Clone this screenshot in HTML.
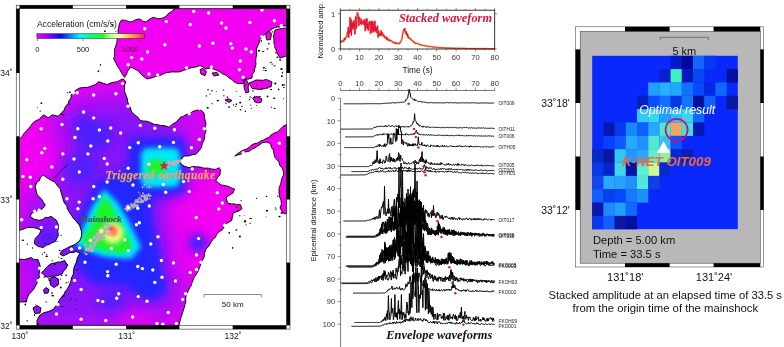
<!DOCTYPE html>
<html lang="en"><head><meta charset="utf-8"><title>Figure</title>
<style>html,body{margin:0;padding:0;background:#fff}body{width:784px;height:347px;overflow:hidden}svg{display:block}text{white-space:pre}</style></head><body>
<svg width="784" height="347" viewBox="0 0 784 347">
<rect width="784" height="347" fill="#fff"/>
<defs>
<filter id="b14" filterUnits="userSpaceOnUse" x="-40" y="-40" width="400" height="440"><feGaussianBlur stdDeviation="14"/></filter>
<filter id="b2" filterUnits="userSpaceOnUse" x="-40" y="-40" width="400" height="440"><feGaussianBlur stdDeviation="2"/></filter>
<filter id="b10" filterUnits="userSpaceOnUse" x="-40" y="-40" width="400" height="440"><feGaussianBlur stdDeviation="10"/></filter>
<filter id="b7" filterUnits="userSpaceOnUse" x="-40" y="-40" width="400" height="440"><feGaussianBlur stdDeviation="7"/></filter>
<filter id="b5" filterUnits="userSpaceOnUse" x="-40" y="-40" width="400" height="440"><feGaussianBlur stdDeviation="5"/></filter>
<filter id="b35" filterUnits="userSpaceOnUse" x="-40" y="-40" width="400" height="440"><feGaussianBlur stdDeviation="3.5"/></filter>
<filter id="b25" filterUnits="userSpaceOnUse" x="-40" y="-40" width="400" height="440"><feGaussianBlur stdDeviation="2.5"/></filter>
<filter id="b15" filterUnits="userSpaceOnUse" x="-40" y="-40" width="400" height="440"><feGaussianBlur stdDeviation="1.5"/></filter>
<filter id="b1" filterUnits="userSpaceOnUse" x="-40" y="-40" width="400" height="440"><feGaussianBlur stdDeviation="0.9"/></filter>
<linearGradient id="cbar" x1="0" x2="1" y1="0" y2="0"><stop offset="0" stop-color="#f000f0"/><stop offset="0.12" stop-color="#8000ff"/><stop offset="0.22" stop-color="#0808ff"/><stop offset="0.32" stop-color="#0090ff"/><stop offset="0.40" stop-color="#00f8f8"/><stop offset="0.50" stop-color="#00ff80"/><stop offset="0.61" stop-color="#20ff20"/><stop offset="0.69" stop-color="#c8ffb0"/><stop offset="0.77" stop-color="#ffffa0"/><stop offset="0.85" stop-color="#ffc850"/><stop offset="0.93" stop-color="#ff7040"/><stop offset="1" stop-color="#f02070"/></linearGradient>
<clipPath id="land"><path d="M174.0 8.6 L177.0 8.6 L180.1 8.6 L183.1 8.6 L186.2 8.6 L189.2 8.6 L192.2 8.6 L195.3 8.6 L198.3 8.6 L201.4 8.6 L204.4 8.6 L207.4 8.6 L210.5 8.6 L213.5 8.6 L216.6 8.6 L219.6 8.6 L222.6 8.6 L225.7 8.6 L228.7 8.6 L231.8 8.6 L234.8 8.6 L237.9 8.6 L240.9 8.6 L243.9 8.6 L247.0 8.6 L250.0 8.6 L253.1 8.6 L256.1 8.6 L259.1 8.6 L262.2 8.6 L265.2 8.6 L268.3 8.6 L271.3 8.6 L274.3 8.6 L277.4 8.6 L280.4 8.6 L283.5 8.6 L286.5 8.6 L286.5 12.1 L286.5 15.6 L286.5 19.0 L286.5 22.5 L286.5 26.0 L282.4 25.9 L279.0 27.0 L275.8 27.2 L272.0 29.0 L269.6 30.9 L266.2 33.3 L263.7 35.3 L262.0 37.5 L259.8 39.6 L258.9 43.8 L257.6 46.0 L256.4 49.4 L256.8 54.5 L256.0 57.6 L255.7 61.2 L256.0 64.4 L254.7 69.0 L254.4 71.6 L252.3 74.3 L252.0 78.0 L248.7 79.1 L246.0 79.0 L243.0 83.6 L237.5 83.6 L234.0 81.8 L232.0 79.5 L228.8 77.8 L226.0 75.2 L222.3 73.7 L220.5 72.3 L217.3 70.6 L214.1 69.3 L211.5 67.7 L205.8 69.0 L202.8 66.9 L200.0 65.5 L196.5 66.9 L192.0 67.5 L187.3 69.1 L183.6 70.4 L179.3 71.9 L175.0 72.0 L171.8 71.9 L167.7 72.5 L165.7 72.8 L162.0 74.5 L159.0 75.9 L155.6 76.4 L153.3 77.4 L149.3 78.5 L147.0 79.0 L143.0 76.0 L140.7 73.4 L137.5 70.6 L133.0 68.0 L130.3 67.3 L127.4 71.6 L126.6 74.2 L124.5 77.4 L121.6 73.0 L119.8 69.6 L117.3 65.9 L115.5 62.2 L113.5 58.6 L114.7 56.3 L114.6 52.6 L114.4 49.5 L115.8 46.0 L116.8 42.6 L117.3 37.5 L118.3 33.7 L118.0 31.1 L118.7 27.4 L119.3 23.6 L121.6 20.0 L125.2 20.3 L130.0 22.0 L132.5 21.5 L136.0 19.5 L140.0 19.0 L142.8 21.2 L146.0 22.0 L148.9 19.6 L153.3 17.3 L157.6 18.7 L161.4 18.5 L165.0 17.0 L169.0 13.0 L172.1 11.5Z"/><path d="M19.5 139.0 L22.2 136.5 L24.0 133.4 L26.5 130.7 L28.2 129.0 L31.2 125.3 L32.3 123.5 L35.3 120.9 L39.5 119.2 L41.2 117.0 L43.8 114.8 L48.1 117.7 L52.5 114.8 L58.2 116.3 L61.3 113.0 L64.0 110.5 L65.3 106.8 L68.3 103.3 L69.0 100.6 L71.0 97.9 L71.2 94.7 L73.4 92.7 L75.5 90.3 L79.4 88.1 L82.7 87.5 L87.8 87.3 L91.4 86.0 L95.7 84.4 L98.6 81.7 L102.6 83.0 L107.0 84.6 L112.0 82.5 L117.3 81.7 L119.4 80.5 L123.0 78.8 L126.0 81.7 L124.5 85.2 L124.5 90.3 L124.9 92.6 L126.1 95.3 L127.4 99.0 L127.5 101.2 L128.6 104.5 L130.3 107.6 L131.6 111.9 L134.6 114.8 L137.7 117.1 L140.3 120.6 L143.2 121.0 L146.8 121.2 L150.4 122.5 L154.4 124.4 L157.1 124.5 L160.5 125.5 L164.1 125.6 L169.2 127.2 L172.5 124.2 L176.4 122.0 L179.1 118.8 L180.7 116.9 L182.7 116.7 L186.5 114.3 L189.3 114.0 L192.7 111.4 L196.0 110.5 L200.0 109.0 L204.0 113.0 L204.6 117.4 L205.0 120.0 L206.0 124.0 L205.2 127.1 L206.0 131.0 L204.7 134.5 L204.7 137.5 L204.0 140.0 L202.4 143.3 L201.4 147.5 L198.0 152.0 L195.6 154.3 L192.0 154.8 L188.4 156.0 L183.6 156.0 L181.9 158.7 L179.0 160.5 L182.0 165.0 L185.0 166.4 L189.0 167.7 L192.4 166.6 L195.5 166.8 L200.0 167.0 L203.4 168.0 L208.5 168.2 L211.5 169.0 L215.7 169.4 L219.1 167.9 L221.6 167.7 L220.3 170.9 L220.0 175.0 L217.5 177.2 L216.0 180.5 L219.0 183.5 L221.6 185.0 L225.8 185.7 L228.8 186.5 L232.0 188.3 L234.6 189.0 L233.0 193.0 L228.8 195.5 L226.0 197.4 L227.5 203.0 L231.5 203.9 L234.4 203.8 L236.6 204.7 L240.4 204.6 L241.9 208.9 L238.7 210.9 L236.9 211.6 L233.2 213.2 L232.3 217.6 L231.8 220.4 L229.8 221.7 L226.3 223.6 L224.6 226.2 L222.4 229.7 L218.8 232.0 L216.2 235.0 L215.8 237.1 L213.0 239.2 L210.6 242.9 L208.7 246.4 L205.9 249.1 L204.4 253.6 L204.3 256.7 L202.5 260.1 L201.5 262.2 L199.9 266.8 L198.6 270.0 L197.4 272.5 L195.0 276.0 L193.6 278.5 L192.5 281.8 L192.0 284.5 L189.7 287.7 L187.7 291.9 L186.5 294.5 L185.7 297.8 L185.7 302.0 L185.0 304.6 L183.9 308.7 L183.0 311.4 L182.0 314.7 L181.0 317.4 L179.9 321.3 L179.0 325.4 L176.0 325.4 L173.0 325.4 L169.9 325.4 L166.9 325.4 L163.9 325.4 L160.9 325.4 L157.9 325.4 L154.8 325.4 L151.8 325.4 L148.8 325.4 L145.8 325.4 L142.7 325.4 L139.7 325.4 L136.7 325.4 L133.7 325.4 L130.7 325.4 L127.6 325.4 L124.6 325.4 L121.6 325.4 L118.6 325.4 L115.6 325.4 L112.5 325.4 L109.5 325.4 L106.5 325.4 L103.5 325.4 L100.4 325.4 L97.4 325.4 L94.4 325.4 L91.4 325.4 L88.4 325.4 L85.3 325.4 L82.3 325.4 L79.3 325.4 L76.3 325.4 L73.3 325.4 L70.2 325.4 L67.2 325.4 L64.2 325.4 L61.2 325.4 L58.1 325.4 L55.1 325.4 L52.1 325.4 L49.1 325.4 L46.1 325.4 L43.0 325.4 L40.0 325.4 L37.0 325.4 L37.0 320.6 L39.6 315.4 L43.5 312.8 L48.7 311.5 L53.9 309.0 L55.0 306.9 L57.8 303.7 L59.2 300.3 L61.7 297.0 L63.8 294.6 L64.9 292.0 L66.9 289.5 L68.9 286.1 L70.8 281.7 L71.4 278.0 L73.4 274.0 L73.5 269.6 L74.6 266.0 L76.4 262.2 L77.2 258.3 L80.0 253.0 L76.0 251.5 L73.1 252.5 L70.0 252.5 L67.2 254.1 L63.0 256.0 L60.0 254.0 L62.0 250.5 L66.2 248.5 L70.0 246.5 L75.0 244.5 L79.6 241.0 L81.6 236.0 L81.6 231.4 L80.6 228.7 L79.6 225.3 L77.5 222.9 L75.5 220.3 L73.5 218.6 L71.5 215.3 L69.8 212.8 L67.4 209.0 L66.7 205.6 L64.4 203.0 L63.5 200.8 L62.4 197.0 L61.0 192.0 L60.1 188.6 L58.0 186.5 L54.8 182.0 L51.2 180.4 L49.0 179.0 L45.3 176.5 L43.2 175.0 L40.4 177.6 L39.6 180.4 L37.0 182.0 L35.2 186.5 L36.2 191.0 L37.1 194.4 L39.2 197.0 L41.5 198.9 L43.2 202.0 L45.3 205.0 L42.2 209.0 L37.2 211.0 L32.1 213.0 L30.1 216.3 L34.2 219.3 L39.2 220.3 L42.9 219.6 L45.3 217.3 L47.8 217.6 L51.3 216.3 L53.7 218.3 L56.4 220.3 L58.3 224.4 L58.4 227.4 L57.8 231.3 L58.4 235.4 L56.9 238.2 L55.3 241.5 L51.8 242.7 L49.3 244.5 L46.6 245.1 L43.2 247.5 L38.2 246.5 L34.2 243.5 L35.2 238.5 L39.2 234.4 L41.2 230.4 L37.2 228.4 L34.2 227.8 L31.1 227.4 L27.2 227.6 L25.1 228.4 L19.5 230.4 L19.5 227.4 L19.5 224.3 L19.5 221.3 L19.5 218.2 L19.5 215.2 L19.5 212.1 L19.5 209.1 L19.5 206.0 L19.5 203.0 L19.5 199.9 L19.5 196.9 L19.5 193.8 L19.5 190.8 L19.5 187.7 L19.5 184.7 L19.5 181.7 L19.5 178.6 L19.5 175.6 L19.5 172.5 L19.5 169.5 L19.5 166.4 L19.5 163.4 L19.5 160.3 L19.5 157.3 L19.5 154.2 L19.5 151.2 L19.5 148.1 L19.5 145.1 L19.5 142.0Z"/><path d="M19.5 302.0 L19.5 298.9 L19.5 295.9 L19.5 292.8 L19.5 289.7 L19.5 286.6 L19.5 283.6 L19.5 280.5 L19.5 277.4 L19.5 274.4 L19.5 271.3 L19.5 268.2 L19.5 265.1 L19.5 262.1 L19.5 259.0 L24.2 259.6 L27.9 258.6 L31.1 257.5 L33.8 259.4 L38.0 259.6 L39.8 264.6 L40.6 268.0 L39.5 270.7 L39.0 274.7 L39.4 277.3 L37.8 279.5 L37.0 283.0 L34.6 287.7 L32.5 290.7 L31.3 291.9 L28.8 294.6 L27.0 298.8 L26.5 301.5 L22.0 302.0Z"/><path d="M41.5 272.7 L44.5 270.0 L47.3 266.5 L50.6 263.9 L55.3 262.8 L58.7 261.9 L60.7 262.1 L64.6 260.5 L67.5 265.0 L66.1 268.4 L63.4 271.3 L62.5 273.5 L57.6 275.6 L54.2 276.3 L51.1 276.1 L48.2 277.2 L45.0 276.5Z"/><path d="M43.5 290.0 L46.0 287.5 L49.0 289.5 L48.0 293.0 L44.5 293.5Z"/><path d="M33.0 308.0 L37.0 305.5 L41.0 308.0 L40.0 313.0 L35.0 313.5Z"/><path d="M286.5 124.5 L283.2 126.2 L280.7 128.8 L277.8 131.7 L274.2 133.0 L271.1 135.0 L269.0 137.5 L265.8 138.5 L263.8 139.9 L260.5 141.0 L257.6 143.0 L254.5 143.6 L251.4 145.1 L249.0 147.5 L246.4 149.1 L242.4 150.5 L240.0 152.0 L238.1 153.3 L234.6 156.0 L238.0 154.8 L240.3 154.5 L243.0 152.9 L246.0 151.8 L249.2 151.2 L251.5 149.5 L255.1 147.7 L257.6 146.0 L260.2 144.4 L262.4 142.7 L266.0 142.0 L270.6 143.5 L271.3 147.4 L273.5 150.4 L273.8 153.4 L275.0 157.6 L279.0 162.0 L279.8 165.5 L282.0 167.7 L283.5 171.7 L283.6 175.0 L282.2 177.4 L281.3 180.7 L280.7 183.6 L279.2 187.7 L279.0 192.0 L279.6 196.8 L281.0 200.0 L281.4 204.1 L280.0 208.0 L283.0 213.0 L286.5 214.0 L286.5 210.9 L286.5 207.8 L286.5 204.7 L286.5 201.7 L286.5 198.6 L286.5 195.5 L286.5 192.4 L286.5 189.3 L286.5 186.2 L286.5 183.1 L286.5 180.1 L286.5 177.0 L286.5 173.9 L286.5 170.8 L286.5 167.7 L286.5 164.6 L286.5 161.5 L286.5 158.4 L286.5 155.4 L286.5 152.3 L286.5 149.2 L286.5 146.1 L286.5 143.0 L286.5 139.9 L286.5 136.8 L286.5 133.8 L286.5 130.7 L286.5 127.6Z"/><path d="M266.0 33.0 L269.0 31.0 L271.5 34.0 L270.5 39.5 L267.0 40.0 L266.0 37.3Z"/><path d="M275.0 30.0 L278.5 29.1 L281.8 28.5 L286.5 28.0 L286.5 31.1 L286.5 34.2 L286.5 37.3 L286.5 40.4 L286.5 43.6 L286.5 46.7 L286.5 49.8 L286.5 52.9 L286.5 56.0 L283.2 57.0 L280.0 58.0 L277.5 54.0 L276.0 50.0 L274.4 46.2 L273.9 43.2 L274.0 40.0 L273.5 35.8 L274.3 32.9Z"/><path d="M249.0 83.0 L252.7 81.6 L256.0 80.0 L259.8 80.1 L263.1 80.3 L266.0 79.5 L268.8 80.4 L272.0 82.0 L271.0 87.0 L268.9 87.0 L265.4 88.6 L262.0 89.0 L257.8 89.4 L256.0 88.9 L252.0 88.5 L250.9 86.3Z"/><path d="M212.0 73.0 L217.0 72.5 L219.0 75.0 L214.0 76.0Z"/><path d="M243.0 80.0 L246.0 79.0 L248.5 84.0 L248.1 88.0 L249.0 92.0 L246.0 93.0 L245.0 90.6 L244.0 87.0 L244.0 84.1Z"/><path d="M252.6 98.0 L257.0 96.5 L262.0 99.0 L261.0 102.3 L258.2 102.9 L255.0 102.0Z"/><path d="M225.0 100.0 L228.5 98.8 L232.0 100.5 L229.0 102.5Z"/><path d="M200.0 69.5 L203.0 68.5 L206.5 71.5 L205.0 75.7 L201.0 74.0Z"/><path d="M50.0 278.0 L54.0 276.8 L58.5 279.0 L58.6 282.3 L58.0 285.0 L54.0 287.5 L50.5 285.0 L49.8 280.7Z"/></clipPath>
<clipPath id="mapclip"><rect x="19.5" y="8.6" width="267" height="316.8"/></clipPath>
</defs>
<g clip-path="url(#mapclip)"><g clip-path="url(#land)">
<rect x="16" y="5" width="275" height="325" fill="#f200f2"/>
<g fill="#8214f8" filter="url(#b14)" opacity="0.95">
<polygon points="55,105 130,92 200,118 204,160 172,200 172,262 188,300 150,330 20,330 20,215 40,190 60,160"/>
</g>
<g fill="#f200f2" filter="url(#b10)">
<ellipse cx="38" cy="160" rx="20" ry="20" opacity="0.9"/>
<ellipse cx="189" cy="214" rx="17" ry="22" opacity="1"/>
<ellipse cx="138" cy="321" rx="20" ry="11" opacity="1"/>
<ellipse cx="188" cy="256" rx="11" ry="10" opacity="0.8"/>
<ellipse cx="214" cy="196" rx="14" ry="16" opacity="0.9"/>
<ellipse cx="190" cy="134" rx="14" ry="14" opacity="0.8"/>
<ellipse cx="26" cy="282" rx="9" ry="16" opacity="0.6"/>
</g>
<g fill="#2428ff" filter="url(#b5)">
<polygon points="129,138 185,137 186,194 153,198 151,215 160,250 163,280 142,296 120,285 92,284 73,262 72,232 85,205 97,181 128,168"/>
<ellipse cx="150" cy="286" rx="17" ry="14" opacity="1"/>
<ellipse cx="198" cy="243" rx="9" ry="9" opacity="0.95"/>
<ellipse cx="94" cy="136" rx="19" ry="16" opacity="0.6"/>
<ellipse cx="80" cy="168" rx="18" ry="16" opacity="0.55"/>
<ellipse cx="48" cy="238" rx="10" ry="9" opacity="0.6"/>
<ellipse cx="81" cy="122" rx="10" ry="9" opacity="0.45"/>
<ellipse cx="112" cy="300" rx="14" ry="10" opacity="0.5"/>
</g>
<g fill="#00e8f8" filter="url(#b25)">
<rect x="141" y="148" width="39" height="39" rx="7"/>
<polygon points="104,189 118,203 130,224 141,247 131,259 105,257 88,251 75,244 83,228 91,209"/>
</g>
<g fill="#1cf42c" filter="url(#b2)">
<ellipse cx="156.5" cy="166.8" rx="10" ry="7.5" opacity="1"/>
<polygon points="105,196 114,210 123,227 133,247 124,254 105,251 91,247 81,241 92,224 98,207"/>
</g>
<g fill="#f4f884" filter="url(#b25)"><ellipse cx="113" cy="233" rx="10.5" ry="10.5" opacity="1"/></g>
<g fill="#ff8c50" filter="url(#b15)"><ellipse cx="113" cy="231" rx="5" ry="5.5" opacity="1"/></g>
<g fill="#f03c80" filter="url(#b1)"><ellipse cx="110.5" cy="228.5" rx="2.4" ry="2.4" opacity="1"/></g>
</g></g>
<g clip-path="url(#mapclip)" fill="none" stroke="#000" stroke-width="0.9" stroke-linejoin="round">
<path d="M174.0 8.6 L177.0 8.6 L180.1 8.6 L183.1 8.6 L186.2 8.6 L189.2 8.6 L192.2 8.6 L195.3 8.6 L198.3 8.6 L201.4 8.6 L204.4 8.6 L207.4 8.6 L210.5 8.6 L213.5 8.6 L216.6 8.6 L219.6 8.6 L222.6 8.6 L225.7 8.6 L228.7 8.6 L231.8 8.6 L234.8 8.6 L237.9 8.6 L240.9 8.6 L243.9 8.6 L247.0 8.6 L250.0 8.6 L253.1 8.6 L256.1 8.6 L259.1 8.6 L262.2 8.6 L265.2 8.6 L268.3 8.6 L271.3 8.6 L274.3 8.6 L277.4 8.6 L280.4 8.6 L283.5 8.6 L286.5 8.6 L286.5 12.1 L286.5 15.6 L286.5 19.0 L286.5 22.5 L286.5 26.0 L282.4 25.9 L279.0 27.0 L275.8 27.2 L272.0 29.0 L269.6 30.9 L266.2 33.3 L263.7 35.3 L262.0 37.5 L259.8 39.6 L258.9 43.8 L257.6 46.0 L256.4 49.4 L256.8 54.5 L256.0 57.6 L255.7 61.2 L256.0 64.4 L254.7 69.0 L254.4 71.6 L252.3 74.3 L252.0 78.0 L248.7 79.1 L246.0 79.0 L243.0 83.6 L237.5 83.6 L234.0 81.8 L232.0 79.5 L228.8 77.8 L226.0 75.2 L222.3 73.7 L220.5 72.3 L217.3 70.6 L214.1 69.3 L211.5 67.7 L205.8 69.0 L202.8 66.9 L200.0 65.5 L196.5 66.9 L192.0 67.5 L187.3 69.1 L183.6 70.4 L179.3 71.9 L175.0 72.0 L171.8 71.9 L167.7 72.5 L165.7 72.8 L162.0 74.5 L159.0 75.9 L155.6 76.4 L153.3 77.4 L149.3 78.5 L147.0 79.0 L143.0 76.0 L140.7 73.4 L137.5 70.6 L133.0 68.0 L130.3 67.3 L127.4 71.6 L126.6 74.2 L124.5 77.4 L121.6 73.0 L119.8 69.6 L117.3 65.9 L115.5 62.2 L113.5 58.6 L114.7 56.3 L114.6 52.6 L114.4 49.5 L115.8 46.0 L116.8 42.6 L117.3 37.5 L118.3 33.7 L118.0 31.1 L118.7 27.4 L119.3 23.6 L121.6 20.0 L125.2 20.3 L130.0 22.0 L132.5 21.5 L136.0 19.5 L140.0 19.0 L142.8 21.2 L146.0 22.0 L148.9 19.6 L153.3 17.3 L157.6 18.7 L161.4 18.5 L165.0 17.0 L169.0 13.0 L172.1 11.5Z"/>
<path d="M19.5 139.0 L22.2 136.5 L24.0 133.4 L26.5 130.7 L28.2 129.0 L31.2 125.3 L32.3 123.5 L35.3 120.9 L39.5 119.2 L41.2 117.0 L43.8 114.8 L48.1 117.7 L52.5 114.8 L58.2 116.3 L61.3 113.0 L64.0 110.5 L65.3 106.8 L68.3 103.3 L69.0 100.6 L71.0 97.9 L71.2 94.7 L73.4 92.7 L75.5 90.3 L79.4 88.1 L82.7 87.5 L87.8 87.3 L91.4 86.0 L95.7 84.4 L98.6 81.7 L102.6 83.0 L107.0 84.6 L112.0 82.5 L117.3 81.7 L119.4 80.5 L123.0 78.8 L126.0 81.7 L124.5 85.2 L124.5 90.3 L124.9 92.6 L126.1 95.3 L127.4 99.0 L127.5 101.2 L128.6 104.5 L130.3 107.6 L131.6 111.9 L134.6 114.8 L137.7 117.1 L140.3 120.6 L143.2 121.0 L146.8 121.2 L150.4 122.5 L154.4 124.4 L157.1 124.5 L160.5 125.5 L164.1 125.6 L169.2 127.2 L172.5 124.2 L176.4 122.0 L179.1 118.8 L180.7 116.9 L182.7 116.7 L186.5 114.3 L189.3 114.0 L192.7 111.4 L196.0 110.5 L200.0 109.0 L204.0 113.0 L204.6 117.4 L205.0 120.0 L206.0 124.0 L205.2 127.1 L206.0 131.0 L204.7 134.5 L204.7 137.5 L204.0 140.0 L202.4 143.3 L201.4 147.5 L198.0 152.0 L195.6 154.3 L192.0 154.8 L188.4 156.0 L183.6 156.0 L181.9 158.7 L179.0 160.5 L182.0 165.0 L185.0 166.4 L189.0 167.7 L192.4 166.6 L195.5 166.8 L200.0 167.0 L203.4 168.0 L208.5 168.2 L211.5 169.0 L215.7 169.4 L219.1 167.9 L221.6 167.7 L220.3 170.9 L220.0 175.0 L217.5 177.2 L216.0 180.5 L219.0 183.5 L221.6 185.0 L225.8 185.7 L228.8 186.5 L232.0 188.3 L234.6 189.0 L233.0 193.0 L228.8 195.5 L226.0 197.4 L227.5 203.0 L231.5 203.9 L234.4 203.8 L236.6 204.7 L240.4 204.6 L241.9 208.9 L238.7 210.9 L236.9 211.6 L233.2 213.2 L232.3 217.6 L231.8 220.4 L229.8 221.7 L226.3 223.6 L224.6 226.2 L222.4 229.7 L218.8 232.0 L216.2 235.0 L215.8 237.1 L213.0 239.2 L210.6 242.9 L208.7 246.4 L205.9 249.1 L204.4 253.6 L204.3 256.7 L202.5 260.1 L201.5 262.2 L199.9 266.8 L198.6 270.0 L197.4 272.5 L195.0 276.0 L193.6 278.5 L192.5 281.8 L192.0 284.5 L189.7 287.7 L187.7 291.9 L186.5 294.5 L185.7 297.8 L185.7 302.0 L185.0 304.6 L183.9 308.7 L183.0 311.4 L182.0 314.7 L181.0 317.4 L179.9 321.3 L179.0 325.4 L176.0 325.4 L173.0 325.4 L169.9 325.4 L166.9 325.4 L163.9 325.4 L160.9 325.4 L157.9 325.4 L154.8 325.4 L151.8 325.4 L148.8 325.4 L145.8 325.4 L142.7 325.4 L139.7 325.4 L136.7 325.4 L133.7 325.4 L130.7 325.4 L127.6 325.4 L124.6 325.4 L121.6 325.4 L118.6 325.4 L115.6 325.4 L112.5 325.4 L109.5 325.4 L106.5 325.4 L103.5 325.4 L100.4 325.4 L97.4 325.4 L94.4 325.4 L91.4 325.4 L88.4 325.4 L85.3 325.4 L82.3 325.4 L79.3 325.4 L76.3 325.4 L73.3 325.4 L70.2 325.4 L67.2 325.4 L64.2 325.4 L61.2 325.4 L58.1 325.4 L55.1 325.4 L52.1 325.4 L49.1 325.4 L46.1 325.4 L43.0 325.4 L40.0 325.4 L37.0 325.4 L37.0 320.6 L39.6 315.4 L43.5 312.8 L48.7 311.5 L53.9 309.0 L55.0 306.9 L57.8 303.7 L59.2 300.3 L61.7 297.0 L63.8 294.6 L64.9 292.0 L66.9 289.5 L68.9 286.1 L70.8 281.7 L71.4 278.0 L73.4 274.0 L73.5 269.6 L74.6 266.0 L76.4 262.2 L77.2 258.3 L80.0 253.0 L76.0 251.5 L73.1 252.5 L70.0 252.5 L67.2 254.1 L63.0 256.0 L60.0 254.0 L62.0 250.5 L66.2 248.5 L70.0 246.5 L75.0 244.5 L79.6 241.0 L81.6 236.0 L81.6 231.4 L80.6 228.7 L79.6 225.3 L77.5 222.9 L75.5 220.3 L73.5 218.6 L71.5 215.3 L69.8 212.8 L67.4 209.0 L66.7 205.6 L64.4 203.0 L63.5 200.8 L62.4 197.0 L61.0 192.0 L60.1 188.6 L58.0 186.5 L54.8 182.0 L51.2 180.4 L49.0 179.0 L45.3 176.5 L43.2 175.0 L40.4 177.6 L39.6 180.4 L37.0 182.0 L35.2 186.5 L36.2 191.0 L37.1 194.4 L39.2 197.0 L41.5 198.9 L43.2 202.0 L45.3 205.0 L42.2 209.0 L37.2 211.0 L32.1 213.0 L30.1 216.3 L34.2 219.3 L39.2 220.3 L42.9 219.6 L45.3 217.3 L47.8 217.6 L51.3 216.3 L53.7 218.3 L56.4 220.3 L58.3 224.4 L58.4 227.4 L57.8 231.3 L58.4 235.4 L56.9 238.2 L55.3 241.5 L51.8 242.7 L49.3 244.5 L46.6 245.1 L43.2 247.5 L38.2 246.5 L34.2 243.5 L35.2 238.5 L39.2 234.4 L41.2 230.4 L37.2 228.4 L34.2 227.8 L31.1 227.4 L27.2 227.6 L25.1 228.4 L19.5 230.4 L19.5 227.4 L19.5 224.3 L19.5 221.3 L19.5 218.2 L19.5 215.2 L19.5 212.1 L19.5 209.1 L19.5 206.0 L19.5 203.0 L19.5 199.9 L19.5 196.9 L19.5 193.8 L19.5 190.8 L19.5 187.7 L19.5 184.7 L19.5 181.7 L19.5 178.6 L19.5 175.6 L19.5 172.5 L19.5 169.5 L19.5 166.4 L19.5 163.4 L19.5 160.3 L19.5 157.3 L19.5 154.2 L19.5 151.2 L19.5 148.1 L19.5 145.1 L19.5 142.0Z"/>
<path d="M19.5 302.0 L19.5 298.9 L19.5 295.9 L19.5 292.8 L19.5 289.7 L19.5 286.6 L19.5 283.6 L19.5 280.5 L19.5 277.4 L19.5 274.4 L19.5 271.3 L19.5 268.2 L19.5 265.1 L19.5 262.1 L19.5 259.0 L24.2 259.6 L27.9 258.6 L31.1 257.5 L33.8 259.4 L38.0 259.6 L39.8 264.6 L40.6 268.0 L39.5 270.7 L39.0 274.7 L39.4 277.3 L37.8 279.5 L37.0 283.0 L34.6 287.7 L32.5 290.7 L31.3 291.9 L28.8 294.6 L27.0 298.8 L26.5 301.5 L22.0 302.0Z"/>
<path d="M41.5 272.7 L44.5 270.0 L47.3 266.5 L50.6 263.9 L55.3 262.8 L58.7 261.9 L60.7 262.1 L64.6 260.5 L67.5 265.0 L66.1 268.4 L63.4 271.3 L62.5 273.5 L57.6 275.6 L54.2 276.3 L51.1 276.1 L48.2 277.2 L45.0 276.5Z"/>
<path d="M43.5 290.0 L46.0 287.5 L49.0 289.5 L48.0 293.0 L44.5 293.5Z"/>
<path d="M33.0 308.0 L37.0 305.5 L41.0 308.0 L40.0 313.0 L35.0 313.5Z"/>
<path d="M286.5 124.5 L283.2 126.2 L280.7 128.8 L277.8 131.7 L274.2 133.0 L271.1 135.0 L269.0 137.5 L265.8 138.5 L263.8 139.9 L260.5 141.0 L257.6 143.0 L254.5 143.6 L251.4 145.1 L249.0 147.5 L246.4 149.1 L242.4 150.5 L240.0 152.0 L238.1 153.3 L234.6 156.0 L238.0 154.8 L240.3 154.5 L243.0 152.9 L246.0 151.8 L249.2 151.2 L251.5 149.5 L255.1 147.7 L257.6 146.0 L260.2 144.4 L262.4 142.7 L266.0 142.0 L270.6 143.5 L271.3 147.4 L273.5 150.4 L273.8 153.4 L275.0 157.6 L279.0 162.0 L279.8 165.5 L282.0 167.7 L283.5 171.7 L283.6 175.0 L282.2 177.4 L281.3 180.7 L280.7 183.6 L279.2 187.7 L279.0 192.0 L279.6 196.8 L281.0 200.0 L281.4 204.1 L280.0 208.0 L283.0 213.0 L286.5 214.0 L286.5 210.9 L286.5 207.8 L286.5 204.7 L286.5 201.7 L286.5 198.6 L286.5 195.5 L286.5 192.4 L286.5 189.3 L286.5 186.2 L286.5 183.1 L286.5 180.1 L286.5 177.0 L286.5 173.9 L286.5 170.8 L286.5 167.7 L286.5 164.6 L286.5 161.5 L286.5 158.4 L286.5 155.4 L286.5 152.3 L286.5 149.2 L286.5 146.1 L286.5 143.0 L286.5 139.9 L286.5 136.8 L286.5 133.8 L286.5 130.7 L286.5 127.6Z"/>
<path d="M266.0 33.0 L269.0 31.0 L271.5 34.0 L270.5 39.5 L267.0 40.0 L266.0 37.3Z"/>
<path d="M275.0 30.0 L278.5 29.1 L281.8 28.5 L286.5 28.0 L286.5 31.1 L286.5 34.2 L286.5 37.3 L286.5 40.4 L286.5 43.6 L286.5 46.7 L286.5 49.8 L286.5 52.9 L286.5 56.0 L283.2 57.0 L280.0 58.0 L277.5 54.0 L276.0 50.0 L274.4 46.2 L273.9 43.2 L274.0 40.0 L273.5 35.8 L274.3 32.9Z"/>
<path d="M249.0 83.0 L252.7 81.6 L256.0 80.0 L259.8 80.1 L263.1 80.3 L266.0 79.5 L268.8 80.4 L272.0 82.0 L271.0 87.0 L268.9 87.0 L265.4 88.6 L262.0 89.0 L257.8 89.4 L256.0 88.9 L252.0 88.5 L250.9 86.3Z"/>
<path d="M212.0 73.0 L217.0 72.5 L219.0 75.0 L214.0 76.0Z"/>
<path d="M243.0 80.0 L246.0 79.0 L248.5 84.0 L248.1 88.0 L249.0 92.0 L246.0 93.0 L245.0 90.6 L244.0 87.0 L244.0 84.1Z"/>
<path d="M252.6 98.0 L257.0 96.5 L262.0 99.0 L261.0 102.3 L258.2 102.9 L255.0 102.0Z"/>
<path d="M225.0 100.0 L228.5 98.8 L232.0 100.5 L229.0 102.5Z"/>
<path d="M200.0 69.5 L203.0 68.5 L206.5 71.5 L205.0 75.7 L201.0 74.0Z"/>
<path d="M50.0 278.0 L54.0 276.8 L58.5 279.0 L58.6 282.3 L58.0 285.0 L54.0 287.5 L50.5 285.0 L49.8 280.7Z"/>
<path d="M67.7 165 L63 169 L59 172.5 L56.5 176 L53.3 178" stroke-width="0.7"/>
</g>
<g clip-path="url(#mapclip)" fill="#b4b4b4" stroke="none">
<circle cx="92.7" cy="238.6" r="0.9"/>
<circle cx="96.7" cy="238.1" r="1.0"/>
<circle cx="100.4" cy="234.8" r="0.8"/>
<circle cx="89.9" cy="246.8" r="0.6"/>
<circle cx="110.2" cy="225.8" r="1.0"/>
<circle cx="92.5" cy="248.1" r="0.6"/>
<circle cx="91.0" cy="247.5" r="0.9"/>
<circle cx="97.4" cy="238.5" r="1.0"/>
<circle cx="96.5" cy="237.1" r="0.8"/>
<circle cx="111.4" cy="226.0" r="1.1"/>
<circle cx="93.8" cy="245.4" r="0.6"/>
<circle cx="100.3" cy="234.3" r="0.9"/>
<circle cx="107.2" cy="227.0" r="0.7"/>
<circle cx="101.2" cy="229.4" r="0.9"/>
<circle cx="86.4" cy="247.6" r="0.8"/>
<circle cx="86.5" cy="254.2" r="1.1"/>
<circle cx="89.5" cy="249.9" r="0.6"/>
<circle cx="104.7" cy="233.6" r="0.9"/>
<circle cx="90.9" cy="246.0" r="1.1"/>
<circle cx="88.4" cy="249.6" r="0.8"/>
<circle cx="107.9" cy="225.1" r="1.2"/>
<circle cx="88.6" cy="248.9" r="1.0"/>
<circle cx="90.4" cy="249.3" r="0.8"/>
<circle cx="102.5" cy="233.4" r="0.7"/>
<circle cx="87.7" cy="248.9" r="1.0"/>
<circle cx="90.4" cy="243.8" r="0.9"/>
<circle cx="99.8" cy="236.1" r="0.7"/>
<circle cx="106.6" cy="227.0" r="0.7"/>
<circle cx="103.6" cy="232.3" r="1.3"/>
<circle cx="104.0" cy="227.8" r="0.7"/>
<circle cx="89.1" cy="250.7" r="1.1"/>
<circle cx="93.5" cy="242.9" r="0.8"/>
<circle cx="90.6" cy="246.7" r="0.8"/>
<circle cx="100.2" cy="235.2" r="0.8"/>
<circle cx="106.4" cy="228.5" r="0.8"/>
<circle cx="97.4" cy="240.9" r="0.9"/>
<circle cx="100.2" cy="238.5" r="1.2"/>
<circle cx="106.1" cy="224.0" r="1.0"/>
<circle cx="90.3" cy="248.4" r="1.2"/>
<circle cx="102.1" cy="233.7" r="1.0"/>
<circle cx="96.9" cy="237.7" r="1.3"/>
<circle cx="85.8" cy="249.1" r="1.2"/>
<circle cx="101.6" cy="229.4" r="1.2"/>
<circle cx="92.9" cy="238.9" r="1.2"/>
<circle cx="96.7" cy="237.3" r="1.0"/>
<circle cx="98.4" cy="237.5" r="1.0"/>
<circle cx="85.0" cy="245.1" r="1.2"/>
<circle cx="100.1" cy="235.2" r="1.0"/>
<circle cx="96.6" cy="239.8" r="1.1"/>
<circle cx="86.0" cy="249.9" r="0.8"/>
<circle cx="99.2" cy="233.9" r="1.2"/>
<circle cx="93.9" cy="245.5" r="1.1"/>
<circle cx="93.1" cy="250.5" r="1.1"/>
<circle cx="97.5" cy="239.4" r="1.1"/>
<circle cx="88.2" cy="248.4" r="1.2"/>
<circle cx="103.7" cy="230.9" r="0.8"/>
<circle cx="86.4" cy="248.5" r="1.2"/>
<circle cx="103.3" cy="233.0" r="0.7"/>
<circle cx="96.3" cy="241.7" r="0.9"/>
<circle cx="98.6" cy="235.8" r="1.2"/>
<circle cx="106.9" cy="226.7" r="0.6"/>
<circle cx="108.1" cy="230.1" r="1.0"/>
<circle cx="93.6" cy="243.6" r="0.7"/>
<circle cx="99.9" cy="240.8" r="0.8"/>
<circle cx="92.4" cy="249.2" r="0.9"/>
<circle cx="98.4" cy="232.6" r="1.3"/>
<circle cx="102.0" cy="236.4" r="0.7"/>
<circle cx="84.4" cy="252.3" r="0.7"/>
<circle cx="91.1" cy="247.5" r="1.0"/>
<circle cx="100.0" cy="234.0" r="1.2"/>
<circle cx="109.6" cy="230.9" r="1.1"/>
<circle cx="87.3" cy="249.4" r="1.2"/>
<circle cx="91.6" cy="240.5" r="1.2"/>
<circle cx="104.3" cy="228.1" r="0.7"/>
<circle cx="103.2" cy="230.6" r="1.1"/>
<circle cx="95.6" cy="243.2" r="1.3"/>
<circle cx="98.7" cy="236.3" r="1.2"/>
<circle cx="104.5" cy="230.4" r="0.9"/>
<circle cx="98.8" cy="235.4" r="0.6"/>
<circle cx="107.0" cy="232.4" r="0.7"/>
<circle cx="94.3" cy="242.2" r="0.7"/>
<circle cx="97.3" cy="234.8" r="1.1"/>
<circle cx="102.5" cy="227.6" r="0.7"/>
<circle cx="90.2" cy="246.0" r="1.1"/>
<circle cx="97.0" cy="234.8" r="1.0"/>
<circle cx="91.0" cy="246.5" r="1.2"/>
<circle cx="94.2" cy="242.3" r="1.0"/>
<circle cx="99.7" cy="239.5" r="1.0"/>
<circle cx="104.4" cy="237.2" r="1.0"/>
<circle cx="96.1" cy="239.1" r="0.9"/>
<circle cx="103.6" cy="235.0" r="0.9"/>
<circle cx="108.4" cy="226.4" r="0.9"/>
<circle cx="86.6" cy="250.2" r="1.2"/>
<circle cx="96.5" cy="240.8" r="1.0"/>
<circle cx="108.6" cy="230.5" r="0.6"/>
<circle cx="91.5" cy="250.0" r="0.8"/>
<circle cx="93.8" cy="242.1" r="1.1"/>
<circle cx="88.2" cy="248.7" r="0.7"/>
<circle cx="96.5" cy="239.0" r="0.9"/>
<circle cx="98.8" cy="239.4" r="1.0"/>
<circle cx="97.0" cy="234.7" r="1.0"/>
<circle cx="105.3" cy="233.0" r="1.2"/>
<circle cx="105.3" cy="230.1" r="1.2"/>
<circle cx="95.3" cy="246.3" r="0.7"/>
<circle cx="91.8" cy="244.2" r="0.7"/>
<circle cx="101.7" cy="232.0" r="0.7"/>
<circle cx="95.3" cy="241.2" r="0.7"/>
<circle cx="105.3" cy="231.5" r="0.7"/>
<circle cx="97.7" cy="236.5" r="1.1"/>
<circle cx="91.7" cy="247.5" r="0.6"/>
<circle cx="96.3" cy="237.4" r="0.7"/>
<circle cx="91.9" cy="250.9" r="1.3"/>
<circle cx="107.0" cy="228.3" r="1.3"/>
<circle cx="96.9" cy="238.2" r="0.9"/>
<circle cx="95.6" cy="239.8" r="0.6"/>
<circle cx="102.4" cy="232.7" r="0.9"/>
<circle cx="101.5" cy="233.5" r="0.7"/>
<circle cx="101.6" cy="239.1" r="1.2"/>
<circle cx="103.4" cy="231.5" r="0.9"/>
<circle cx="94.5" cy="236.3" r="1.2"/>
<circle cx="94.9" cy="243.5" r="1.1"/>
<circle cx="100.9" cy="233.2" r="1.2"/>
<circle cx="101.9" cy="230.6" r="0.9"/>
<circle cx="103.7" cy="234.0" r="0.9"/>
<circle cx="85.6" cy="254.0" r="1.0"/>
<circle cx="94.4" cy="245.0" r="0.8"/>
<circle cx="98.8" cy="233.8" r="0.9"/>
<circle cx="106.2" cy="223.6" r="1.1"/>
<circle cx="110.0" cy="226.9" r="1.1"/>
<circle cx="91.9" cy="245.7" r="0.7"/>
<circle cx="96.0" cy="243.1" r="1.2"/>
<circle cx="93.9" cy="237.4" r="1.0"/>
<circle cx="105.8" cy="223.4" r="0.7"/>
<circle cx="99.6" cy="235.9" r="1.3"/>
<circle cx="89.3" cy="248.1" r="0.9"/>
<circle cx="103.9" cy="237.8" r="0.9"/>
<circle cx="96.7" cy="237.2" r="0.8"/>
<circle cx="99.4" cy="234.4" r="1.1"/>
<circle cx="94.6" cy="244.4" r="0.6"/>
<circle cx="90.3" cy="245.9" r="1.2"/>
<circle cx="107.8" cy="234.4" r="1.3"/>
<circle cx="90.1" cy="248.9" r="0.9"/>
<circle cx="107.5" cy="229.1" r="1.3"/>
<circle cx="97.3" cy="234.3" r="1.2"/>
<circle cx="101.6" cy="238.2" r="0.9"/>
<circle cx="93.4" cy="247.5" r="0.7"/>
<circle cx="95.3" cy="238.6" r="0.8"/>
<circle cx="96.5" cy="238.5" r="1.0"/>
<circle cx="110.8" cy="225.1" r="0.8"/>
<circle cx="91.9" cy="246.9" r="1.0"/>
<circle cx="134.4" cy="206.7" r="1.1"/>
<circle cx="138.7" cy="199.3" r="0.8"/>
<circle cx="134.8" cy="205.3" r="1.3"/>
<circle cx="127.9" cy="209.0" r="0.9"/>
<circle cx="142.3" cy="202.1" r="0.7"/>
<circle cx="127.3" cy="206.1" r="1.1"/>
<circle cx="134.1" cy="204.3" r="0.9"/>
<circle cx="144.1" cy="198.8" r="0.7"/>
<circle cx="143.8" cy="196.6" r="0.8"/>
<circle cx="136.1" cy="206.4" r="0.9"/>
<circle cx="142.8" cy="200.4" r="1.0"/>
<circle cx="145.1" cy="198.5" r="0.9"/>
<circle cx="128.7" cy="207.3" r="0.7"/>
<circle cx="137.6" cy="201.9" r="0.8"/>
<circle cx="145.4" cy="199.4" r="1.1"/>
<circle cx="127.3" cy="210.4" r="1.2"/>
<circle cx="133.6" cy="206.5" r="1.2"/>
<circle cx="136.3" cy="205.9" r="1.1"/>
<circle cx="150.7" cy="195.8" r="1.0"/>
<circle cx="144.9" cy="199.9" r="0.9"/>
<circle cx="149.2" cy="196.1" r="0.9"/>
<circle cx="133.9" cy="205.5" r="0.9"/>
<circle cx="128.5" cy="205.4" r="1.0"/>
<circle cx="145.3" cy="197.7" r="1.2"/>
<circle cx="147.1" cy="197.9" r="1.0"/>
<circle cx="136.0" cy="200.2" r="1.1"/>
<circle cx="146.8" cy="199.3" r="1.2"/>
<circle cx="129.9" cy="209.2" r="1.3"/>
<circle cx="127.6" cy="207.2" r="1.2"/>
<circle cx="141.6" cy="201.7" r="1.2"/>
<circle cx="138.6" cy="200.6" r="0.9"/>
<circle cx="148.5" cy="194.8" r="1.0"/>
<circle cx="142.6" cy="196.2" r="0.9"/>
<circle cx="144.6" cy="195.5" r="1.2"/>
<circle cx="148.5" cy="195.6" r="1.1"/>
<circle cx="138.0" cy="199.4" r="0.9"/>
<circle cx="137.4" cy="205.6" r="1.4"/>
<circle cx="135.4" cy="205.1" r="0.9"/>
<circle cx="133.5" cy="205.1" r="0.8"/>
<circle cx="127.4" cy="205.3" r="0.7"/>
<circle cx="125.8" cy="208.7" r="1.3"/>
<circle cx="127.5" cy="209.2" r="0.8"/>
<circle cx="131.3" cy="203.8" r="0.8"/>
<circle cx="130.3" cy="207.6" r="1.2"/>
<circle cx="131.2" cy="204.1" r="1.0"/>
<circle cx="134.4" cy="203.3" r="0.9"/>
<circle cx="140.6" cy="201.4" r="0.8"/>
<circle cx="129.4" cy="207.4" r="0.9"/>
<circle cx="137.6" cy="202.0" r="1.4"/>
<circle cx="141.8" cy="200.7" r="1.0"/>
<circle cx="135.5" cy="201.7" r="1.1"/>
<circle cx="130.4" cy="208.1" r="0.8"/>
<circle cx="145.0" cy="197.5" r="1.4"/>
<circle cx="131.7" cy="205.3" r="1.2"/>
<circle cx="127.1" cy="206.2" r="1.3"/>
<circle cx="127.7" cy="210.4" r="0.7"/>
<circle cx="134.3" cy="203.5" r="1.1"/>
<circle cx="145.8" cy="200.5" r="0.9"/>
<circle cx="150.0" cy="198.7" r="0.8"/>
<circle cx="138.3" cy="201.8" r="1.3"/>
<circle cx="133.3" cy="205.5" r="0.8"/>
<circle cx="136.9" cy="201.5" r="1.1"/>
<circle cx="127.4" cy="208.7" r="1.4"/>
<circle cx="145.8" cy="198.0" r="0.9"/>
<circle cx="143.2" cy="201.8" r="1.0"/>
<circle cx="128.6" cy="208.7" r="0.8"/>
<circle cx="140.5" cy="202.5" r="1.0"/>
<circle cx="132.5" cy="206.5" r="1.1"/>
<circle cx="132.8" cy="208.1" r="0.9"/>
<circle cx="146.8" cy="195.7" r="0.9"/>
<circle cx="178.0" cy="162.3" r="0.7"/>
<circle cx="175.7" cy="161.9" r="0.9"/>
<circle cx="177.7" cy="161.8" r="0.8"/>
<circle cx="169.5" cy="164.7" r="0.7"/>
<circle cx="178.3" cy="162.3" r="1.1"/>
<circle cx="177.2" cy="161.3" r="0.8"/>
<circle cx="173.0" cy="163.4" r="1.1"/>
<circle cx="180.0" cy="160.1" r="1.0"/>
<circle cx="167.0" cy="165.2" r="1.1"/>
<circle cx="167.9" cy="165.0" r="1.2"/>
<circle cx="177.5" cy="161.6" r="1.1"/>
<circle cx="178.2" cy="161.5" r="1.0"/>
<circle cx="168.4" cy="161.2" r="1.0"/>
<circle cx="176.5" cy="161.8" r="1.3"/>
<circle cx="175.2" cy="163.0" r="0.8"/>
<circle cx="174.3" cy="161.9" r="1.3"/>
<circle cx="171.4" cy="163.5" r="1.3"/>
<circle cx="169.4" cy="163.4" r="1.0"/>
<circle cx="174.2" cy="165.0" r="1.3"/>
<circle cx="177.4" cy="161.7" r="1.2"/>
<circle cx="171.1" cy="163.2" r="1.0"/>
<circle cx="178.1" cy="163.2" r="0.7"/>
<circle cx="168.2" cy="167.1" r="1.3"/>
<circle cx="175.2" cy="163.9" r="1.1"/>
<circle cx="171.1" cy="162.4" r="0.6"/>
<circle cx="169.3" cy="164.0" r="0.9"/>
<circle cx="174.7" cy="163.9" r="0.8"/>
<circle cx="174.0" cy="164.0" r="0.6"/>
<circle cx="176.7" cy="164.5" r="1.0"/>
<circle cx="172.4" cy="163.8" r="1.1"/>
<circle cx="176.9" cy="161.1" r="1.3"/>
<circle cx="178.3" cy="161.2" r="0.9"/>
<circle cx="175.0" cy="162.1" r="1.0"/>
<circle cx="173.1" cy="162.7" r="0.6"/>
<circle cx="149.3" cy="187.6" r="0.8"/>
<circle cx="148.0" cy="187.0" r="0.6"/>
<circle cx="147.9" cy="184.3" r="0.5"/>
<circle cx="146.5" cy="186.0" r="0.6"/>
<circle cx="142.5" cy="186.8" r="0.7"/>
<circle cx="144.4" cy="185.2" r="0.6"/>
<circle cx="144.4" cy="184.3" r="0.9"/>
<circle cx="151.7" cy="186.7" r="0.8"/>
<circle cx="146.2" cy="187.2" r="0.5"/>
<circle cx="149.5" cy="186.3" r="0.9"/>
<circle cx="143.0" cy="187.2" r="0.5"/>
<circle cx="147.4" cy="187.8" r="0.4"/>
<circle cx="144.4" cy="185.2" r="0.6"/>
<circle cx="142.6" cy="187.6" r="0.8"/>
<circle cx="142.4" cy="194.9" r="0.7"/>
<circle cx="138.5" cy="192.2" r="0.8"/>
<circle cx="141.4" cy="196.0" r="0.9"/>
<circle cx="148.8" cy="195.8" r="0.5"/>
<circle cx="141.2" cy="199.4" r="0.8"/>
<circle cx="140.2" cy="198.7" r="0.6"/>
<circle cx="143.2" cy="193.4" r="0.8"/>
<circle cx="148.9" cy="193.6" r="0.7"/>
<circle cx="140.1" cy="199.0" r="0.4"/>
<circle cx="139.2" cy="197.8" r="0.6"/>
<circle cx="147.9" cy="199.0" r="0.8"/>
<circle cx="139.5" cy="197.6" r="0.9"/>
<circle cx="142.9" cy="192.6" r="0.5"/>
<circle cx="141.4" cy="197.7" r="0.5"/>
<circle cx="140.0" cy="193.9" r="0.7"/>
<circle cx="146.7" cy="195.0" r="0.7"/>
<circle cx="147.7" cy="196.7" r="0.5"/>
<circle cx="141.3" cy="199.4" r="0.7"/>
<path d="M167.3 164 L170 162.6 L173 162.8 L176.5 162 L180 161.4" fill="none" stroke="#b4b4b4" stroke-width="2.4" stroke-linecap="round" stroke-linejoin="round"/>
</g>
<g clip-path="url(#mapclip)" fill="#000">
<ellipse cx="227.1" cy="99.4" rx="0.5" ry="1.0"/>
<ellipse cx="240.2" cy="96.7" rx="0.9" ry="0.4"/>
<ellipse cx="253.0" cy="90.8" rx="0.6" ry="0.9"/>
<ellipse cx="212.0" cy="90.8" rx="1.1" ry="0.5"/>
<ellipse cx="227.3" cy="97.2" rx="0.6" ry="0.9"/>
<ellipse cx="284.0" cy="84.8" rx="0.8" ry="0.9"/>
<ellipse cx="235.8" cy="106.3" rx="0.8" ry="0.5"/>
<ellipse cx="249.5" cy="99.5" rx="0.7" ry="0.8"/>
<ellipse cx="267.6" cy="96.4" rx="0.9" ry="0.9"/>
<ellipse cx="259.7" cy="96.5" rx="1.3" ry="0.5"/>
<ellipse cx="267.4" cy="88.0" rx="0.9" ry="0.5"/>
<ellipse cx="240.2" cy="102.6" rx="1.1" ry="0.9"/>
<ellipse cx="223.9" cy="95.7" rx="0.6" ry="0.7"/>
<ellipse cx="244.9" cy="84.8" rx="0.9" ry="0.8"/>
<ellipse cx="250.8" cy="104.9" rx="0.6" ry="0.5"/>
<ellipse cx="206.4" cy="95.9" rx="0.8" ry="0.7"/>
<ellipse cx="226.0" cy="103.2" rx="0.5" ry="0.9"/>
<ellipse cx="250.5" cy="97.0" rx="1.1" ry="0.5"/>
<ellipse cx="216.7" cy="91.5" rx="0.4" ry="0.6"/>
<ellipse cx="254.7" cy="96.6" rx="0.6" ry="0.8"/>
<ellipse cx="212.1" cy="103.7" rx="0.6" ry="0.6"/>
<ellipse cx="217.8" cy="100.6" rx="1.1" ry="0.9"/>
<ellipse cx="209.9" cy="93.9" rx="0.7" ry="0.5"/>
<ellipse cx="282.6" cy="85.0" rx="0.8" ry="0.9"/>
<ellipse cx="283.9" cy="87.5" rx="0.8" ry="0.8"/>
<ellipse cx="208.1" cy="89.8" rx="1.2" ry="0.5"/>
<ellipse cx="236.4" cy="91.2" rx="0.8" ry="0.4"/>
<ellipse cx="207.7" cy="107.9" rx="1.1" ry="0.8"/>
<ellipse cx="223.4" cy="90.1" rx="0.9" ry="0.5"/>
<ellipse cx="241.9" cy="106.4" rx="0.7" ry="0.6"/>
<ellipse cx="283.5" cy="98.7" rx="0.4" ry="0.6"/>
<ellipse cx="257.0" cy="85.4" rx="0.7" ry="0.8"/>
<ellipse cx="274.2" cy="98.2" rx="1.2" ry="0.7"/>
<ellipse cx="236.4" cy="104.2" rx="0.7" ry="0.9"/>
<ellipse cx="239.8" cy="215.8" rx="0.6" ry="0.7"/>
<ellipse cx="237.0" cy="207.2" rx="0.6" ry="0.7"/>
<ellipse cx="245.0" cy="221.8" rx="1.3" ry="0.8"/>
<ellipse cx="275.4" cy="207.3" rx="0.7" ry="0.4"/>
<ellipse cx="266.0" cy="216.8" rx="0.6" ry="0.4"/>
<ellipse cx="238.0" cy="210.7" rx="0.8" ry="1.0"/>
<ellipse cx="267.3" cy="211.1" rx="0.7" ry="0.5"/>
<ellipse cx="279.5" cy="216.6" rx="1.1" ry="0.8"/>
<ellipse cx="277.9" cy="196.2" rx="0.7" ry="0.6"/>
<ellipse cx="232.6" cy="247.9" rx="0.7" ry="0.9"/>
<ellipse cx="256.6" cy="198.3" rx="0.8" ry="0.5"/>
<ellipse cx="230.2" cy="204.1" rx="0.9" ry="0.4"/>
<ellipse cx="245.2" cy="220.4" rx="0.9" ry="0.5"/>
<ellipse cx="266.9" cy="210.6" rx="1.1" ry="0.8"/>
<ellipse cx="236.1" cy="207.3" rx="0.7" ry="0.8"/>
<ellipse cx="250.3" cy="218.2" rx="1.2" ry="0.5"/>
<ellipse cx="244.1" cy="215.7" rx="0.6" ry="0.4"/>
<ellipse cx="229.3" cy="232.8" rx="0.9" ry="0.9"/>
<ellipse cx="281.7" cy="212.9" rx="1.0" ry="1.0"/>
<ellipse cx="239.9" cy="236.4" rx="1.0" ry="1.0"/>
<ellipse cx="275.8" cy="209.1" rx="1.0" ry="0.5"/>
<ellipse cx="251.5" cy="218.5" rx="0.5" ry="0.6"/>
<ellipse cx="246.1" cy="224.8" rx="0.7" ry="0.5"/>
<ellipse cx="250.1" cy="223.5" rx="0.6" ry="0.8"/>
<ellipse cx="241.2" cy="200.6" rx="0.7" ry="0.7"/>
<ellipse cx="236.3" cy="230.0" rx="1.0" ry="0.7"/>
<ellipse cx="266.5" cy="196.4" rx="0.8" ry="0.6"/>
<ellipse cx="231.5" cy="219.3" rx="0.4" ry="0.7"/>
<ellipse cx="45.4" cy="243.3" rx="0.7" ry="0.6"/>
<ellipse cx="22.9" cy="240.3" rx="1.2" ry="0.7"/>
<ellipse cx="32.5" cy="248.0" rx="0.6" ry="0.7"/>
<ellipse cx="46.6" cy="254.9" rx="0.7" ry="0.7"/>
<ellipse cx="59.7" cy="250.5" rx="1.0" ry="0.8"/>
<ellipse cx="38.4" cy="242.0" rx="0.6" ry="0.9"/>
<ellipse cx="57.2" cy="241.2" rx="1.2" ry="0.4"/>
<ellipse cx="27.4" cy="244.2" rx="0.7" ry="0.6"/>
<ellipse cx="61.1" cy="235.6" rx="0.6" ry="0.5"/>
<ellipse cx="49.2" cy="237.6" rx="0.4" ry="0.7"/>
<ellipse cx="55.0" cy="264.4" rx="0.8" ry="0.8"/>
<ellipse cx="60.8" cy="287.5" rx="0.9" ry="0.9"/>
<ellipse cx="76.8" cy="270.0" rx="0.7" ry="0.9"/>
<ellipse cx="51.9" cy="293.0" rx="1.0" ry="0.8"/>
<ellipse cx="76.6" cy="299.5" rx="0.5" ry="0.8"/>
<ellipse cx="58.6" cy="283.8" rx="0.7" ry="0.6"/>
<ellipse cx="68.5" cy="282.0" rx="0.6" ry="0.5"/>
<ellipse cx="52.3" cy="260.7" rx="0.9" ry="0.5"/>
<ellipse cx="42.4" cy="254.1" rx="0.5" ry="0.8"/>
<ellipse cx="44.3" cy="277.1" rx="1.1" ry="0.7"/>
<ellipse cx="46.2" cy="302.0" rx="1.2" ry="0.4"/>
<ellipse cx="49.6" cy="280.4" rx="1.1" ry="0.6"/>
<ellipse cx="67.2" cy="265.1" rx="1.0" ry="0.6"/>
<ellipse cx="52.7" cy="295.6" rx="1.2" ry="0.9"/>
<ellipse cx="61.6" cy="275.2" rx="1.0" ry="0.8"/>
<ellipse cx="71.6" cy="298.1" rx="0.5" ry="0.6"/>
<ellipse cx="65.4" cy="263.9" rx="0.6" ry="0.4"/>
<ellipse cx="62.3" cy="306.5" rx="1.3" ry="0.5"/>
<ellipse cx="66.1" cy="275.2" rx="1.0" ry="0.6"/>
<ellipse cx="75.5" cy="309.3" rx="0.4" ry="0.8"/>
<ellipse cx="44.5" cy="252.5" rx="0.7" ry="0.8"/>
<ellipse cx="77.8" cy="257.2" rx="0.7" ry="0.4"/>
<ellipse cx="60.6" cy="279.0" rx="0.7" ry="0.6"/>
<ellipse cx="70.4" cy="300.3" rx="0.7" ry="0.6"/>
<ellipse cx="63.5" cy="295.9" rx="1.3" ry="0.6"/>
<ellipse cx="66.4" cy="282.8" rx="1.1" ry="0.5"/>
<ellipse cx="46.7" cy="256.4" rx="1.2" ry="0.6"/>
<ellipse cx="58.6" cy="257.2" rx="0.7" ry="0.4"/>
<ellipse cx="61.5" cy="258.6" rx="1.0" ry="0.6"/>
<ellipse cx="48.6" cy="278.9" rx="0.7" ry="0.6"/>
<ellipse cx="24.8" cy="301.5" rx="1.2" ry="0.6"/>
<ellipse cx="25.3" cy="304.4" rx="0.8" ry="1.0"/>
<ellipse cx="27.2" cy="320.8" rx="0.8" ry="0.6"/>
<ellipse cx="36.9" cy="309.5" rx="0.5" ry="0.7"/>
<ellipse cx="34.5" cy="315.0" rx="0.6" ry="1.0"/>
<ellipse cx="37.8" cy="323.9" rx="0.8" ry="0.9"/>
<ellipse cx="35.6" cy="304.2" rx="0.4" ry="0.5"/>
<ellipse cx="25.9" cy="301.8" rx="0.7" ry="0.9"/>
<ellipse cx="37.5" cy="107.4" rx="0.4" ry="0.5"/>
<ellipse cx="70.0" cy="92.3" rx="0.9" ry="0.9"/>
<ellipse cx="61.6" cy="114.1" rx="0.8" ry="0.9"/>
<ellipse cx="63.4" cy="115.0" rx="1.3" ry="0.5"/>
<ellipse cx="69.5" cy="104.1" rx="1.0" ry="0.6"/>
<ellipse cx="67.5" cy="92.7" rx="0.9" ry="0.5"/>
<ellipse cx="41.4" cy="103.1" rx="1.0" ry="0.9"/>
<ellipse cx="40.2" cy="111.1" rx="0.7" ry="0.6"/>
<ellipse cx="115.9" cy="31.3" rx="0.5" ry="0.6"/>
<ellipse cx="112.3" cy="24.7" rx="1.1" ry="0.7"/>
<ellipse cx="111.0" cy="22.6" rx="0.5" ry="0.5"/>
<ellipse cx="103.7" cy="37.8" rx="0.4" ry="0.7"/>
<ellipse cx="104.9" cy="31.3" rx="0.9" ry="1.0"/>
<ellipse cx="100.5" cy="64.8" rx="0.7" ry="0.9"/>
<ellipse cx="98.4" cy="71.3" rx="0.8" ry="1.0"/>
<ellipse cx="100.8" cy="36.5" rx="1.0" ry="0.5"/>
<ellipse cx="265.7" cy="70.6" rx="1.3" ry="0.6"/>
<ellipse cx="263.1" cy="51.4" rx="1.3" ry="0.5"/>
<ellipse cx="275.8" cy="52.7" rx="1.0" ry="0.5"/>
<ellipse cx="275.3" cy="83.3" rx="1.2" ry="0.8"/>
<ellipse cx="272.1" cy="64.1" rx="0.5" ry="0.9"/>
<ellipse cx="277.3" cy="57.2" rx="1.0" ry="0.7"/>
<ellipse cx="268.8" cy="43.8" rx="0.9" ry="0.7"/>
<ellipse cx="272.4" cy="31.9" rx="1.0" ry="0.7"/>
<ellipse cx="274.6" cy="65.7" rx="1.2" ry="0.5"/>
<ellipse cx="271.1" cy="89.6" rx="1.1" ry="0.6"/>
<ellipse cx="278.6" cy="89.4" rx="0.8" ry="0.9"/>
<ellipse cx="261.5" cy="89.4" rx="0.8" ry="0.5"/>
<ellipse cx="281.5" cy="69.0" rx="1.2" ry="0.9"/>
<ellipse cx="280.3" cy="60.7" rx="1.3" ry="0.4"/>
<ellipse cx="282.4" cy="72.7" rx="0.6" ry="0.9"/>
<ellipse cx="270.7" cy="62.2" rx="1.2" ry="0.5"/>
<ellipse cx="265.8" cy="68.6" rx="0.5" ry="0.7"/>
<ellipse cx="280.0" cy="59.4" rx="0.6" ry="0.9"/>
<ellipse cx="281.9" cy="76.2" rx="0.9" ry="0.9"/>
<ellipse cx="280.3" cy="39.1" rx="0.7" ry="0.5"/>
<ellipse cx="259.0" cy="50.7" rx="1.2" ry="0.9"/>
<ellipse cx="261.3" cy="40.9" rx="0.7" ry="0.9"/>
<ellipse cx="275.3" cy="84.1" rx="0.5" ry="1.0"/>
<ellipse cx="263.8" cy="67.8" rx="1.2" ry="0.8"/>
<ellipse cx="263.5" cy="70.1" rx="0.8" ry="0.4"/>
<ellipse cx="267.5" cy="48.9" rx="1.0" ry="0.6"/>
<ellipse cx="251.2" cy="108.3" rx="0.6" ry="0.5"/>
<ellipse cx="256.6" cy="105.6" rx="0.5" ry="0.5"/>
<ellipse cx="271.5" cy="107.3" rx="0.7" ry="0.5"/>
<ellipse cx="274.7" cy="108.3" rx="1.1" ry="0.6"/>
<ellipse cx="233.6" cy="104.9" rx="0.5" ry="0.8"/>
<ellipse cx="240.5" cy="109.8" rx="0.8" ry="0.7"/>
<ellipse cx="245.4" cy="111.3" rx="0.7" ry="0.8"/>
<ellipse cx="229.1" cy="107.0" rx="0.7" ry="0.9"/>
</g>
<g fill="#fff">
<circle cx="73.5" cy="92.8" r="1.7"/>
<circle cx="77.2" cy="92.8" r="1.7"/>
<circle cx="93.7" cy="95.0" r="1.7"/>
<circle cx="193.7" cy="11.5" r="1.7"/>
<circle cx="166.3" cy="21.6" r="1.7"/>
<circle cx="190.2" cy="24.5" r="1.7"/>
<circle cx="144.7" cy="28.8" r="1.7"/>
<circle cx="164.8" cy="44.7" r="1.7"/>
<circle cx="199.4" cy="46.0" r="1.7"/>
<circle cx="147.6" cy="51.9" r="1.7"/>
<circle cx="131.7" cy="57.6" r="1.7"/>
<circle cx="141.8" cy="59.0" r="1.7"/>
<circle cx="128.2" cy="64.8" r="1.7"/>
<circle cx="186.5" cy="67.7" r="1.7"/>
<circle cx="149.0" cy="74.0" r="1.7"/>
<circle cx="157.6" cy="75.0" r="1.7"/>
<circle cx="122.5" cy="83.6" r="1.7"/>
<circle cx="115.9" cy="93.7" r="1.7"/>
<circle cx="208.6" cy="13.0" r="1.7"/>
<circle cx="262.0" cy="10.0" r="1.7"/>
<circle cx="221.6" cy="23.0" r="1.7"/>
<circle cx="226.0" cy="28.0" r="1.7"/>
<circle cx="249.9" cy="22.5" r="1.7"/>
<circle cx="274.4" cy="20.7" r="1.7"/>
<circle cx="281.3" cy="25.4" r="1.7"/>
<circle cx="213.0" cy="43.2" r="1.7"/>
<circle cx="230.8" cy="43.8" r="1.7"/>
<circle cx="232.3" cy="48.1" r="1.7"/>
<circle cx="246.0" cy="49.0" r="1.7"/>
<circle cx="251.3" cy="51.9" r="1.7"/>
<circle cx="262.0" cy="36.6" r="1.7"/>
<circle cx="240.3" cy="61.0" r="1.7"/>
<circle cx="239.5" cy="69.7" r="1.7"/>
<circle cx="243.2" cy="77.2" r="1.7"/>
<circle cx="211.5" cy="66.9" r="1.7"/>
<circle cx="272.6" cy="45.5" r="1.7"/>
<circle cx="83.6" cy="112.0" r="1.7"/>
<circle cx="93.7" cy="117.9" r="1.7"/>
<circle cx="62.0" cy="124.5" r="1.7"/>
<circle cx="41.2" cy="128.8" r="1.7"/>
<circle cx="77.8" cy="128.8" r="1.7"/>
<circle cx="75.0" cy="137.5" r="1.7"/>
<circle cx="99.4" cy="130.0" r="1.7"/>
<circle cx="90.8" cy="146.0" r="1.7"/>
<circle cx="44.7" cy="148.4" r="1.7"/>
<circle cx="41.8" cy="152.7" r="1.7"/>
<circle cx="62.8" cy="153.9" r="1.7"/>
<circle cx="87.9" cy="153.9" r="1.7"/>
<circle cx="26.8" cy="159.7" r="1.7"/>
<circle cx="74.0" cy="159.0" r="1.7"/>
<circle cx="51.9" cy="166.9" r="1.7"/>
<circle cx="79.3" cy="172.0" r="1.7"/>
<circle cx="23.0" cy="176.4" r="1.7"/>
<circle cx="30.3" cy="177.2" r="1.7"/>
<circle cx="62.8" cy="179.3" r="1.7"/>
<circle cx="93.7" cy="186.5" r="1.7"/>
<circle cx="30.8" cy="186.5" r="1.7"/>
<circle cx="99.4" cy="196.5" r="1.7"/>
<circle cx="128.0" cy="106.3" r="1.7"/>
<circle cx="189.3" cy="113.8" r="1.7"/>
<circle cx="199.4" cy="108.6" r="1.7"/>
<circle cx="140.3" cy="125.4" r="1.7"/>
<circle cx="154.8" cy="128.2" r="1.7"/>
<circle cx="174.4" cy="129.7" r="1.7"/>
<circle cx="110.7" cy="128.0" r="1.7"/>
<circle cx="120.7" cy="133.0" r="1.7"/>
<circle cx="107.8" cy="141.0" r="1.7"/>
<circle cx="138.3" cy="142.7" r="1.7"/>
<circle cx="129.7" cy="147.6" r="1.7"/>
<circle cx="159.7" cy="146.7" r="1.7"/>
<circle cx="173.5" cy="142.4" r="1.7"/>
<circle cx="104.3" cy="158.5" r="1.7"/>
<circle cx="107.2" cy="164.0" r="1.7"/>
<circle cx="128.2" cy="168.3" r="1.7"/>
<circle cx="133.0" cy="185.0" r="1.7"/>
<circle cx="107.2" cy="182.0" r="1.7"/>
<circle cx="163.4" cy="184.4" r="1.7"/>
<circle cx="183.6" cy="181.6" r="1.7"/>
<circle cx="192.2" cy="169.0" r="1.7"/>
<circle cx="165.7" cy="192.2" r="1.7"/>
<circle cx="189.3" cy="191.6" r="1.7"/>
<circle cx="199.4" cy="139.5" r="1.7"/>
<circle cx="204.3" cy="128.8" r="1.7"/>
<circle cx="279.3" cy="143.2" r="1.7"/>
<circle cx="243.2" cy="152.7" r="1.7"/>
<circle cx="221.6" cy="167.7" r="1.7"/>
<circle cx="217.3" cy="192.8" r="1.7"/>
<circle cx="283.6" cy="123.0" r="1.7"/>
<circle cx="67.0" cy="198.7" r="1.7"/>
<circle cx="79.2" cy="202.1" r="1.7"/>
<circle cx="77.9" cy="208.8" r="1.7"/>
<circle cx="34.6" cy="211.2" r="1.7"/>
<circle cx="39.2" cy="210.2" r="1.7"/>
<circle cx="21.7" cy="219.7" r="1.7"/>
<circle cx="41.2" cy="227.4" r="1.7"/>
<circle cx="56.4" cy="227.0" r="1.7"/>
<circle cx="39.2" cy="249.6" r="1.7"/>
<circle cx="71.5" cy="249.2" r="1.7"/>
<circle cx="79.6" cy="247.9" r="1.7"/>
<circle cx="90.2" cy="240.2" r="1.7"/>
<circle cx="39.6" cy="268.2" r="1.7"/>
<circle cx="42.2" cy="276.0" r="1.7"/>
<circle cx="38.3" cy="280.4" r="1.7"/>
<circle cx="74.6" cy="280.4" r="1.7"/>
<circle cx="81.1" cy="289.5" r="1.7"/>
<circle cx="85.0" cy="262.2" r="1.7"/>
<circle cx="98.0" cy="300.4" r="1.7"/>
<circle cx="102.7" cy="301.6" r="1.7"/>
<circle cx="29.3" cy="305.0" r="1.7"/>
<circle cx="57.8" cy="304.5" r="1.7"/>
<circle cx="56.5" cy="314.0" r="1.7"/>
<circle cx="81.1" cy="319.3" r="1.7"/>
<circle cx="93.1" cy="198.7" r="1.7"/>
<circle cx="128.3" cy="207.4" r="1.7"/>
<circle cx="137.8" cy="208.2" r="1.7"/>
<circle cx="149.3" cy="206.0" r="1.7"/>
<circle cx="139.3" cy="222.7" r="1.7"/>
<circle cx="136.4" cy="224.7" r="1.7"/>
<circle cx="124.8" cy="239.7" r="1.7"/>
<circle cx="158.0" cy="236.8" r="1.7"/>
<circle cx="150.8" cy="244.0" r="1.7"/>
<circle cx="128.3" cy="250.6" r="1.7"/>
<circle cx="116.2" cy="264.2" r="1.7"/>
<circle cx="137.8" cy="266.5" r="1.7"/>
<circle cx="152.8" cy="270.0" r="1.7"/>
<circle cx="107.6" cy="271.6" r="1.7"/>
<circle cx="111.5" cy="248.4" r="1.7"/>
<circle cx="161.4" cy="260.5" r="1.7"/>
<circle cx="173.5" cy="262.9" r="1.7"/>
<circle cx="196.5" cy="255.0" r="1.7"/>
<circle cx="142.4" cy="268.6" r="1.7"/>
<circle cx="107.8" cy="275.8" r="1.7"/>
<circle cx="162.0" cy="277.3" r="1.7"/>
<circle cx="154.8" cy="282.4" r="1.7"/>
<circle cx="175.5" cy="281.0" r="1.7"/>
<circle cx="190.2" cy="272.4" r="1.7"/>
<circle cx="196.5" cy="269.5" r="1.7"/>
<circle cx="193.7" cy="283.9" r="1.7"/>
<circle cx="118.7" cy="293.7" r="1.7"/>
<circle cx="116.7" cy="298.3" r="1.7"/>
<circle cx="138.3" cy="296.6" r="1.7"/>
<circle cx="147.0" cy="301.2" r="1.7"/>
<circle cx="185.6" cy="293.7" r="1.7"/>
<circle cx="182.7" cy="299.4" r="1.7"/>
<circle cx="168.3" cy="312.4" r="1.7"/>
<circle cx="132.6" cy="317.0" r="1.7"/>
<circle cx="105.8" cy="320.5" r="1.7"/>
<circle cx="157.0" cy="323.4" r="1.7"/>
<circle cx="162.8" cy="324.2" r="1.7"/>
<circle cx="176.4" cy="323.4" r="1.7"/>
<circle cx="222.3" cy="203.0" r="1.7"/>
<circle cx="218.8" cy="208.9" r="1.7"/>
<circle cx="196.3" cy="217.6" r="1.7"/>
<circle cx="224.6" cy="225.3" r="1.7"/>
<circle cx="198.6" cy="238.6" r="1.7"/>
<circle cx="201.0" cy="262.2" r="1.7"/>
<circle cx="191.5" cy="147.8" r="1.7"/>
<circle cx="148.9" cy="164.2" r="1.7"/>
</g>
<polygon points="164.1,161.2 165.2,164.3 168.5,164.4 165.9,166.4 166.8,169.5 164.1,167.7 161.4,169.5 162.3,166.4 159.7,164.4 163.0,164.3" fill="#e0185a" stroke="#c01050" stroke-width="0.3"/>
<polygon points="101.3,226.2 102.5,229.4 105.9,229.5 103.2,231.6 104.1,234.9 101.3,233.0 98.5,234.9 99.4,231.6 96.7,229.5 100.1,229.4" fill="#ffff8c" stroke="#9a9a9a" stroke-width="0.6"/>
<text x="105.5" y="178.9" font-family="'Liberation Serif',serif" font-weight="bold" font-style="italic" font-size="11.5" fill="#f5a25c" stroke="#f5a25c" stroke-width="0.25" textLength="109.5" lengthAdjust="spacing">Triggered earthquake</text>
<text x="80" y="222.3" font-family="'Liberation Serif',serif" font-weight="bold" font-style="italic" font-size="9.1" fill="#3c5a64" stroke="#3c5a64" stroke-width="0.2" textLength="41.5" lengthAdjust="spacing">Mainshock</text>
<rect x="36.9" y="33.7" width="107.8" height="4.8" fill="url(#cbar)" stroke="#222" stroke-width="0.5"/>
<g stroke="#222" stroke-width="0.5"><path d="M37.4 38.5V41M83 38.5V41M129.1 38.5V41"/></g>
<g font-family="'Liberation Sans',sans-serif" fill="#141414">
<text x="36.9" y="26.6" font-size="8.8" textLength="80" lengthAdjust="spacingAndGlyphs">Acceleration (cm/s/s)</text>
<text x="37.4" y="51.5" font-size="7.6" text-anchor="middle">0</text>
<text x="83" y="51.5" font-size="7.6" text-anchor="middle">500</text>
<text x="130.3" y="51.5" font-size="7.6" text-anchor="middle" fill="#5a0a28">1000</text>
</g>
<g>
<rect x="16.2" y="5.2" width="273.8" height="323.9" fill="none" stroke="#000" stroke-width="0.5"/>
<rect x="19.5" y="8.6" width="267" height="316.8" fill="none" stroke="#000" stroke-width="0.5"/>
<rect x="19.5" y="5.2" width="53.3" height="3.4" fill="#000"/>
<rect x="19.5" y="325.4" width="53.3" height="3.7" fill="#000"/>
<rect x="126.1" y="5.2" width="53.3" height="3.4" fill="#000"/>
<rect x="126.1" y="325.4" width="53.3" height="3.7" fill="#000"/>
<rect x="232.7" y="5.2" width="53.8" height="3.4" fill="#000"/>
<rect x="232.7" y="325.4" width="53.8" height="3.7" fill="#000"/>
<rect x="16.2" y="8.6" width="3.3" height="64.4" fill="#000"/>
<rect x="286.5" y="8.6" width="3.5" height="64.4" fill="#000"/>
<rect x="16.2" y="136.3" width="3.3" height="63.2" fill="#000"/>
<rect x="286.5" y="136.3" width="3.5" height="63.2" fill="#000"/>
<rect x="16.2" y="262.6" width="3.3" height="62.8" fill="#000"/>
<rect x="286.5" y="262.6" width="3.5" height="62.8" fill="#000"/>
</g>
<g font-family="'Liberation Sans',sans-serif" fill="#141414" font-size="8.5">
<text x="12.6" y="76.3" text-anchor="end">34˚</text>
<text x="12.6" y="203" text-anchor="end">33˚</text>
<text x="12.6" y="329.4" text-anchor="end">32˚</text>
<text x="19.9" y="339.3" text-anchor="middle">130˚</text>
<text x="126.7" y="339.3" text-anchor="middle">131˚</text>
<text x="233" y="339.3" text-anchor="middle">132˚</text>
</g>
<path d="M204 297.5V294.5H261.4V297.5" fill="none" stroke="#444" stroke-width="0.6"/>
<text x="232.7" y="307.1" font-family="'Liberation Sans',sans-serif" font-size="8" fill="#141414" text-anchor="middle">50 km</text>
<polyline fill="none" stroke="#ffa838" stroke-width="1.7" stroke-linejoin="round" points="340.3,41.7 340.6,41.2 340.8,41.2 341.1,42.4 341.4,40.8 341.7,41.1 341.9,41.4 342.2,41.2 342.5,41.6 342.7,41.4 343.0,40.4 343.3,40.2 343.5,40.2 343.8,41.4 344.1,40.3 344.4,38.3 344.6,39.9 344.9,38.8 345.2,39.5 345.4,37.6 345.7,37.2 346.0,37.7 346.2,37.4 346.5,36.7 346.8,36.9 347.1,34.8 347.3,32.6 347.6,33.3 347.9,31.5 348.1,29.1 348.4,27.1 348.7,37.4 348.9,30.0 349.2,30.7 349.5,33.3 349.8,31.2 350.0,17.4 350.3,26.4 350.6,23.8 350.8,32.3 351.1,19.4 351.4,35.3 351.6,29.4 351.9,21.9 352.2,27.9 352.5,23.9 352.7,26.5 353.0,29.1 353.3,22.1 353.5,28.2 353.8,20.6 354.1,26.1 354.4,23.0 354.6,24.4 354.9,34.1 355.2,30.5 355.4,19.2 355.7,16.7 356.0,18.0 356.2,26.6 356.5,28.4 356.8,22.0 357.1,14.9 357.3,12.6 357.6,13.1 357.9,12.9 358.1,14.9 358.4,16.4 358.7,20.8 358.9,25.7 359.2,17.0 359.5,17.4 359.8,19.8 360.0,20.3 360.3,21.5 360.6,24.0 360.8,22.4 361.1,18.8 361.4,24.4 361.6,24.7 361.9,23.5 362.2,21.5 362.5,22.8 362.7,23.6 363.0,22.8 363.3,20.8 363.5,22.7 363.8,20.5 364.1,24.9 364.3,19.5 364.6,24.9 364.9,21.2 365.2,31.0 365.4,22.5 365.7,24.7 366.0,19.2 366.2,21.1 366.5,27.7 366.8,20.4 367.0,18.6 367.3,29.1 367.6,23.9 367.9,27.0 368.1,25.8 368.4,30.3 368.7,25.1 368.9,22.5 369.2,21.5 369.5,25.3 369.8,25.4 370.0,22.0 370.3,33.6 370.6,32.5 370.8,29.1 371.1,21.1 371.4,28.6 371.6,25.6 371.9,32.5 372.2,25.5 372.5,21.0 372.7,29.3 373.0,30.3 373.3,25.0 373.5,32.1 373.8,22.3 374.1,26.5 374.3,30.6 374.6,28.5 374.9,21.1 375.2,31.6 375.4,26.6 375.7,31.1 376.0,27.7 376.2,28.4 376.5,27.7 376.8,32.8 377.0,28.4 377.3,29.9 377.6,25.8 377.9,33.1 378.1,37.4 378.4,34.1 378.7,32.1 378.9,31.2 379.2,36.0 379.5,34.2 379.7,33.9 380.0,33.1 380.3,34.8 380.6,33.6 380.8,35.8 381.1,30.5 381.4,34.3 381.6,32.9 381.9,34.0 382.2,33.9 382.5,32.5 382.7,35.8 383.0,35.9 383.3,35.0 383.5,34.6 383.8,36.2 384.1,35.3 384.3,37.5 384.6,36.8 384.9,37.4 385.2,37.1 385.4,38.3 385.7,36.8 386.0,37.8 386.2,37.4 386.5,37.0 386.8,39.9 387.0,39.4 387.3,37.8 387.6,39.7 387.9,38.8 388.1,39.3 388.4,40.5 388.7,40.4 388.9,40.1 389.2,41.0 389.5,39.6 389.7,40.9 390.0,40.8 390.3,40.5 390.6,40.7 390.8,40.6 391.1,40.8 391.4,40.5 391.6,41.3 391.9,41.5 392.2,41.4 392.4,42.3 392.7,42.3 393.0,42.6 393.3,42.0 393.5,42.0 393.8,42.8 394.1,42.8 394.3,42.3 394.6,42.2 394.9,42.4 395.2,43.3 395.4,42.5 395.7,43.6 396.0,42.6 396.2,43.5 396.5,43.2 396.8,43.4 397.0,43.5 397.3,44.0 397.6,43.3 397.9,43.7 398.1,43.7 398.4,43.5 398.7,43.5 398.9,43.7 399.2,44.0 399.5,43.1 399.7,43.5 400.0,42.2 400.3,42.4 400.6,42.1 400.8,41.6 401.1,40.8 401.4,40.4 401.6,39.7 401.9,39.1 402.2,37.9 402.4,35.5 402.7,33.5 403.0,33.1 403.3,31.3 403.5,30.6 403.8,29.4 404.1,30.4 404.3,30.1 404.6,30.8 404.9,28.4 405.1,31.4 405.4,32.4 405.7,31.7 406.0,33.9 406.2,31.6 406.5,34.0 406.8,34.9 407.0,33.7 407.3,36.2 407.6,33.8 407.9,35.9 408.1,37.7 408.4,36.4 408.7,37.6 408.9,38.2 409.2,38.4 409.5,38.2 409.7,38.9 410.0,38.0 410.3,38.9 410.6,39.1 410.8,39.6 411.1,39.5 411.4,39.6 411.6,40.4 411.9,40.3 412.2,40.5 412.4,40.6 412.7,40.6 413.0,41.5 413.3,41.9 413.5,42.0 413.8,41.5 414.1,42.4 414.3,42.8 414.6,43.0 414.9,42.6 415.1,43.5 415.4,43.3 415.7,43.3 416.0,43.6 416.2,43.5 416.5,43.3 416.8,43.2 417.0,43.5 417.3,43.2 417.6,43.4 417.8,43.8 418.1,43.8 418.4,44.1 418.7,44.3 418.9,44.2 419.2,44.6 419.5,44.4 419.7,44.7 420.0,44.7 420.3,44.5 420.5,44.9 420.8,45.0 421.1,45.2 421.4,45.0 421.6,45.3 421.9,45.4 422.2,45.3 422.4,45.3 422.7,45.5 423.0,45.4 423.3,45.5 423.5,45.4 423.8,45.4 424.1,45.8 424.3,45.7 424.6,45.6 424.9,45.7 425.1,45.7 425.4,45.9 425.7,46.0 426.0,46.0 426.2,46.1 426.5,46.2 426.8,46.0 427.0,46.1 427.3,46.3 427.6,46.2 427.8,46.3 428.1,46.2 428.4,46.5 428.7,46.4 428.9,46.3 429.2,46.4 429.5,46.6 429.7,46.5 430.0,46.6 430.3,46.7 430.5,46.6 430.8,46.6 431.1,46.5 431.4,46.6 431.6,46.7 431.9,46.7 432.2,46.8 432.4,46.9 432.7,46.9 433.0,47.0 433.2,46.9 433.5,47.1 433.8,47.1 434.1,47.2 434.3,47.1 434.6,47.0 434.9,47.1 435.1,47.2 435.4,47.2 435.7,47.3 436.0,47.3 436.2,47.4 436.5,47.4 436.8,47.3 437.0,47.4 437.3,47.5 437.6,47.4 437.8,47.5 438.1,47.5 438.4,47.5 438.7,47.5 438.9,47.5 439.2,47.6 439.5,47.5 439.7,47.5 440.0,47.6 440.3,47.6 440.5,47.6 440.8,47.6 441.1,47.7 441.4,47.7 441.6,47.7 441.9,47.7 442.2,47.7 442.4,47.7 442.7,47.7 443.0,47.7 443.2,47.7 443.5,47.7 443.8,47.8 444.1,47.8 444.3,47.9 444.6,47.9 444.9,47.8 445.1,47.8 445.4,47.8 445.7,47.9 445.9,47.9 446.2,47.9 446.5,48.0 446.8,48.0 447.0,48.0 447.3,48.0 447.6,48.0 447.8,48.0 448.1,48.0 448.4,48.0 448.7,48.0 448.9,48.1 449.2,48.0 449.5,48.1 449.7,48.1 450.0,48.0 450.3,48.1 450.5,48.1 450.8,48.1 451.1,48.1 451.4,48.1 451.6,48.1 451.9,48.1 452.2,48.2 452.4,48.2 452.7,48.2 453.0,48.2 453.2,48.2 453.5,48.3 453.8,48.2 454.1,48.2 454.3,48.2 454.6,48.3 454.9,48.2 455.1,48.3 455.4,48.3 455.7,48.3 455.9,48.3 456.2,48.3 456.5,48.3 456.8,48.3 457.0,48.3 457.3,48.3 457.6,48.3 457.8,48.3 458.1,48.3 458.4,48.3 458.6,48.3 458.9,48.3 459.2,48.4 459.5,48.4 459.7,48.4 460.0,48.4 460.3,48.4 460.5,48.4 460.8,48.4 461.1,48.4 461.3,48.4 461.6,48.4 461.9,48.4 462.2,48.4 462.4,48.4 462.7,48.4 463.0,48.4 463.2,48.4 463.5,48.4 463.8,48.5 464.1,48.4 464.3,48.4 464.6,48.4 464.9,48.5 465.1,48.5 465.4,48.5 465.7,48.5 465.9,48.5 466.2,48.5 466.5,48.5 466.8,48.5 467.0,48.5 467.3,48.5 467.6,48.5 467.8,48.5 468.1,48.5 468.4,48.5 468.6,48.5 468.9,48.6 469.2,48.6 469.5,48.5 469.7,48.6 470.0,48.6 470.3,48.5 470.5,48.6 470.8,48.6 471.1,48.6 471.3,48.6 471.6,48.6 471.9,48.6 472.2,48.6 472.4,48.6 472.7,48.6 473.0,48.6 473.2,48.6 473.5,48.6 473.8,48.6 474.0,48.6 474.3,48.6 474.6,48.7 474.9,48.6 475.1,48.7 475.4,48.7 475.7,48.6 475.9,48.7 476.2,48.7 476.5,48.7 476.8,48.7 477.0,48.7 477.3,48.7 477.6,48.7 477.8,48.7 478.1,48.7 478.4,48.7 478.6,48.7 478.9,48.7 479.2,48.7 479.5,48.7 479.7,48.7 480.0,48.7 480.3,48.7 480.5,48.7 480.8,48.7 481.1,48.7 481.3,48.7 481.6,48.7 481.9,48.7 482.2,48.7 482.4,48.7 482.7,48.7 483.0,48.7 483.2,48.7 483.5,48.7 483.8,48.7 484.0,48.7 484.3,48.7 484.6,48.7 484.9,48.7 485.1,48.7 485.4,48.7 485.7,48.7 485.9,48.7 486.2,48.7 486.5,48.7 486.7,48.7 487.0,48.7 487.3,48.7 487.6,48.7 487.8,48.7 488.1,48.8 488.4,48.7 488.6,48.7 488.9,48.7 489.2,48.8 489.5,48.8 489.7,48.8 490.0,48.8 490.3,48.8 490.5,48.7 490.8,48.8 491.1,48.8 491.3,48.8 491.6,48.8 491.9,48.8 492.2,48.8 492.4,48.8 492.7,48.8 493.0,48.8 493.2,48.8 493.5,48.8 493.8,48.8 494.0,48.8 494.3,48.8 494.6,48.8"/>
<polyline fill="none" stroke="#e0104a" stroke-width="0.95" stroke-linejoin="round" points="340.3,41.7 340.6,41.2 340.8,41.2 341.1,42.4 341.4,40.8 341.7,41.1 341.9,41.4 342.2,41.2 342.5,41.6 342.7,41.4 343.0,40.4 343.3,40.2 343.5,40.2 343.8,41.4 344.1,40.3 344.4,38.3 344.6,39.9 344.9,38.8 345.2,39.5 345.4,37.6 345.7,37.2 346.0,37.7 346.2,37.4 346.5,36.7 346.8,36.9 347.1,34.8 347.3,32.6 347.6,33.3 347.9,31.5 348.1,29.1 348.4,27.1 348.7,37.4 348.9,30.0 349.2,30.7 349.5,33.3 349.8,31.2 350.0,17.4 350.3,26.4 350.6,23.8 350.8,32.3 351.1,19.4 351.4,35.3 351.6,29.4 351.9,21.9 352.2,27.9 352.5,23.9 352.7,26.5 353.0,29.1 353.3,22.1 353.5,28.2 353.8,20.6 354.1,26.1 354.4,23.0 354.6,24.4 354.9,34.1 355.2,30.5 355.4,19.2 355.7,16.7 356.0,18.0 356.2,26.6 356.5,28.4 356.8,22.0 357.1,14.9 357.3,12.6 357.6,13.1 357.9,12.9 358.1,14.9 358.4,16.4 358.7,20.8 358.9,25.7 359.2,17.0 359.5,17.4 359.8,19.8 360.0,20.3 360.3,21.5 360.6,24.0 360.8,22.4 361.1,18.8 361.4,24.4 361.6,24.7 361.9,23.5 362.2,21.5 362.5,22.8 362.7,23.6 363.0,22.8 363.3,20.8 363.5,22.7 363.8,20.5 364.1,24.9 364.3,19.5 364.6,24.9 364.9,21.2 365.2,31.0 365.4,22.5 365.7,24.7 366.0,19.2 366.2,21.1 366.5,27.7 366.8,20.4 367.0,18.6 367.3,29.1 367.6,23.9 367.9,27.0 368.1,25.8 368.4,30.3 368.7,25.1 368.9,22.5 369.2,21.5 369.5,25.3 369.8,25.4 370.0,22.0 370.3,33.6 370.6,32.5 370.8,29.1 371.1,21.1 371.4,28.6 371.6,25.6 371.9,32.5 372.2,25.5 372.5,21.0 372.7,29.3 373.0,30.3 373.3,25.0 373.5,32.1 373.8,22.3 374.1,26.5 374.3,30.6 374.6,28.5 374.9,21.1 375.2,31.6 375.4,26.6 375.7,31.1 376.0,27.7 376.2,28.4 376.5,27.7 376.8,32.8 377.0,28.4 377.3,29.9 377.6,25.8 377.9,33.1 378.1,37.4 378.4,34.1 378.7,32.1 378.9,31.2 379.2,36.0 379.5,34.2 379.7,33.9 380.0,33.1 380.3,34.8 380.6,33.6 380.8,35.8 381.1,30.5 381.4,34.3 381.6,32.9 381.9,34.0 382.2,33.9 382.5,32.5 382.7,35.8 383.0,35.9 383.3,35.0 383.5,34.6 383.8,36.2 384.1,35.3 384.3,37.5 384.6,36.8 384.9,37.4 385.2,37.1 385.4,38.3 385.7,36.8 386.0,37.8 386.2,37.4 386.5,37.0 386.8,39.9 387.0,39.4 387.3,37.8 387.6,39.7 387.9,38.8 388.1,39.3 388.4,40.5 388.7,40.4 388.9,40.1 389.2,41.0 389.5,39.6 389.7,40.9 390.0,40.8 390.3,40.5 390.6,40.7 390.8,40.6 391.1,40.8 391.4,40.5 391.6,41.3 391.9,41.5 392.2,41.4 392.4,42.3 392.7,42.3 393.0,42.6 393.3,42.0 393.5,42.0 393.8,42.8 394.1,42.8 394.3,42.3 394.6,42.2 394.9,42.4 395.2,43.3 395.4,42.5 395.7,43.6 396.0,42.6 396.2,43.5 396.5,43.2 396.8,43.4 397.0,43.5 397.3,44.0 397.6,43.3 397.9,43.7 398.1,43.7 398.4,43.5 398.7,43.5 398.9,43.7 399.2,44.0 399.5,43.1 399.7,43.5 400.0,42.2 400.3,42.4 400.6,42.1 400.8,41.6 401.1,40.8 401.4,40.4 401.6,39.7 401.9,39.1 402.2,37.9 402.4,35.5 402.7,33.5 403.0,33.1 403.3,31.3 403.5,30.6 403.8,29.4 404.1,30.4 404.3,30.1 404.6,30.8 404.9,28.4 405.1,31.4 405.4,32.4 405.7,31.7 406.0,33.9 406.2,31.6 406.5,34.0 406.8,34.9 407.0,33.7 407.3,36.2 407.6,33.8 407.9,35.9 408.1,37.7 408.4,36.4 408.7,37.6 408.9,38.2 409.2,38.4 409.5,38.2 409.7,38.9 410.0,38.0 410.3,38.9 410.6,39.1 410.8,39.6 411.1,39.5 411.4,39.6 411.6,40.4 411.9,40.3 412.2,40.5 412.4,40.6 412.7,40.6 413.0,41.5 413.3,41.9 413.5,42.0 413.8,41.5 414.1,42.4 414.3,42.8 414.6,43.0 414.9,42.6 415.1,43.5 415.4,43.3 415.7,43.3 416.0,43.6 416.2,43.5 416.5,43.3 416.8,43.2 417.0,43.5 417.3,43.2 417.6,43.4 417.8,43.8 418.1,43.8 418.4,44.1 418.7,44.3 418.9,44.2 419.2,44.6 419.5,44.4 419.7,44.7 420.0,44.7 420.3,44.5 420.5,44.9 420.8,45.0 421.1,45.2 421.4,45.0 421.6,45.3 421.9,45.4 422.2,45.3 422.4,45.3 422.7,45.5 423.0,45.4 423.3,45.5 423.5,45.4 423.8,45.4 424.1,45.8 424.3,45.7 424.6,45.6 424.9,45.7 425.1,45.7 425.4,45.9 425.7,46.0 426.0,46.0 426.2,46.1 426.5,46.2 426.8,46.0 427.0,46.1 427.3,46.3 427.6,46.2 427.8,46.3 428.1,46.2 428.4,46.5 428.7,46.4 428.9,46.3 429.2,46.4 429.5,46.6 429.7,46.5 430.0,46.6 430.3,46.7 430.5,46.6 430.8,46.6 431.1,46.5 431.4,46.6 431.6,46.7 431.9,46.7 432.2,46.8 432.4,46.9 432.7,46.9 433.0,47.0 433.2,46.9 433.5,47.1 433.8,47.1 434.1,47.2 434.3,47.1 434.6,47.0 434.9,47.1 435.1,47.2 435.4,47.2 435.7,47.3 436.0,47.3 436.2,47.4 436.5,47.4 436.8,47.3 437.0,47.4 437.3,47.5 437.6,47.4 437.8,47.5 438.1,47.5 438.4,47.5 438.7,47.5 438.9,47.5 439.2,47.6 439.5,47.5 439.7,47.5 440.0,47.6 440.3,47.6 440.5,47.6 440.8,47.6 441.1,47.7 441.4,47.7 441.6,47.7 441.9,47.7 442.2,47.7 442.4,47.7 442.7,47.7 443.0,47.7 443.2,47.7 443.5,47.7 443.8,47.8 444.1,47.8 444.3,47.9 444.6,47.9 444.9,47.8 445.1,47.8 445.4,47.8 445.7,47.9 445.9,47.9 446.2,47.9 446.5,48.0 446.8,48.0 447.0,48.0 447.3,48.0 447.6,48.0 447.8,48.0 448.1,48.0 448.4,48.0 448.7,48.0 448.9,48.1 449.2,48.0 449.5,48.1 449.7,48.1 450.0,48.0 450.3,48.1 450.5,48.1 450.8,48.1 451.1,48.1 451.4,48.1 451.6,48.1 451.9,48.1 452.2,48.2 452.4,48.2 452.7,48.2 453.0,48.2 453.2,48.2 453.5,48.3 453.8,48.2 454.1,48.2 454.3,48.2 454.6,48.3 454.9,48.2 455.1,48.3 455.4,48.3 455.7,48.3 455.9,48.3 456.2,48.3 456.5,48.3 456.8,48.3 457.0,48.3 457.3,48.3 457.6,48.3 457.8,48.3 458.1,48.3 458.4,48.3 458.6,48.3 458.9,48.3 459.2,48.4 459.5,48.4 459.7,48.4 460.0,48.4 460.3,48.4 460.5,48.4 460.8,48.4 461.1,48.4 461.3,48.4 461.6,48.4 461.9,48.4 462.2,48.4 462.4,48.4 462.7,48.4 463.0,48.4 463.2,48.4 463.5,48.4 463.8,48.5 464.1,48.4 464.3,48.4 464.6,48.4 464.9,48.5 465.1,48.5 465.4,48.5 465.7,48.5 465.9,48.5 466.2,48.5 466.5,48.5 466.8,48.5 467.0,48.5 467.3,48.5 467.6,48.5 467.8,48.5 468.1,48.5 468.4,48.5 468.6,48.5 468.9,48.6 469.2,48.6 469.5,48.5 469.7,48.6 470.0,48.6 470.3,48.5 470.5,48.6 470.8,48.6 471.1,48.6 471.3,48.6 471.6,48.6 471.9,48.6 472.2,48.6 472.4,48.6 472.7,48.6 473.0,48.6 473.2,48.6 473.5,48.6 473.8,48.6 474.0,48.6 474.3,48.6 474.6,48.7 474.9,48.6 475.1,48.7 475.4,48.7 475.7,48.6 475.9,48.7 476.2,48.7 476.5,48.7 476.8,48.7 477.0,48.7 477.3,48.7 477.6,48.7 477.8,48.7 478.1,48.7 478.4,48.7 478.6,48.7 478.9,48.7 479.2,48.7 479.5,48.7 479.7,48.7 480.0,48.7 480.3,48.7 480.5,48.7 480.8,48.7 481.1,48.7 481.3,48.7 481.6,48.7 481.9,48.7 482.2,48.7 482.4,48.7 482.7,48.7 483.0,48.7 483.2,48.7 483.5,48.7 483.8,48.7 484.0,48.7 484.3,48.7 484.6,48.7 484.9,48.7 485.1,48.7 485.4,48.7 485.7,48.7 485.9,48.7 486.2,48.7 486.5,48.7 486.7,48.7 487.0,48.7 487.3,48.7 487.6,48.7 487.8,48.7 488.1,48.8 488.4,48.7 488.6,48.7 488.9,48.7 489.2,48.8 489.5,48.8 489.7,48.8 490.0,48.8 490.3,48.8 490.5,48.7 490.8,48.8 491.1,48.8 491.3,48.8 491.6,48.8 491.9,48.8 492.2,48.8 492.4,48.8 492.7,48.8 493.0,48.8 493.2,48.8 493.5,48.8 493.8,48.8 494.0,48.8 494.3,48.8 494.6,48.8"/>
<rect x="340.3" y="10.2" width="154.4" height="38.8" fill="none" stroke="#111" stroke-width="0.85"/>
<path d="M340.3 49V51.5M340.3 10V7.8M349.9 49V50.4M349.9 10V8.8M359.6 49V51.5M359.6 10V7.8M369.2 49V50.4M369.2 10V8.8M378.9 49V51.5M378.9 10V7.8M388.6 49V50.4M388.6 10V8.8M398.2 49V51.5M398.2 10V7.8M407.9 49V50.4M407.9 10V8.8M417.5 49V51.5M417.5 10V7.8M427.1 49V50.4M427.1 10V8.8M436.8 49V51.5M436.8 10V7.8M446.4 49V50.4M446.4 10V8.8M456.1 49V51.5M456.1 10V7.8M465.8 49V50.4M465.8 10V8.8M475.4 49V51.5M475.4 10V7.8M485.1 49V50.4M485.1 10V8.8M494.7 49V51.5M494.7 10V7.8M340.3 13.8H337.8M340.3 49H337.8M494.7 13.8H497M494.7 49H497" stroke="#222" stroke-width="0.5" fill="none"/>
<g font-family="'Liberation Sans',sans-serif" font-size="7.6" fill="#333" text-anchor="middle">
<text x="340.3" y="59.8">0</text>
<text x="359.6" y="59.8">10</text>
<text x="378.9" y="59.8">20</text>
<text x="398.2" y="59.8">30</text>
<text x="417.5" y="59.8">40</text>
<text x="436.8" y="59.8">50</text>
<text x="456.1" y="59.8">60</text>
<text x="475.4" y="59.8">70</text>
<text x="494.7" y="59.8">80</text>
<text x="340.3" y="85.6">0</text>
<text x="359.6" y="85.6">10</text>
<text x="378.9" y="85.6">20</text>
<text x="398.2" y="85.6">30</text>
<text x="417.5" y="85.6">40</text>
<text x="436.8" y="85.6">50</text>
<text x="456.1" y="85.6">60</text>
<text x="475.4" y="85.6">70</text>
<text x="494.7" y="85.6">80</text>
</g>
<text x="333" y="16.5" font-family="'Liberation Sans',sans-serif" font-size="7.6" fill="#333" text-anchor="middle">1</text>
<text x="333" y="51.7" font-family="'Liberation Sans',sans-serif" font-size="7.6" fill="#333" text-anchor="middle">0</text>
<text x="417.5" y="72.8" font-family="'Liberation Sans',sans-serif" font-size="8.3" fill="#141414" text-anchor="middle">Time (s)</text>
<text transform="translate(323.3,58.5) rotate(-90)" font-family="'Liberation Sans',sans-serif" font-size="7.9" fill="#141414" textLength="56.5" lengthAdjust="spacingAndGlyphs">Normalized amp.</text>
<text x="399" y="21.6" font-family="'Liberation Serif',serif" font-weight="bold" font-style="italic" font-size="12.8" fill="#dc143c" textLength="93" lengthAdjust="spacingAndGlyphs">Stacked waveform</text>
<path d="M340.3 90.5H494.7" stroke="#222" stroke-width="0.6"/>
<path d="M340.3 90.5V87.6M349.9 90.5V89M359.6 90.5V87.6M369.2 90.5V89M378.9 90.5V87.6M388.6 90.5V89M398.2 90.5V87.6M407.9 90.5V89M417.5 90.5V87.6M427.1 90.5V89M436.8 90.5V87.6M446.4 90.5V89M456.1 90.5V87.6M465.8 90.5V89M475.4 90.5V87.6M485.1 90.5V89M494.7 90.5V87.6" stroke="#222" stroke-width="0.5" fill="none"/>
<path d="M340.6 98.2V347" stroke="#222" stroke-width="0.6"/>
<path d="M340.6 98.2H337.4M340.6 109.5H338.8M340.6 120.8H337.4M340.6 132.1H338.8M340.6 143.4H337.4M340.6 154.7H338.8M340.6 166.0H337.4M340.6 177.3H338.8M340.6 188.6H337.4M340.6 199.9H338.8M340.6 211.2H337.4M340.6 222.5H338.8M340.6 233.8H337.4M340.6 245.1H338.8M340.6 256.4H337.4M340.6 267.7H338.8M340.6 279.0H337.4M340.6 290.3H338.8M340.6 301.6H337.4M340.6 312.9H338.8M340.6 324.2H337.4" stroke="#222" stroke-width="0.5" fill="none"/>
<g font-family="'Liberation Sans',sans-serif" font-size="7.4" fill="#333" text-anchor="end">
<text x="335" y="100.9">0</text>
<text x="335" y="123.5">10</text>
<text x="335" y="146.1">20</text>
<text x="335" y="168.7">30</text>
<text x="335" y="191.3">40</text>
<text x="335" y="213.9">50</text>
<text x="335" y="236.5">60</text>
<text x="335" y="259.1">70</text>
<text x="335" y="281.7">80</text>
<text x="335" y="304.3">90</text>
<text x="335" y="326.9">100</text>
</g>
<text transform="translate(316.3,261.5) rotate(-90)" font-family="'Liberation Sans',sans-serif" font-size="8" fill="#141414" textLength="82" lengthAdjust="spacingAndGlyphs">Epicentral distance (km)</text>
<polyline fill="none" stroke="#000" stroke-width="1" stroke-linejoin="round" points="343.7,103.8 344.2,103.8 344.7,103.8 345.2,103.8 345.7,103.8 346.2,103.8 346.7,103.8 347.2,103.8 347.7,103.8 348.2,103.8 348.7,103.8 349.2,103.8 349.7,103.8 350.2,103.8 350.7,103.8 351.2,103.8 351.7,103.8 352.2,103.8 352.7,103.8 353.2,103.8 353.7,103.8 354.2,103.8 354.7,103.8 355.2,103.8 355.7,103.8 356.2,103.8 356.7,103.8 357.2,103.8 357.7,103.8 358.2,103.8 358.7,103.8 359.2,103.8 359.7,103.8 360.2,103.8 360.7,103.8 361.2,103.8 361.7,103.8 362.2,103.8 362.7,103.8 363.2,103.8 363.7,103.7 364.2,103.7 364.7,103.8 365.2,103.8 365.7,103.7 366.2,103.7 366.7,103.7 367.2,103.8 367.7,103.7 368.2,103.7 368.7,103.7 369.2,103.7 369.7,103.7 370.2,103.7 370.7,103.7 371.2,103.7 371.7,103.7 372.2,103.7 372.7,103.7 373.2,103.7 373.7,103.7 374.2,103.7 374.7,103.7 375.2,103.7 375.7,103.7 376.2,103.7 376.7,103.7 377.2,103.7 377.7,103.7 378.2,103.7 378.7,103.7 379.2,103.7 379.7,103.7 380.2,103.7 380.7,103.7 381.2,103.7 381.7,103.6 382.2,103.6 382.7,103.5 383.2,103.4 383.7,103.4 384.2,103.3 384.7,103.4 385.2,103.4 385.7,103.3 386.2,103.1 386.7,103.1 387.2,103.1 387.7,103.2 388.2,103.1 388.7,103.2 389.2,103.1 389.7,103.1 390.2,103.0 390.7,103.0 391.2,103.1 391.7,102.9 392.2,102.6 392.7,102.6 393.2,102.7 393.7,102.9 394.2,103.1 394.7,102.8 395.2,102.7 395.7,102.9 396.2,102.7 396.7,102.8 397.2,102.5 397.7,102.6 398.2,102.7 398.7,102.7 399.2,102.3 399.7,102.6 400.2,102.2 400.7,102.8 401.2,102.3 401.7,102.3 402.2,102.2 402.7,102.0 403.2,102.1 403.7,102.2 404.2,102.0 404.7,101.6 405.2,101.5 405.7,99.7 406.2,100.2 406.7,99.7 407.2,98.5 407.7,98.3 408.2,94.9 408.7,93.1 409.2,89.3 409.7,92.8 410.2,92.8 410.7,97.1 411.2,97.6 411.7,98.1 412.2,98.6 412.7,99.0 413.2,99.2 413.7,99.2 414.2,100.4 414.7,99.1 415.2,100.8 415.7,100.2 416.2,100.3 416.7,100.4 417.2,100.8 417.7,101.3 418.2,101.8 418.7,101.2 419.2,101.2 419.7,101.4 420.2,102.0 420.7,101.5 421.2,101.3 421.7,102.1 422.2,102.5 422.7,101.9 423.2,101.7 423.7,102.2 424.2,102.1 424.7,102.4 425.2,102.6 425.7,102.2 426.2,102.3 426.7,102.4 427.2,102.7 427.7,102.8 428.2,102.5 428.7,102.9 429.2,102.5 429.7,102.9 430.2,102.6 430.7,102.6 431.2,102.5 431.7,102.7 432.2,102.8 432.7,102.8 433.2,103.1 433.7,102.7 434.2,102.8 434.7,103.1 435.2,102.5 435.7,102.8 436.2,102.9 436.7,102.7 437.2,102.7 437.7,102.9 438.2,103.0 438.7,103.0 439.2,102.7 439.7,102.8 440.2,102.7 440.7,103.0 441.2,102.7 441.7,102.8 442.2,102.9 442.7,102.8 443.2,103.1 443.7,103.1 444.2,103.0 444.7,102.8 445.2,102.7 445.7,102.6 446.2,102.8 446.7,102.8 447.2,102.7 447.7,102.4 448.2,102.7 448.7,102.8 449.2,102.7 449.7,102.8 450.2,102.8 450.7,102.6 451.2,102.5 451.7,102.5 452.2,102.9 452.7,103.0 453.2,102.7 453.7,103.1 454.2,102.5 454.7,102.8 455.2,102.7 455.7,102.9 456.2,103.1 456.7,102.8 457.2,103.0 457.7,103.0 458.2,103.0 458.7,102.8 459.2,102.8 459.7,103.1 460.2,102.9 460.7,102.8 461.2,102.7 461.7,102.9 462.2,103.0 462.7,102.9 463.2,102.6 463.7,102.9 464.2,103.1 464.7,102.7 465.2,102.9 465.7,102.8 466.2,102.7 466.7,102.9 467.2,102.8 467.7,102.6 468.2,102.7 468.7,103.1 469.2,103.0 469.7,103.0 470.2,102.8 470.7,103.0 471.2,102.9 471.7,102.8 472.2,102.8 472.7,102.8 473.2,102.9 473.7,102.7 474.2,102.8 474.7,102.8 475.2,102.9 475.7,102.9 476.2,103.1 476.7,102.9 477.2,103.0 477.7,103.0 478.2,103.1 478.7,103.0 479.2,103.2 479.7,103.2 480.2,102.9 480.7,103.0 481.2,103.0 481.7,103.0 482.2,103.0 482.7,102.8 483.2,102.9 483.7,102.9 484.2,102.9 484.7,103.1 485.2,103.0 485.7,103.0 486.2,102.9 486.7,102.8 487.2,103.1 487.7,103.1 488.2,103.1 488.7,103.2 489.2,103.1 489.7,103.2 490.2,103.0 490.7,103.0 491.2,103.2 491.7,103.2 492.2,103.0 492.7,103.0 493.2,103.0 493.7,103.1 494.2,102.9"/>
<polyline fill="none" stroke="#000" stroke-width="1" stroke-linejoin="round" points="340.6,129.1 341.1,129.1 341.6,129.1 342.1,129.1 342.6,129.1 343.1,129.1 343.6,129.1 344.1,129.1 344.6,129.1 345.1,129.1 345.6,129.1 346.1,129.1 346.6,129.1 347.1,129.1 347.6,129.1 348.1,129.1 348.6,129.1 349.1,129.1 349.6,129.1 350.1,129.1 350.6,129.1 351.1,129.1 351.6,129.1 352.1,129.1 352.6,129.1 353.1,129.1 353.6,129.1 354.1,129.1 354.6,129.1 355.1,129.1 355.6,129.1 356.1,129.1 356.6,129.1 357.1,129.0 357.6,129.1 358.1,129.1 358.6,129.0 359.1,129.0 359.6,129.0 360.1,129.0 360.6,129.0 361.1,129.0 361.6,129.1 362.1,129.0 362.6,129.0 363.1,129.1 363.6,129.0 364.1,129.0 364.6,129.0 365.1,129.0 365.6,129.0 366.1,129.0 366.6,129.0 367.1,129.0 367.6,129.0 368.1,129.0 368.6,129.0 369.1,129.0 369.6,129.0 370.1,129.0 370.6,129.0 371.1,129.0 371.6,129.0 372.1,129.0 372.6,128.7 373.1,128.3 373.6,127.9 374.1,127.2 374.6,127.4 375.1,127.1 375.6,127.5 376.1,126.7 376.6,127.1 377.1,126.3 377.6,126.4 378.1,126.6 378.6,126.5 379.1,126.4 379.6,126.6 380.1,125.8 380.6,126.2 381.1,126.2 381.6,126.6 382.1,126.4 382.6,126.2 383.1,126.3 383.6,126.7 384.1,125.9 384.6,126.3 385.1,126.6 385.6,125.5 386.1,126.6 386.6,125.8 387.1,126.6 387.6,126.5 388.1,125.6 388.6,125.3 389.1,125.4 389.6,126.3 390.1,126.0 390.6,126.4 391.1,125.7 391.6,126.1 392.1,126.3 392.6,125.5 393.1,126.1 393.6,126.5 394.1,126.8 394.6,126.8 395.1,126.5 395.6,126.0 396.1,125.4 396.6,126.7 397.1,126.6 397.6,126.1 398.1,126.5 398.6,126.6 399.1,127.2 399.6,127.0 400.1,126.6 400.6,127.2 401.1,127.1 401.6,126.7 402.1,126.8 402.6,126.7 403.1,126.0 403.6,126.9 404.1,127.1 404.6,126.9 405.1,127.3 405.6,126.6 406.1,126.6 406.6,126.9 407.1,126.4 407.6,127.0 408.1,127.3 408.6,126.5 409.1,127.2 409.6,126.6 410.1,126.3 410.6,126.3 411.1,125.3 411.6,125.3 412.1,125.0 412.6,124.3 413.1,121.7 413.6,122.2 414.1,120.7 414.6,113.7 415.1,119.9 415.6,120.5 416.1,121.4 416.6,123.4 417.1,123.0 417.6,124.4 418.1,123.8 418.6,124.1 419.1,126.0 419.6,126.0 420.1,126.1 420.6,125.6 421.1,126.4 421.6,126.4 422.1,126.9 422.6,127.2 423.1,125.9 423.6,126.9 424.1,127.2 424.6,126.6 425.1,127.0 425.6,127.2 426.1,126.4 426.6,127.3 427.1,127.2 427.6,126.9 428.1,127.2 428.6,126.6 429.1,127.5 429.6,127.7 430.1,127.0 430.6,127.5 431.1,127.5 431.6,127.0 432.1,127.3 432.6,127.2 433.1,127.2 433.6,127.1 434.1,127.6 434.6,127.5 435.1,127.1 435.6,127.8 436.1,127.2 436.6,127.3 437.1,127.4 437.6,127.4 438.1,127.1 438.6,127.5 439.1,127.7 439.6,127.4 440.1,127.6 440.6,127.7 441.1,127.8 441.6,127.6 442.1,127.4 442.6,128.1 443.1,127.4 443.6,127.3 444.1,127.5 444.6,127.8 445.1,127.9 445.6,127.5 446.1,127.5 446.6,127.4 447.1,127.2 447.6,127.5 448.1,127.8 448.6,127.7 449.1,127.7 449.6,127.3 450.1,127.6 450.6,127.4 451.1,127.6 451.6,127.6 452.1,127.6 452.6,127.5 453.1,127.3 453.6,127.6 454.1,127.7 454.6,127.6 455.1,127.4 455.6,127.4 456.1,127.9 456.6,127.9 457.1,127.5 457.6,127.6 458.1,127.8 458.6,128.1 459.1,128.0 459.6,127.9 460.1,127.2 460.6,127.7 461.1,127.6 461.6,128.0 462.1,127.8 462.6,127.9 463.1,127.8 463.6,127.5 464.1,127.6 464.6,127.6 465.1,127.5 465.6,127.5 466.1,127.6 466.6,127.4 467.1,127.4 467.6,127.9 468.1,127.9 468.6,128.1 469.1,127.7 469.6,127.7 470.1,127.7 470.6,128.3 471.1,128.1 471.6,127.5 472.1,127.8 472.6,128.1 473.1,127.8 473.6,128.0 474.1,128.2 474.6,128.0 475.1,128.2 475.6,128.1 476.1,128.2 476.6,128.2 477.1,128.1 477.6,127.9 478.1,128.3 478.6,127.9 479.1,128.1 479.6,127.9 480.1,128.0 480.6,128.1 481.1,127.9 481.6,128.1 482.1,128.0 482.6,128.0 483.1,127.9 483.6,127.7 484.1,128.2 484.6,128.4 485.1,128.0 485.6,128.1 486.1,127.9 486.6,128.4 487.1,128.3 487.6,128.3 488.1,128.4 488.6,128.3 489.1,128.0 489.6,128.2 490.1,128.3 490.6,128.4 491.1,128.4 491.6,128.2 492.1,128.1 492.6,128.1 493.1,128.4 493.6,128.5 494.1,128.5 494.6,128.5"/>
<polyline fill="none" stroke="#000" stroke-width="1" stroke-linejoin="round" points="345.2,136.9 345.7,136.9 346.2,136.9 346.7,136.9 347.2,136.9 347.7,136.9 348.2,136.9 348.7,136.9 349.2,136.9 349.7,136.9 350.2,136.9 350.7,136.9 351.2,136.9 351.7,136.9 352.2,136.9 352.7,136.9 353.2,136.9 353.7,136.9 354.2,136.9 354.7,136.9 355.2,136.9 355.7,136.9 356.2,136.9 356.7,136.9 357.2,136.9 357.7,136.9 358.2,136.9 358.7,136.9 359.2,136.9 359.7,136.9 360.2,136.9 360.7,136.8 361.2,136.9 361.7,136.8 362.2,136.9 362.7,136.8 363.2,136.8 363.7,136.9 364.2,136.9 364.7,136.9 365.2,136.8 365.7,136.9 366.2,136.8 366.7,136.9 367.2,136.8 367.7,136.8 368.2,136.8 368.7,136.8 369.2,136.8 369.7,136.8 370.2,136.8 370.7,136.8 371.2,136.8 371.7,136.8 372.2,136.8 372.7,136.8 373.2,136.7 373.7,136.1 374.2,136.0 374.7,135.7 375.2,135.6 375.7,135.2 376.2,134.8 376.7,134.8 377.2,135.4 377.7,134.4 378.2,135.1 378.7,135.0 379.2,134.7 379.7,134.1 380.2,134.1 380.7,134.9 381.2,135.1 381.7,134.6 382.2,135.1 382.7,134.1 383.2,133.4 383.7,134.6 384.2,134.3 384.7,134.2 385.2,133.8 385.7,134.3 386.2,134.1 386.7,134.2 387.2,134.2 387.7,134.7 388.2,134.5 388.7,134.1 389.2,134.5 389.7,134.2 390.2,134.3 390.7,134.3 391.2,134.5 391.7,133.6 392.2,134.3 392.7,134.6 393.2,134.6 393.7,134.3 394.2,134.3 394.7,134.6 395.2,134.1 395.7,134.4 396.2,134.8 396.7,134.3 397.2,134.8 397.7,128.9 398.2,134.2 398.7,134.8 399.2,133.9 399.7,134.7 400.2,134.7 400.7,134.5 401.2,134.1 401.7,134.5 402.2,134.1 402.7,134.9 403.2,134.5 403.7,134.9 404.2,134.7 404.7,134.4 405.2,135.2 405.7,133.6 406.2,133.9 406.7,133.6 407.2,134.7 407.7,134.1 408.2,134.8 408.7,135.0 409.2,134.9 409.7,134.7 410.2,134.7 410.7,134.1 411.2,133.7 411.7,134.7 412.2,134.3 412.7,134.4 413.2,134.3 413.7,133.3 414.2,134.5 414.7,133.2 415.2,132.8 415.7,133.3 416.2,130.1 416.7,131.6 417.2,132.1 417.7,133.9 418.2,133.3 418.7,134.3 419.2,134.0 419.7,134.0 420.2,134.9 420.7,134.9 421.2,134.4 421.7,134.3 422.2,134.7 422.7,134.9 423.2,134.4 423.7,135.1 424.2,135.2 424.7,134.6 425.2,135.2 425.7,135.1 426.2,134.6 426.7,134.8 427.2,134.9 427.7,135.1 428.2,134.9 428.7,134.9 429.2,135.2 429.7,135.2 430.2,135.3 430.7,134.5 431.2,135.0 431.7,135.1 432.2,135.5 432.7,134.8 433.2,134.7 433.7,135.0 434.2,135.5 434.7,135.6 435.2,135.3 435.7,135.8 436.2,135.3 436.7,135.9 437.2,135.3 437.7,134.9 438.2,134.8 438.7,135.1 439.2,135.4 439.7,135.2 440.2,135.4 440.7,135.3 441.2,135.4 441.7,135.3 442.2,135.7 442.7,135.1 443.2,135.6 443.7,135.6 444.2,135.8 444.7,135.1 445.2,135.3 445.7,135.4 446.2,135.1 446.7,135.4 447.2,135.1 447.7,135.9 448.2,135.0 448.7,135.5 449.2,135.5 449.7,135.8 450.2,135.5 450.7,135.5 451.2,135.2 451.7,135.4 452.2,135.2 452.7,135.8 453.2,135.7 453.7,135.8 454.2,135.7 454.7,135.6 455.2,135.1 455.7,135.5 456.2,135.1 456.7,135.5 457.2,135.2 457.7,135.5 458.2,135.2 458.7,135.9 459.2,135.3 459.7,135.0 460.2,135.9 460.7,135.9 461.2,135.3 461.7,135.5 462.2,135.5 462.7,135.6 463.2,136.0 463.7,135.6 464.2,135.7 464.7,135.9 465.2,135.8 465.7,135.9 466.2,135.4 466.7,135.7 467.2,136.0 467.7,135.9 468.2,135.2 468.7,135.6 469.2,135.7 469.7,135.7 470.2,135.6 470.7,135.7 471.2,135.4 471.7,135.7 472.2,135.9 472.7,135.8 473.2,135.7 473.7,135.9 474.2,135.9 474.7,135.5 475.2,135.7 475.7,136.1 476.2,135.7 476.7,135.8 477.2,136.0 477.7,136.2 478.2,135.7 478.7,135.8 479.2,136.1 479.7,135.8 480.2,136.0 480.7,135.9 481.2,136.1 481.7,136.0 482.2,135.9 482.7,136.0 483.2,136.2 483.7,136.0 484.2,136.0 484.7,136.1 485.2,135.8 485.7,135.9 486.2,136.2 486.7,136.1 487.2,136.1 487.7,136.0 488.2,136.0 488.7,135.7 489.2,136.1 489.7,136.0 490.2,135.8 490.7,136.0 491.2,136.1 491.7,136.2 492.2,135.9 492.7,136.1 493.2,136.3 493.7,136.3 494.2,136.1"/>
<polyline fill="none" stroke="#000" stroke-width="1" stroke-linejoin="round" points="344.3,147.6 344.8,147.6 345.3,147.6 345.8,147.6 346.3,147.6 346.8,147.6 347.3,147.6 347.8,147.6 348.3,147.6 348.8,147.6 349.3,147.6 349.8,147.6 350.3,147.6 350.8,147.6 351.3,147.6 351.8,147.6 352.3,147.6 352.8,147.6 353.3,147.6 353.8,147.6 354.3,147.6 354.8,147.6 355.3,147.6 355.8,147.6 356.3,147.6 356.8,147.6 357.3,147.6 357.8,147.6 358.3,147.6 358.8,147.6 359.3,147.6 359.8,147.6 360.3,147.6 360.8,147.6 361.3,147.6 361.8,147.6 362.3,147.5 362.8,147.6 363.3,147.5 363.8,147.5 364.3,147.6 364.8,147.6 365.3,147.6 365.8,147.6 366.3,147.6 366.8,147.6 367.3,147.5 367.8,147.6 368.3,147.6 368.8,147.6 369.3,147.6 369.8,147.6 370.3,147.6 370.8,147.6 371.3,147.5 371.8,147.6 372.3,147.6 372.8,147.6 373.3,147.5 373.8,147.6 374.3,147.4 374.8,147.2 375.3,146.6 375.8,147.1 376.3,145.8 376.8,146.7 377.3,146.6 377.8,146.4 378.3,144.6 378.8,145.1 379.3,146.7 379.8,144.2 380.3,145.8 380.8,145.3 381.3,146.5 381.8,146.2 382.3,145.7 382.8,146.4 383.3,146.6 383.8,144.8 384.3,146.4 384.8,143.6 385.3,146.5 385.8,146.5 386.3,144.1 386.8,145.0 387.3,143.4 387.8,133.6 388.3,138.4 388.8,135.0 389.3,143.7 389.8,144.3 390.3,143.4 390.8,137.8 391.3,144.3 391.8,143.7 392.3,143.3 392.8,144.1 393.3,135.0 393.8,132.9 394.3,133.7 394.8,135.1 395.3,139.9 395.8,141.7 396.3,128.6 396.8,140.4 397.3,131.9 397.8,131.0 398.3,134.6 398.8,125.1 399.3,127.6 399.8,126.7 400.3,126.6 400.8,131.9 401.3,131.4 401.8,143.8 402.3,140.1 402.8,139.7 403.3,145.1 403.8,141.6 404.3,142.6 404.8,142.8 405.3,142.5 405.8,142.9 406.3,144.2 406.8,142.6 407.3,145.1 407.8,146.3 408.3,144.8 408.8,143.4 409.3,146.1 409.8,144.2 410.3,145.9 410.8,144.4 411.3,145.5 411.8,144.6 412.3,146.1 412.8,143.7 413.3,146.1 413.8,143.7 414.3,145.3 414.8,144.4 415.3,143.6 415.8,145.5 416.3,145.1 416.8,145.5 417.3,145.7 417.8,144.0 418.3,136.8 418.8,142.3 419.3,144.7 419.8,144.0 420.3,144.7 420.8,145.2 421.3,145.1 421.8,142.2 422.3,144.5 422.8,145.7 423.3,145.4 423.8,145.8 424.3,144.6 424.8,146.1 425.3,145.0 425.8,145.6 426.3,146.7 426.8,145.2 427.3,144.8 427.8,145.9 428.3,146.1 428.8,146.0 429.3,146.4 429.8,146.6 430.3,147.0 430.8,144.8 431.3,145.3 431.8,145.4 432.3,146.1 432.8,145.8 433.3,145.4 433.8,146.6 434.3,145.8 434.8,145.9 435.3,146.3 435.8,146.4 436.3,145.4 436.8,146.8 437.3,146.5 437.8,145.0 438.3,146.6 438.8,145.9 439.3,146.8 439.8,146.7 440.3,146.0 440.8,146.2 441.3,146.4 441.8,146.4 442.3,145.1 442.8,146.4 443.3,146.9 443.8,146.4 444.3,145.5 444.8,146.9 445.3,146.3 445.8,146.5 446.3,146.1 446.8,145.7 447.3,146.6 447.8,147.1 448.3,146.9 448.8,146.4 449.3,146.4 449.8,146.0 450.3,145.9 450.8,145.6 451.3,146.3 451.8,146.1 452.3,146.7 452.8,145.9 453.3,147.0 453.8,146.0 454.3,146.5 454.8,146.0 455.3,146.7 455.8,146.6 456.3,146.5 456.8,147.0 457.3,145.7 457.8,146.7 458.3,146.4 458.8,146.6 459.3,145.5 459.8,145.5 460.3,146.4 460.8,146.0 461.3,146.8 461.8,146.0 462.3,146.1 462.8,146.8 463.3,146.6 463.8,145.9 464.3,146.5 464.8,146.5 465.3,145.8 465.8,145.7 466.3,146.3 466.8,146.5 467.3,145.9 467.8,146.7 468.3,146.6 468.8,146.7 469.3,147.2 469.8,146.0 470.3,146.7 470.8,145.7 471.3,147.0 471.8,146.1 472.3,146.9 472.8,146.7 473.3,146.9 473.8,146.6 474.3,146.2 474.8,146.9 475.3,146.9 475.8,146.5 476.3,146.2 476.8,146.8 477.3,146.3 477.8,147.0 478.3,146.8 478.8,146.3 479.3,146.5 479.8,146.5 480.3,146.9 480.8,147.0 481.3,147.2 481.8,146.7 482.3,146.9 482.8,146.8 483.3,147.2 483.8,146.8 484.3,146.5 484.8,147.0 485.3,147.0 485.8,146.4 486.3,146.8 486.8,146.8 487.3,147.0 487.8,146.5 488.3,146.9 488.8,147.0 489.3,147.0 489.8,147.2 490.3,147.2 490.8,146.8 491.3,146.9 491.8,146.5 492.3,146.9 492.8,146.4 493.3,146.6 493.8,146.5 494.3,146.7"/>
<polyline fill="none" stroke="#000" stroke-width="1" stroke-linejoin="round" points="340.6,166.6 341.1,166.6 341.6,166.6 342.1,166.6 342.6,166.6 343.1,166.6 343.6,166.6 344.1,166.6 344.6,166.6 345.1,166.6 345.6,166.6 346.1,166.6 346.6,166.6 347.1,166.6 347.6,166.6 348.1,166.6 348.6,166.6 349.1,166.6 349.6,166.6 350.1,166.6 350.6,166.6 351.1,166.6 351.6,166.6 352.1,166.6 352.6,166.6 353.1,166.6 353.6,166.6 354.1,166.6 354.6,166.6 355.1,166.6 355.6,166.5 356.1,166.6 356.6,166.6 357.1,166.5 357.6,166.6 358.1,166.6 358.6,166.6 359.1,166.5 359.6,166.6 360.1,166.5 360.6,166.5 361.1,166.6 361.6,166.6 362.1,166.6 362.6,166.6 363.1,166.6 363.6,166.6 364.1,166.6 364.6,166.6 365.1,166.5 365.6,166.6 366.1,166.6 366.6,166.5 367.1,166.6 367.6,166.6 368.1,166.6 368.6,166.5 369.1,166.5 369.6,165.9 370.1,165.3 370.6,165.5 371.1,165.3 371.6,165.7 372.1,164.8 372.6,164.6 373.1,161.5 373.6,163.9 374.1,162.6 374.6,163.4 375.1,159.7 375.6,162.7 376.1,162.7 376.6,159.2 377.1,150.6 377.6,160.6 378.1,162.4 378.6,163.3 379.1,160.3 379.6,163.6 380.1,158.6 380.6,163.1 381.1,161.9 381.6,162.7 382.1,163.3 382.6,163.5 383.1,159.8 383.6,160.0 384.1,160.7 384.6,163.0 385.1,162.6 385.6,162.3 386.1,156.0 386.6,156.3 387.1,160.8 387.6,161.0 388.1,161.5 388.6,160.9 389.1,155.2 389.6,153.6 390.1,162.2 390.6,157.1 391.1,161.0 391.6,157.5 392.1,158.8 392.6,161.2 393.1,161.8 393.6,158.0 394.1,161.5 394.6,159.1 395.1,162.2 395.6,161.5 396.1,160.1 396.6,158.4 397.1,160.8 397.6,157.0 398.1,160.4 398.6,152.6 399.1,153.7 399.6,159.7 400.1,161.5 400.6,155.1 401.1,158.3 401.6,158.8 402.1,158.6 402.6,160.4 403.1,160.9 403.6,161.4 404.1,164.0 404.6,162.8 405.1,163.5 405.6,162.4 406.1,163.1 406.6,164.2 407.1,163.7 407.6,164.1 408.1,163.2 408.6,162.4 409.1,163.5 409.6,164.1 410.1,163.8 410.6,163.8 411.1,163.9 411.6,162.9 412.1,163.1 412.6,162.5 413.1,161.6 413.6,161.5 414.1,163.9 414.6,162.7 415.1,160.2 415.6,162.8 416.1,161.4 416.6,164.1 417.1,162.9 417.6,162.3 418.1,163.6 418.6,164.1 419.1,160.4 419.6,159.1 420.1,161.7 420.6,157.3 421.1,161.7 421.6,155.4 422.1,151.6 422.6,161.9 423.1,161.2 423.6,158.7 424.1,163.1 424.6,162.6 425.1,160.5 425.6,163.6 426.1,159.6 426.6,162.5 427.1,162.5 427.6,162.4 428.1,162.3 428.6,163.4 429.1,164.1 429.6,163.8 430.1,162.7 430.6,164.7 431.1,163.7 431.6,162.4 432.1,164.5 432.6,164.3 433.1,163.5 433.6,164.0 434.1,164.6 434.6,163.3 435.1,164.5 435.6,164.7 436.1,163.9 436.6,164.6 437.1,163.2 437.6,164.4 438.1,164.5 438.6,164.9 439.1,163.7 439.6,164.6 440.1,163.4 440.6,164.8 441.1,162.4 441.6,164.2 442.1,163.6 442.6,163.7 443.1,164.1 443.6,164.5 444.1,164.9 444.6,164.9 445.1,164.5 445.6,165.1 446.1,165.3 446.6,164.2 447.1,163.6 447.6,164.8 448.1,164.3 448.6,163.3 449.1,165.0 449.6,165.0 450.1,164.3 450.6,164.4 451.1,165.0 451.6,164.9 452.1,164.9 452.6,165.2 453.1,164.4 453.6,164.1 454.1,165.1 454.6,165.5 455.1,164.8 455.6,163.9 456.1,164.9 456.6,165.1 457.1,165.5 457.6,163.6 458.1,165.5 458.6,163.6 459.1,164.5 459.6,164.8 460.1,165.4 460.6,164.9 461.1,165.4 461.6,164.2 462.1,164.4 462.6,164.3 463.1,164.8 463.6,164.7 464.1,165.8 464.6,165.7 465.1,164.4 465.6,165.0 466.1,164.9 466.6,165.0 467.1,165.5 467.6,165.7 468.1,165.4 468.6,164.8 469.1,165.6 469.6,165.7 470.1,165.5 470.6,165.3 471.1,165.1 471.6,164.9 472.1,165.0 472.6,165.5 473.1,165.4 473.6,165.3 474.1,165.9 474.6,165.9 475.1,165.1 475.6,165.6 476.1,165.6 476.6,164.9 477.1,165.8 477.6,164.9 478.1,165.3 478.6,165.0 479.1,165.5 479.6,165.8 480.1,165.1 480.6,165.6 481.1,166.0 481.6,164.9 482.1,165.2 482.6,166.0 483.1,165.9 483.6,165.8 484.1,166.0 484.6,165.5 485.1,165.8 485.6,165.6 486.1,165.9 486.6,165.8 487.1,165.0 487.6,165.4 488.1,165.8 488.6,165.6 489.1,165.7 489.6,165.2 490.1,165.8 490.6,165.5 491.1,166.0 491.6,165.8 492.1,165.5 492.6,166.1 493.1,166.1 493.6,165.8 494.1,166.1 494.6,165.9"/>
<polyline fill="none" stroke="#000" stroke-width="1" stroke-linejoin="round" points="351.5,171.6 352.0,171.6 352.5,171.6 353.0,171.6 353.5,171.6 354.0,171.6 354.5,171.6 355.0,171.6 355.5,171.6 356.0,171.6 356.5,171.6 357.0,171.6 357.5,171.6 358.0,171.6 358.5,171.6 359.0,171.6 359.5,171.6 360.0,171.6 360.5,171.6 361.0,171.6 361.5,171.5 362.0,171.6 362.5,171.5 363.0,171.6 363.5,171.6 364.0,171.5 364.5,171.5 365.0,171.5 365.5,171.6 366.0,171.5 366.5,171.5 367.0,171.5 367.5,171.5 368.0,171.5 368.5,171.3 369.0,171.0 369.5,170.7 370.0,170.5 370.5,169.9 371.0,170.5 371.5,170.1 372.0,170.1 372.5,169.3 373.0,169.9 373.5,170.1 374.0,169.9 374.5,169.5 375.0,169.5 375.5,169.2 376.0,169.2 376.5,169.1 377.0,169.3 377.5,169.0 378.0,169.4 378.5,168.4 379.0,167.7 379.5,167.2 380.0,168.0 380.5,168.5 381.0,167.9 381.5,168.5 382.0,169.0 382.5,168.2 383.0,168.4 383.5,169.3 384.0,168.9 384.5,168.9 385.0,168.3 385.5,168.9 386.0,167.4 386.5,168.8 387.0,168.8 387.5,168.8 388.0,167.8 388.5,167.8 389.0,167.4 389.5,168.4 390.0,168.6 390.5,167.4 391.0,169.1 391.5,168.8 392.0,168.7 392.5,168.7 393.0,168.3 393.5,167.7 394.0,168.5 394.5,168.2 395.0,167.4 395.5,168.4 396.0,168.9 396.5,168.7 397.0,168.3 397.5,168.3 398.0,168.7 398.5,168.1 399.0,167.9 399.5,168.5 400.0,168.7 400.5,166.8 401.0,167.2 401.5,167.7 402.0,168.5 402.5,167.3 403.0,167.7 403.5,168.6 404.0,168.7 404.5,167.3 405.0,167.6 405.5,167.7 406.0,167.3 406.5,167.7 407.0,168.8 407.5,168.3 408.0,169.3 408.5,169.1 409.0,167.1 409.5,167.4 410.0,169.2 410.5,168.5 411.0,168.6 411.5,169.0 412.0,169.1 412.5,169.2 413.0,169.3 413.5,169.1 414.0,169.2 414.5,169.1 415.0,168.0 415.5,169.3 416.0,169.1 416.5,168.2 417.0,169.3 417.5,169.0 418.0,168.6 418.5,168.5 419.0,168.2 419.5,168.1 420.0,168.0 420.5,169.0 421.0,169.2 421.5,168.9 422.0,168.9 422.5,169.1 423.0,169.0 423.5,167.4 424.0,167.0 424.5,164.6 425.0,166.2 425.5,167.9 426.0,168.6 426.5,166.7 427.0,166.9 427.5,167.8 428.0,168.2 428.5,168.8 429.0,167.4 429.5,168.1 430.0,168.6 430.5,167.9 431.0,167.4 431.5,168.3 432.0,169.2 432.5,169.4 433.0,169.1 433.5,169.1 434.0,168.3 434.5,168.9 435.0,169.9 435.5,170.0 436.0,169.0 436.5,169.3 437.0,169.7 437.5,169.2 438.0,169.3 438.5,169.1 439.0,169.4 439.5,169.3 440.0,169.6 440.5,168.6 441.0,168.1 441.5,169.5 442.0,169.1 442.5,168.5 443.0,168.7 443.5,169.0 444.0,168.7 444.5,168.1 445.0,168.7 445.5,169.7 446.0,169.1 446.5,169.8 447.0,169.8 447.5,168.9 448.0,168.8 448.5,169.8 449.0,168.4 449.5,169.1 450.0,169.2 450.5,169.6 451.0,168.4 451.5,169.1 452.0,169.1 452.5,170.1 453.0,169.8 453.5,169.5 454.0,169.9 454.5,169.2 455.0,169.6 455.5,169.7 456.0,170.0 456.5,169.1 457.0,170.1 457.5,169.3 458.0,169.4 458.5,169.9 459.0,169.6 459.5,169.5 460.0,169.0 460.5,169.4 461.0,169.8 461.5,169.7 462.0,170.2 462.5,169.9 463.0,169.9 463.5,169.9 464.0,169.8 464.5,170.0 465.0,170.0 465.5,170.1 466.0,169.8 466.5,170.4 467.0,169.0 467.5,169.8 468.0,170.5 468.5,169.6 469.0,169.2 469.5,170.3 470.0,170.2 470.5,169.8 471.0,169.8 471.5,170.2 472.0,169.8 472.5,170.4 473.0,169.8 473.5,170.4 474.0,170.7 474.5,170.5 475.0,170.7 475.5,169.8 476.0,170.0 476.5,169.9 477.0,170.1 477.5,170.5 478.0,170.1 478.5,170.5 479.0,170.3 479.5,170.4 480.0,170.3 480.5,170.1 481.0,170.3 481.5,169.9 482.0,170.0 482.5,170.6 483.0,170.1 483.5,170.5 484.0,169.9 484.5,170.3 485.0,170.4 485.5,170.4 486.0,170.7 486.5,170.6 487.0,170.6 487.5,170.9 488.0,170.7 488.5,170.5 489.0,170.1 489.5,170.5 490.0,170.4 490.5,170.4 491.0,170.9 491.5,170.4 492.0,170.5 492.5,170.3 493.0,170.5 493.5,170.6 494.0,170.8 494.5,170.9"/>
<polyline fill="none" stroke="#000" stroke-width="1" stroke-linejoin="round" points="340.6,175.0 341.1,175.0 341.6,175.0 342.1,175.0 342.6,175.0 343.1,175.0 343.6,175.0 344.1,175.0 344.6,175.0 345.1,175.0 345.6,175.0 346.1,175.0 346.6,175.0 347.1,175.0 347.6,175.0 348.1,175.0 348.6,175.0 349.1,175.0 349.6,175.0 350.1,175.0 350.6,175.0 351.1,175.0 351.6,175.0 352.1,175.0 352.6,175.0 353.1,175.0 353.6,175.0 354.1,175.0 354.6,175.0 355.1,175.0 355.6,175.0 356.1,175.0 356.6,174.9 357.1,175.0 357.6,175.0 358.1,175.0 358.6,174.9 359.1,174.9 359.6,174.9 360.1,174.9 360.6,174.9 361.1,174.9 361.6,174.9 362.1,174.9 362.6,174.9 363.1,174.9 363.6,174.9 364.1,174.9 364.6,174.9 365.1,174.9 365.6,174.7 366.1,174.5 366.6,174.5 367.1,174.3 367.6,174.0 368.1,173.9 368.6,173.6 369.1,173.5 369.6,172.7 370.1,173.0 370.6,173.0 371.1,172.3 371.6,172.3 372.1,172.4 372.6,172.5 373.1,172.6 373.6,172.0 374.1,172.2 374.6,171.6 375.1,172.0 375.6,171.3 376.1,170.8 376.6,171.9 377.1,171.5 377.6,170.9 378.1,172.1 378.6,171.8 379.1,171.6 379.6,171.9 380.1,171.6 380.6,170.4 381.1,171.4 381.6,171.4 382.1,170.4 382.6,170.4 383.1,171.6 383.6,171.7 384.1,172.0 384.6,171.9 385.1,171.9 385.6,172.0 386.1,171.8 386.6,171.4 387.1,171.3 387.6,171.7 388.1,171.7 388.6,170.1 389.1,171.3 389.6,171.9 390.1,171.6 390.6,170.7 391.1,171.3 391.6,171.4 392.1,171.4 392.6,170.8 393.1,170.2 393.6,171.5 394.1,171.3 394.6,170.8 395.1,171.5 395.6,170.0 396.1,170.0 396.6,170.2 397.1,171.4 397.6,171.6 398.1,171.6 398.6,171.2 399.1,169.9 399.6,169.5 400.1,169.9 400.6,171.5 401.1,171.6 401.6,170.5 402.1,170.2 402.6,170.5 403.1,171.3 403.6,169.9 404.1,170.5 404.6,171.2 405.1,171.1 405.6,170.0 406.1,170.9 406.6,170.9 407.1,171.8 407.6,170.0 408.1,171.3 408.6,169.9 409.1,171.4 409.6,171.9 410.1,170.0 410.6,170.9 411.1,171.1 411.6,170.8 412.1,171.7 412.6,171.5 413.1,171.6 413.6,171.4 414.1,171.5 414.6,170.9 415.1,171.2 415.6,171.3 416.1,171.7 416.6,171.7 417.1,171.6 417.6,171.8 418.1,170.9 418.6,171.6 419.1,171.1 419.6,171.8 420.1,171.9 420.6,170.9 421.1,171.2 421.6,170.7 422.1,171.3 422.6,171.4 423.1,171.6 423.6,171.3 424.1,170.8 424.6,170.0 425.1,170.1 425.6,168.0 426.1,170.6 426.6,171.1 427.1,171.1 427.6,170.2 428.1,171.5 428.6,171.3 429.1,170.2 429.6,171.4 430.1,171.6 430.6,170.1 431.1,171.9 431.6,171.6 432.1,172.0 432.6,171.5 433.1,171.6 433.6,172.1 434.1,171.5 434.6,171.7 435.1,170.9 435.6,172.2 436.1,171.9 436.6,172.3 437.1,171.5 437.6,171.3 438.1,171.7 438.6,171.4 439.1,172.3 439.6,171.4 440.1,171.7 440.6,171.2 441.1,171.7 441.6,171.7 442.1,171.7 442.6,171.2 443.1,172.0 443.6,171.7 444.1,172.1 444.6,172.1 445.1,171.8 445.6,171.1 446.1,171.7 446.6,172.0 447.1,172.2 447.6,171.1 448.1,171.9 448.6,171.0 449.1,171.1 449.6,171.5 450.1,171.9 450.6,171.1 451.1,171.7 451.6,171.4 452.1,172.1 452.6,172.5 453.1,172.1 453.6,172.4 454.1,172.1 454.6,171.3 455.1,172.5 455.6,172.3 456.1,172.4 456.6,172.1 457.1,171.4 457.6,172.1 458.1,172.5 458.6,172.7 459.1,172.4 459.6,172.6 460.1,172.8 460.6,172.8 461.1,173.1 461.6,172.8 462.1,172.4 462.6,172.1 463.1,172.1 463.6,172.8 464.1,172.2 464.6,172.3 465.1,172.7 465.6,172.2 466.1,172.3 466.6,173.0 467.1,172.6 467.6,172.3 468.1,172.6 468.6,172.7 469.1,173.5 469.6,173.3 470.1,173.0 470.6,172.9 471.1,172.9 471.6,173.5 472.1,172.7 472.6,173.1 473.1,173.3 473.6,173.1 474.1,173.5 474.6,173.2 475.1,172.7 475.6,173.3 476.1,173.1 476.6,172.9 477.1,173.5 477.6,173.6 478.1,173.2 478.6,173.6 479.1,173.6 479.6,173.1 480.1,173.4 480.6,173.4 481.1,173.7 481.6,173.3 482.1,172.7 482.6,173.6 483.1,172.9 483.6,173.6 484.1,173.3 484.6,173.5 485.1,173.6 485.6,173.4 486.1,173.3 486.6,173.1 487.1,173.4 487.6,173.9 488.1,173.7 488.6,173.8 489.1,173.8 489.6,173.5 490.1,173.6 490.6,173.7 491.1,173.3 491.6,173.6 492.1,173.9 492.6,173.4 493.1,173.9 493.6,174.1 494.1,173.7 494.6,173.6"/>
<polyline fill="none" stroke="#000" stroke-width="1" stroke-linejoin="round" points="343.5,221.0 344.0,221.0 344.5,221.0 345.0,221.0 345.5,221.0 346.0,221.0 346.5,221.0 347.0,221.0 347.5,221.0 348.0,221.0 348.5,221.0 349.0,221.0 349.5,221.0 350.0,221.0 350.5,221.0 351.0,221.0 351.5,221.0 352.0,221.0 352.5,221.0 353.0,221.0 353.5,221.0 354.0,221.0 354.5,221.0 355.0,220.9 355.5,221.0 356.0,221.0 356.5,221.0 357.0,221.0 357.5,221.0 358.0,221.0 358.5,221.0 359.0,221.0 359.5,220.9 360.0,221.0 360.5,221.0 361.0,221.0 361.5,220.9 362.0,221.0 362.5,221.0 363.0,220.9 363.5,220.9 364.0,220.9 364.5,220.9 365.0,221.0 365.5,221.0 366.0,220.9 366.5,220.8 367.0,220.7 367.5,220.1 368.0,219.9 368.5,220.5 369.0,219.8 369.5,220.0 370.0,219.5 370.5,220.1 371.0,220.3 371.5,219.8 372.0,219.2 372.5,218.0 373.0,219.4 373.5,217.8 374.0,219.3 374.5,219.3 375.0,216.8 375.5,219.1 376.0,218.7 376.5,217.4 377.0,216.2 377.5,219.0 378.0,218.5 378.5,216.5 379.0,215.0 379.5,209.7 380.0,218.4 380.5,215.0 381.0,210.4 381.5,206.6 382.0,207.6 382.5,206.2 383.0,203.1 383.5,201.0 384.0,214.3 384.5,186.0 385.0,206.8 385.5,210.6 386.0,215.9 386.5,212.8 387.0,212.7 387.5,208.9 388.0,213.7 388.5,199.0 389.0,213.4 389.5,208.7 390.0,210.6 390.5,213.6 391.0,216.1 391.5,206.8 392.0,207.6 392.5,214.6 393.0,205.8 393.5,216.4 394.0,200.6 394.5,199.1 395.0,213.4 395.5,206.5 396.0,209.7 396.5,197.4 397.0,202.1 397.5,196.9 398.0,193.7 398.5,206.4 399.0,167.0 399.5,207.7 400.0,188.8 400.5,185.6 401.0,163.0 401.5,206.0 402.0,202.4 402.5,171.0 403.0,213.4 403.5,210.6 404.0,213.6 404.5,211.3 405.0,198.4 405.5,210.8 406.0,208.4 406.5,193.5 407.0,200.1 407.5,198.0 408.0,197.7 408.5,198.6 409.0,208.5 409.5,198.1 410.0,193.9 410.5,213.1 411.0,200.9 411.5,206.0 412.0,193.4 412.5,213.3 413.0,192.8 413.5,208.5 414.0,188.6 414.5,197.3 415.0,164.0 415.5,194.7 416.0,207.4 416.5,207.2 417.0,181.0 417.5,199.3 418.0,213.1 418.5,209.0 419.0,200.5 419.5,213.1 420.0,213.8 420.5,215.5 421.0,208.5 421.5,204.3 422.0,213.4 422.5,208.0 423.0,211.3 423.5,205.1 424.0,217.1 424.5,214.8 425.0,211.0 425.5,209.6 426.0,213.5 426.5,210.2 427.0,211.1 427.5,213.6 428.0,216.2 428.5,213.1 429.0,217.3 429.5,216.5 430.0,213.2 430.5,211.9 431.0,212.4 431.5,217.7 432.0,210.0 432.5,213.7 433.0,215.9 433.5,205.5 434.0,215.6 434.5,213.5 435.0,213.2 435.5,217.6 436.0,217.8 436.5,216.2 437.0,212.1 437.5,212.3 438.0,215.6 438.5,213.2 439.0,213.8 439.5,217.4 440.0,218.6 440.5,218.1 441.0,215.3 441.5,216.8 442.0,218.8 442.5,215.2 443.0,219.6 443.5,218.3 444.0,217.5 444.5,216.8 445.0,216.2 445.5,217.6 446.0,216.2 446.5,216.1 447.0,217.3 447.5,217.3 448.0,217.5 448.5,218.5 449.0,218.3 449.5,218.5 450.0,217.5 450.5,219.2 451.0,219.4 451.5,217.4 452.0,217.9 452.5,217.0 453.0,219.9 453.5,217.8 454.0,218.8 454.5,217.5 455.0,218.2 455.5,219.6 456.0,218.9 456.5,218.6 457.0,219.5 457.5,219.7 458.0,218.4 458.5,217.7 459.0,217.4 459.5,219.9 460.0,217.8 460.5,218.4 461.0,218.4 461.5,219.4 462.0,220.0 462.5,219.9 463.0,218.5 463.5,219.1 464.0,219.6 464.5,218.8 465.0,219.6 465.5,218.7 466.0,218.1 466.5,217.9 467.0,219.0 467.5,219.5 468.0,220.1 468.5,218.9 469.0,218.5 469.5,218.0 470.0,218.9 470.5,219.5 471.0,218.5 471.5,220.1 472.0,219.7 472.5,219.3 473.0,218.9 473.5,219.8 474.0,218.4 474.5,219.8 475.0,218.3 475.5,219.4 476.0,220.1 476.5,218.5 477.0,219.5 477.5,219.4 478.0,218.3 478.5,219.8 479.0,218.4 479.5,219.6 480.0,219.5 480.5,219.6 481.0,218.6 481.5,219.7 482.0,219.6 482.5,219.9 483.0,219.9 483.5,220.1 484.0,218.9 484.5,218.4 485.0,219.7 485.5,218.9 486.0,219.4 486.5,219.3 487.0,219.7 487.5,219.8 488.0,219.4 488.5,219.9 489.0,219.5 489.5,218.8 490.0,219.3 490.5,219.6 491.0,220.4 491.5,219.0 492.0,219.9 492.5,219.4 493.0,219.8 493.5,219.6 494.0,219.6 494.5,219.7"/>
<polyline fill="none" stroke="#000" stroke-width="1" stroke-linejoin="round" points="345.8,236.7 346.3,236.7 346.8,236.7 347.3,236.7 347.8,236.7 348.3,236.7 348.8,236.7 349.3,236.7 349.8,236.7 350.3,236.7 350.8,236.7 351.3,236.7 351.8,236.7 352.3,236.7 352.8,236.7 353.3,236.7 353.8,236.7 354.3,236.7 354.8,236.7 355.3,236.7 355.8,236.7 356.3,236.7 356.8,236.7 357.3,236.7 357.8,236.7 358.3,236.7 358.8,236.7 359.3,236.7 359.8,236.7 360.3,236.7 360.8,236.7 361.3,236.7 361.8,236.7 362.3,236.7 362.8,236.7 363.3,236.6 363.8,236.6 364.3,236.7 364.8,236.7 365.3,236.7 365.8,236.7 366.3,236.7 366.8,236.6 367.3,236.7 367.8,236.7 368.3,236.7 368.8,236.7 369.3,236.6 369.8,236.7 370.3,236.7 370.8,236.7 371.3,236.7 371.8,236.7 372.3,236.7 372.8,236.7 373.3,236.6 373.8,236.7 374.3,236.5 374.8,236.4 375.3,236.2 375.8,235.6 376.3,235.6 376.8,236.1 377.3,234.1 377.8,235.5 378.3,232.8 378.8,233.5 379.3,233.7 379.8,231.7 380.3,234.4 380.8,227.6 381.3,231.0 381.8,223.7 382.3,233.3 382.8,230.5 383.3,231.6 383.8,230.5 384.3,226.2 384.8,223.6 385.3,222.9 385.8,227.3 386.3,230.5 386.8,228.4 387.3,219.0 387.8,228.5 388.3,228.6 388.8,230.9 389.3,230.4 389.8,217.7 390.3,217.5 390.8,224.6 391.3,232.1 391.8,227.1 392.3,214.7 392.8,230.3 393.3,230.4 393.8,221.8 394.3,230.5 394.8,216.9 395.3,223.9 395.8,227.8 396.3,211.4 396.8,219.3 397.3,228.7 397.8,226.0 398.3,227.4 398.8,224.9 399.3,225.5 399.8,213.9 400.3,225.3 400.8,197.9 401.3,198.0 401.8,194.6 402.3,213.0 402.8,212.7 403.3,226.7 403.8,212.4 404.3,204.5 404.8,225.6 405.3,215.0 405.8,208.0 406.3,208.9 406.8,196.5 407.3,198.5 407.8,207.0 408.3,226.5 408.8,207.3 409.3,215.9 409.8,222.7 410.3,223.3 410.8,217.4 411.3,210.8 411.8,200.1 412.3,200.1 412.8,191.5 413.3,190.3 413.8,198.1 414.3,218.2 414.8,200.7 415.3,222.6 415.8,224.7 416.3,192.2 416.8,203.8 417.3,213.3 417.8,209.7 418.3,222.8 418.8,224.7 419.3,199.6 419.8,227.0 420.3,228.5 420.8,206.6 421.3,226.5 421.8,225.7 422.3,212.3 422.8,214.1 423.3,211.6 423.8,213.4 424.3,231.1 424.8,229.3 425.3,226.1 425.8,220.6 426.3,231.3 426.8,228.4 427.3,227.8 427.8,232.6 428.3,231.8 428.8,229.9 429.3,228.2 429.8,233.5 430.3,232.5 430.8,230.4 431.3,228.4 431.8,233.9 432.3,233.7 432.8,232.1 433.3,230.2 433.8,230.5 434.3,234.6 434.8,234.0 435.3,235.3 435.8,231.1 436.3,234.8 436.8,234.2 437.3,226.3 437.8,231.1 438.3,221.7 438.8,227.9 439.3,232.4 439.8,231.7 440.3,229.3 440.8,230.5 441.3,229.7 441.8,231.2 442.3,229.7 442.8,229.9 443.3,234.1 443.8,230.7 444.3,232.9 444.8,233.0 445.3,231.4 445.8,234.9 446.3,229.9 446.8,234.7 447.3,234.0 447.8,229.7 448.3,234.1 448.8,232.9 449.3,229.0 449.8,231.5 450.3,234.7 450.8,233.5 451.3,231.9 451.8,232.4 452.3,230.5 452.8,233.6 453.3,231.3 453.8,234.6 454.3,230.7 454.8,232.0 455.3,235.0 455.8,231.4 456.3,234.4 456.8,234.7 457.3,234.7 457.8,233.8 458.3,233.5 458.8,235.5 459.3,234.9 459.8,234.7 460.3,233.6 460.8,231.9 461.3,232.0 461.8,234.0 462.3,234.4 462.8,234.2 463.3,232.2 463.8,234.9 464.3,234.0 464.8,233.2 465.3,234.9 465.8,235.4 466.3,234.1 466.8,232.8 467.3,235.5 467.8,235.4 468.3,235.3 468.8,233.4 469.3,234.6 469.8,234.5 470.3,234.4 470.8,233.6 471.3,235.9 471.8,233.0 472.3,234.8 472.8,234.0 473.3,233.6 473.8,233.2 474.3,234.3 474.8,233.5 475.3,233.8 475.8,235.0 476.3,233.6 476.8,233.2 477.3,234.9 477.8,233.7 478.3,234.2 478.8,233.2 479.3,234.3 479.8,235.3 480.3,235.3 480.8,234.6 481.3,235.4 481.8,233.8 482.3,235.3 482.8,235.0 483.3,233.2 483.8,233.1 484.3,235.9 484.8,235.7 485.3,235.6 485.8,235.4 486.3,235.3 486.8,233.8 487.3,233.9 487.8,234.8 488.3,234.0 488.8,235.6 489.3,234.6 489.8,234.3 490.3,235.3 490.8,234.4 491.3,234.7 491.8,235.4 492.3,235.0 492.8,234.9 493.3,235.1 493.8,235.3 494.3,234.6"/>
<polyline fill="none" stroke="#000" stroke-width="1" stroke-linejoin="round" points="345.8,237.3 346.3,237.3 346.8,237.3 347.3,237.3 347.8,237.3 348.3,237.3 348.8,237.3 349.3,237.3 349.8,237.3 350.3,237.3 350.8,237.3 351.3,237.3 351.8,237.3 352.3,237.3 352.8,237.3 353.3,237.3 353.8,237.3 354.3,237.3 354.8,237.3 355.3,237.3 355.8,237.3 356.3,237.3 356.8,237.3 357.3,237.3 357.8,237.3 358.3,237.3 358.8,237.3 359.3,237.3 359.8,237.3 360.3,237.3 360.8,237.3 361.3,237.3 361.8,237.3 362.3,237.2 362.8,237.3 363.3,237.3 363.8,237.3 364.3,237.3 364.8,237.3 365.3,237.2 365.8,237.3 366.3,237.3 366.8,237.3 367.3,237.3 367.8,237.3 368.3,237.2 368.8,237.2 369.3,237.3 369.8,237.2 370.3,237.3 370.8,237.3 371.3,237.3 371.8,237.2 372.3,237.3 372.8,237.2 373.3,237.3 373.8,237.3 374.3,237.2 374.8,237.2 375.3,237.1 375.8,237.0 376.3,236.6 376.8,236.7 377.3,236.4 377.8,235.0 378.3,235.8 378.8,236.0 379.3,234.3 379.8,235.2 380.3,233.6 380.8,233.1 381.3,230.5 381.8,230.6 382.3,230.3 382.8,234.1 383.3,230.5 383.8,230.5 384.3,228.8 384.8,232.8 385.3,221.4 385.8,233.8 386.3,227.9 386.8,233.1 387.3,228.0 387.8,227.7 388.3,228.2 388.8,227.7 389.3,219.2 389.8,227.8 390.3,218.6 390.8,230.3 391.3,222.2 391.8,223.8 392.3,225.5 392.8,214.3 393.3,215.9 393.8,214.7 394.3,212.6 394.8,210.1 395.3,226.9 395.8,229.3 396.3,209.2 396.8,224.8 397.3,227.8 397.8,228.7 398.3,206.8 398.8,211.3 399.3,218.3 399.8,213.4 400.3,225.0 400.8,214.1 401.3,225.9 401.8,204.4 402.3,212.8 402.8,220.1 403.3,228.8 403.8,218.1 404.3,212.4 404.8,209.5 405.3,216.2 405.8,218.2 406.3,207.6 406.8,217.7 407.3,216.3 407.8,207.1 408.3,218.5 408.8,196.0 409.3,206.9 409.8,200.8 410.3,228.3 410.8,220.6 411.3,210.5 411.8,224.8 412.3,226.5 412.8,196.7 413.3,204.8 413.8,224.7 414.3,216.9 414.8,201.0 415.3,224.5 415.8,213.0 416.3,203.8 416.8,198.2 417.3,228.2 417.8,228.3 418.3,203.7 418.8,214.5 419.3,227.3 419.8,206.9 420.3,229.8 420.8,220.5 421.3,223.9 421.8,226.0 422.3,213.6 422.8,221.3 423.3,213.8 423.8,218.6 424.3,228.9 424.8,228.1 425.3,229.3 425.8,222.7 426.3,227.7 426.8,223.3 427.3,231.8 427.8,234.6 428.3,232.4 428.8,234.9 429.3,230.7 429.8,234.0 430.3,235.0 430.8,233.1 431.3,234.8 431.8,233.2 432.3,232.9 432.8,230.4 433.3,230.3 433.8,233.6 434.3,230.7 434.8,235.0 435.3,235.6 435.8,232.4 436.3,234.6 436.8,231.5 437.3,230.5 437.8,231.8 438.3,235.2 438.8,229.1 439.3,223.8 439.8,231.1 440.3,232.1 440.8,232.1 441.3,233.5 441.8,231.3 442.3,228.6 442.8,228.3 443.3,227.3 443.8,232.8 444.3,227.4 444.8,234.3 445.3,229.5 445.8,233.9 446.3,231.9 446.8,232.6 447.3,235.7 447.8,235.1 448.3,230.0 448.8,234.2 449.3,233.6 449.8,232.3 450.3,233.4 450.8,234.2 451.3,234.7 451.8,232.8 452.3,232.5 452.8,235.7 453.3,235.2 453.8,235.6 454.3,233.9 454.8,235.8 455.3,232.6 455.8,232.3 456.3,233.2 456.8,234.4 457.3,233.0 457.8,233.6 458.3,234.3 458.8,235.0 459.3,234.5 459.8,234.8 460.3,235.9 460.8,233.2 461.3,234.3 461.8,234.1 462.3,232.6 462.8,233.6 463.3,234.2 463.8,234.8 464.3,235.0 464.8,235.6 465.3,234.1 465.8,232.9 466.3,235.8 466.8,235.1 467.3,236.0 467.8,233.9 468.3,234.9 468.8,233.7 469.3,233.3 469.8,235.7 470.3,233.5 470.8,234.3 471.3,233.5 471.8,236.4 472.3,235.5 472.8,235.5 473.3,234.4 473.8,234.8 474.3,234.0 474.8,236.2 475.3,234.1 475.8,234.6 476.3,235.3 476.8,233.8 477.3,234.4 477.8,235.4 478.3,235.0 478.8,234.6 479.3,236.6 479.8,236.2 480.3,236.2 480.8,235.5 481.3,235.6 481.8,236.3 482.3,235.3 482.8,234.8 483.3,235.0 483.8,234.8 484.3,234.7 484.8,236.4 485.3,234.9 485.8,236.2 486.3,236.2 486.8,235.5 487.3,235.0 487.8,234.4 488.3,234.6 488.8,236.2 489.3,234.4 489.8,235.1 490.3,236.0 490.8,236.0 491.3,235.8 491.8,236.0 492.3,234.8 492.8,236.5 493.3,235.3 493.8,236.4 494.3,236.3"/>
<polyline fill="none" stroke="#000" stroke-width="1" stroke-linejoin="round" points="345.7,266.4 346.2,266.4 346.7,266.4 347.2,266.4 347.7,266.4 348.2,266.4 348.7,266.4 349.2,266.4 349.7,266.4 350.2,266.4 350.7,266.4 351.2,266.4 351.7,266.4 352.2,266.4 352.7,266.4 353.2,266.4 353.7,266.4 354.2,266.4 354.7,266.4 355.2,266.4 355.7,266.4 356.2,266.4 356.7,266.4 357.2,266.4 357.7,266.4 358.2,266.4 358.7,266.4 359.2,266.4 359.7,266.4 360.2,266.4 360.7,266.4 361.2,266.4 361.7,266.4 362.2,266.4 362.7,266.4 363.2,266.4 363.7,266.3 364.2,266.3 364.7,266.3 365.2,266.3 365.7,266.4 366.2,266.4 366.7,266.4 367.2,266.4 367.7,266.3 368.2,266.4 368.7,266.3 369.2,266.4 369.7,266.3 370.2,266.3 370.7,266.4 371.2,266.4 371.7,266.3 372.2,266.4 372.7,266.3 373.2,266.3 373.7,266.1 374.2,265.6 374.7,265.9 375.2,264.4 375.7,265.8 376.2,265.8 376.7,263.4 377.2,263.4 377.7,264.2 378.2,264.2 378.7,264.1 379.2,263.3 379.7,255.1 380.2,261.2 380.7,261.9 381.2,252.7 381.7,261.7 382.2,260.7 382.7,251.2 383.2,259.0 383.7,261.0 384.2,258.7 384.7,241.9 385.2,243.9 385.7,252.9 386.2,260.3 386.7,247.3 387.2,259.8 387.7,250.7 388.2,259.7 388.7,247.3 389.2,256.6 389.7,261.1 390.2,258.8 390.7,258.3 391.2,252.2 391.7,259.3 392.2,260.8 392.7,251.1 393.2,249.2 393.7,239.7 394.2,260.0 394.7,251.3 395.2,256.8 395.7,246.1 396.2,250.8 396.7,227.0 397.2,236.9 397.7,254.8 398.2,256.0 398.7,230.7 399.2,255.3 399.7,239.5 400.2,245.8 400.7,253.8 401.2,225.7 401.7,225.3 402.2,221.6 402.7,243.4 403.2,214.2 403.7,239.9 404.2,215.5 404.7,228.9 405.2,230.8 405.7,252.3 406.2,205.5 406.7,222.1 407.2,221.4 407.7,237.2 408.2,251.8 408.7,253.1 409.2,235.2 409.7,222.6 410.2,227.1 410.7,245.7 411.2,243.2 411.7,247.6 412.2,208.5 412.7,236.2 413.2,242.1 413.7,247.9 414.2,215.9 414.7,211.8 415.2,229.9 415.7,250.4 416.2,215.1 416.7,222.8 417.2,245.6 417.7,237.7 418.2,248.4 418.7,230.3 419.2,245.5 419.7,213.9 420.2,254.9 420.7,223.8 421.2,232.8 421.7,249.4 422.2,257.6 422.7,247.9 423.2,237.3 423.7,258.3 424.2,248.6 424.7,250.7 425.2,248.5 425.7,252.4 426.2,256.7 426.7,262.4 427.2,254.1 427.7,260.7 428.2,255.7 428.7,257.4 429.2,260.4 429.7,255.8 430.2,255.8 430.7,263.4 431.2,259.3 431.7,261.8 432.2,257.2 432.7,257.0 433.2,260.2 433.7,259.3 434.2,260.2 434.7,263.2 435.2,257.5 435.7,261.4 436.2,262.8 436.7,259.5 437.2,264.3 437.7,261.6 438.2,262.6 438.7,260.3 439.2,260.2 439.7,262.9 440.2,264.3 440.7,261.8 441.2,259.4 441.7,258.7 442.2,258.9 442.7,263.6 443.2,263.1 443.7,261.0 444.2,259.3 444.7,263.2 445.2,259.0 445.7,263.4 446.2,257.8 446.7,260.7 447.2,260.2 447.7,259.2 448.2,253.4 448.7,259.7 449.2,252.9 449.7,256.8 450.2,258.9 450.7,253.8 451.2,262.1 451.7,263.2 452.2,256.9 452.7,261.0 453.2,263.1 453.7,257.6 454.2,259.5 454.7,263.8 455.2,260.7 455.7,262.8 456.2,264.0 456.7,264.1 457.2,263.8 457.7,262.0 458.2,263.0 458.7,262.3 459.2,263.8 459.7,261.4 460.2,260.0 460.7,260.3 461.2,260.8 461.7,260.1 462.2,263.3 462.7,263.7 463.2,260.5 463.7,263.9 464.2,264.2 464.7,260.9 465.2,261.5 465.7,263.3 466.2,265.0 466.7,261.7 467.2,260.5 467.7,262.8 468.2,262.9 468.7,264.7 469.2,265.0 469.7,262.8 470.2,263.0 470.7,264.7 471.2,261.0 471.7,261.2 472.2,264.5 472.7,263.2 473.2,264.0 473.7,263.2 474.2,263.1 474.7,262.1 475.2,264.6 475.7,262.3 476.2,264.8 476.7,263.7 477.2,261.3 477.7,262.3 478.2,263.0 478.7,263.1 479.2,261.0 479.7,264.2 480.2,262.3 480.7,262.2 481.2,261.5 481.7,262.6 482.2,262.5 482.7,263.0 483.2,264.3 483.7,265.2 484.2,263.0 484.7,264.3 485.2,263.1 485.7,263.0 486.2,263.7 486.7,261.5 487.2,262.8 487.7,262.1 488.2,263.2 488.7,264.7 489.2,265.3 489.7,264.6 490.2,264.4 490.7,263.7 491.2,261.9 491.7,261.8 492.2,263.0 492.7,263.4 493.2,264.9 493.7,265.0 494.2,264.9"/>
<polyline fill="none" stroke="#000" stroke-width="1" stroke-linejoin="round" points="348.0,267.2 348.5,267.2 349.0,267.2 349.5,267.2 350.0,267.2 350.5,267.2 351.0,267.2 351.5,267.2 352.0,267.2 352.5,267.2 353.0,267.2 353.5,267.2 354.0,267.2 354.5,267.2 355.0,267.2 355.5,267.2 356.0,267.2 356.5,267.2 357.0,267.2 357.5,267.2 358.0,267.2 358.5,267.2 359.0,267.2 359.5,267.2 360.0,267.2 360.5,267.2 361.0,267.2 361.5,267.2 362.0,267.1 362.5,267.1 363.0,267.2 363.5,267.2 364.0,267.2 364.5,267.2 365.0,267.2 365.5,267.2 366.0,267.1 366.5,267.2 367.0,267.2 367.5,267.1 368.0,267.2 368.5,267.2 369.0,267.1 369.5,267.2 370.0,267.2 370.5,267.2 371.0,267.1 371.5,267.1 372.0,267.1 372.5,266.9 373.0,266.7 373.5,266.4 374.0,266.5 374.5,265.8 375.0,266.2 375.5,264.6 376.0,265.1 376.5,264.8 377.0,262.9 377.5,263.5 378.0,262.2 378.5,264.2 379.0,261.4 379.5,262.2 380.0,263.0 380.5,255.0 381.0,254.2 381.5,253.5 382.0,262.2 382.5,251.9 383.0,260.6 383.5,260.0 384.0,263.5 384.5,255.0 385.0,248.1 385.5,263.1 386.0,251.7 386.5,254.7 387.0,256.3 387.5,254.6 388.0,247.7 388.5,261.4 389.0,248.4 389.5,246.0 390.0,250.9 390.5,259.9 391.0,258.8 391.5,249.9 392.0,244.3 392.5,258.5 393.0,240.3 393.5,249.2 394.0,239.3 394.5,253.7 395.0,239.8 395.5,248.5 396.0,253.1 396.5,247.4 397.0,240.9 397.5,236.6 398.0,231.0 398.5,234.8 399.0,256.9 399.5,250.3 400.0,235.4 400.5,238.3 401.0,241.3 401.5,246.8 402.0,246.1 402.5,234.4 403.0,255.8 403.5,233.0 404.0,234.3 404.5,247.1 405.0,241.7 405.5,252.7 406.0,247.4 406.5,247.2 407.0,256.6 407.5,249.2 408.0,243.0 408.5,218.6 409.0,230.2 409.5,240.8 410.0,221.9 410.5,240.8 411.0,223.0 411.5,237.6 412.0,244.0 412.5,231.7 413.0,237.3 413.5,246.1 414.0,247.4 414.5,246.2 415.0,254.0 415.5,238.7 416.0,255.8 416.5,248.9 417.0,236.6 417.5,223.1 418.0,248.5 418.5,235.9 419.0,238.6 419.5,247.3 420.0,253.0 420.5,250.3 421.0,250.2 421.5,257.2 422.0,255.4 422.5,250.1 423.0,241.8 423.5,244.0 424.0,247.8 424.5,260.3 425.0,248.2 425.5,248.8 426.0,260.2 426.5,262.3 427.0,255.9 427.5,263.1 428.0,262.2 428.5,260.0 429.0,259.0 429.5,261.5 430.0,259.5 430.5,261.1 431.0,261.6 431.5,262.5 432.0,261.3 432.5,263.1 433.0,261.7 433.5,260.0 434.0,260.6 434.5,262.8 435.0,260.1 435.5,265.0 436.0,265.1 436.5,265.4 437.0,264.5 437.5,261.3 438.0,258.9 438.5,260.8 439.0,265.5 439.5,259.9 440.0,264.5 440.5,263.4 441.0,264.2 441.5,265.0 442.0,259.2 442.5,260.7 443.0,263.8 443.5,259.5 444.0,261.9 444.5,264.4 445.0,260.8 445.5,260.9 446.0,263.2 446.5,258.8 447.0,264.4 447.5,261.9 448.0,263.7 448.5,260.0 449.0,259.5 449.5,254.7 450.0,261.4 450.5,257.8 451.0,263.6 451.5,260.0 452.0,262.5 452.5,262.3 453.0,262.9 453.5,262.2 454.0,262.8 454.5,263.3 455.0,262.8 455.5,263.7 456.0,261.1 456.5,262.1 457.0,264.8 457.5,265.1 458.0,260.1 458.5,261.8 459.0,263.5 459.5,260.9 460.0,264.7 460.5,262.4 461.0,263.2 461.5,263.5 462.0,264.2 462.5,264.2 463.0,262.5 463.5,263.4 464.0,263.6 464.5,263.0 465.0,264.6 465.5,265.4 466.0,262.4 466.5,261.0 467.0,265.1 467.5,264.4 468.0,265.0 468.5,266.0 469.0,265.6 469.5,265.6 470.0,262.4 470.5,264.0 471.0,262.1 471.5,264.9 472.0,261.7 472.5,264.1 473.0,265.1 473.5,262.9 474.0,263.0 474.5,263.8 475.0,265.6 475.5,265.2 476.0,262.6 476.5,264.9 477.0,264.5 477.5,265.1 478.0,262.5 478.5,263.9 479.0,262.6 479.5,264.1 480.0,264.7 480.5,265.7 481.0,264.3 481.5,262.6 482.0,264.7 482.5,263.5 483.0,263.3 483.5,263.0 484.0,265.2 484.5,266.1 485.0,265.6 485.5,265.7 486.0,265.4 486.5,264.8 487.0,263.2 487.5,263.0 488.0,264.9 488.5,265.4 489.0,263.8 489.5,263.4 490.0,265.3 490.5,265.3 491.0,266.0 491.5,265.6 492.0,264.9 492.5,265.4 493.0,264.7 493.5,262.8 494.0,265.2 494.5,265.2"/>
<polyline fill="none" stroke="#000" stroke-width="1" stroke-linejoin="round" points="340.6,283.0 341.1,283.0 341.6,283.0 342.1,283.0 342.6,283.0 343.1,283.0 343.6,283.0 344.1,283.0 344.6,283.0 345.1,283.0 345.6,283.0 346.1,283.0 346.6,283.0 347.1,283.0 347.6,283.0 348.1,283.0 348.6,283.0 349.1,283.0 349.6,283.0 350.1,283.0 350.6,283.0 351.1,283.0 351.6,283.0 352.1,283.0 352.6,283.0 353.1,283.0 353.6,283.0 354.1,283.0 354.6,283.0 355.1,283.0 355.6,283.0 356.1,283.0 356.6,283.0 357.1,283.0 357.6,283.0 358.1,283.0 358.6,282.9 359.1,282.9 359.6,282.9 360.1,282.9 360.6,283.0 361.1,282.9 361.6,283.0 362.1,282.9 362.6,283.0 363.1,283.0 363.6,283.0 364.1,282.9 364.6,283.0 365.1,282.9 365.6,282.9 366.1,282.9 366.6,282.8 367.1,282.7 367.6,282.6 368.1,282.4 368.6,282.0 369.1,281.7 369.6,282.2 370.1,280.9 370.6,281.4 371.1,280.9 371.6,279.7 372.1,280.8 372.6,280.5 373.1,280.3 373.6,279.5 374.1,280.1 374.6,279.0 375.1,279.3 375.6,279.4 376.1,279.2 376.6,279.4 377.1,278.9 377.6,277.3 378.1,278.6 378.6,278.0 379.1,277.8 379.6,278.0 380.1,277.2 380.6,277.5 381.1,276.2 381.6,277.2 382.1,274.9 382.6,274.8 383.1,273.4 383.6,276.6 384.1,270.3 384.6,276.0 385.1,271.4 385.6,274.1 386.1,276.3 386.6,276.4 387.1,276.6 387.6,276.3 388.1,274.3 388.6,272.3 389.1,274.8 389.6,275.9 390.1,275.4 390.6,271.2 391.1,271.6 391.6,275.8 392.1,276.6 392.6,275.4 393.1,270.0 393.6,276.2 394.1,275.9 394.6,275.1 395.1,273.9 395.6,275.6 396.1,268.0 396.6,272.1 397.1,272.3 397.6,272.5 398.1,266.8 398.6,267.7 399.1,267.9 399.6,263.6 400.1,255.8 400.6,267.7 401.1,254.7 401.6,264.2 402.1,263.9 402.6,265.5 403.1,253.7 403.6,253.0 404.1,241.7 404.6,259.8 405.1,247.5 405.6,261.2 406.1,262.9 406.6,238.7 407.1,260.5 407.6,257.5 408.1,262.1 408.6,258.9 409.1,260.3 409.6,243.9 410.1,237.3 410.6,256.6 411.1,256.7 411.6,255.4 412.1,258.9 412.6,261.5 413.1,262.3 413.6,262.1 414.1,254.3 414.6,243.6 415.1,255.9 415.6,261.5 416.1,252.8 416.6,242.1 417.1,247.0 417.6,248.7 418.1,264.7 418.6,247.1 419.1,260.6 419.6,264.9 420.1,266.6 420.6,256.1 421.1,266.9 421.6,259.7 422.1,255.1 422.6,269.4 423.1,257.7 423.6,261.9 424.1,265.5 424.6,269.1 425.1,273.4 425.6,271.0 426.1,270.9 426.6,273.0 427.1,269.9 427.6,271.6 428.1,275.0 428.6,272.5 429.1,273.3 429.6,275.6 430.1,276.0 430.6,278.5 431.1,277.5 431.6,275.4 432.1,277.9 432.6,277.3 433.1,279.2 433.6,279.1 434.1,278.5 434.6,278.8 435.1,279.3 435.6,276.1 436.1,279.8 436.6,279.6 437.1,279.6 437.6,279.4 438.1,279.7 438.6,278.1 439.1,277.7 439.6,277.5 440.1,277.0 440.6,279.4 441.1,278.5 441.6,277.4 442.1,277.7 442.6,279.0 443.1,279.2 443.6,278.1 444.1,279.1 444.6,279.4 445.1,279.2 445.6,276.3 446.1,277.4 446.6,279.4 447.1,278.9 447.6,277.3 448.1,278.4 448.6,279.0 449.1,278.8 449.6,275.4 450.1,277.5 450.6,272.0 451.1,269.5 451.6,276.4 452.1,276.7 452.6,272.2 453.1,276.8 453.6,275.5 454.1,276.1 454.6,277.3 455.1,277.2 455.6,277.5 456.1,278.4 456.6,278.5 457.1,279.6 457.6,279.5 458.1,279.6 458.6,279.2 459.1,278.8 459.6,278.2 460.1,279.0 460.6,278.4 461.1,277.8 461.6,279.6 462.1,280.2 462.6,279.4 463.1,280.5 463.6,279.0 464.1,278.8 464.6,279.1 465.1,280.1 465.6,280.0 466.1,279.2 466.6,280.5 467.1,279.5 467.6,279.4 468.1,280.1 468.6,280.4 469.1,280.4 469.6,280.0 470.1,278.8 470.6,280.5 471.1,279.3 471.6,281.0 472.1,280.2 472.6,279.3 473.1,280.7 473.6,280.7 474.1,280.1 474.6,280.7 475.1,280.3 475.6,280.5 476.1,279.8 476.6,280.2 477.1,280.5 477.6,280.9 478.1,280.4 478.6,280.8 479.1,280.9 479.6,281.1 480.1,280.0 480.6,280.1 481.1,281.1 481.6,280.8 482.1,281.4 482.6,280.6 483.1,280.4 483.6,281.1 484.1,281.1 484.6,280.9 485.1,281.2 485.6,280.7 486.1,281.2 486.6,280.4 487.1,281.1 487.6,281.3 488.1,281.3 488.6,280.4 489.1,281.2 489.6,281.0 490.1,281.4 490.6,280.9 491.1,281.2 491.6,281.5 492.1,280.7 492.6,281.3 493.1,280.7 493.6,281.5 494.1,280.5 494.6,280.9"/>
<polyline fill="none" stroke="#000" stroke-width="1" stroke-linejoin="round" points="353.0,293.1 353.5,293.1 354.0,293.1 354.5,293.1 355.0,293.1 355.5,293.1 356.0,293.1 356.5,293.1 357.0,293.1 357.5,293.1 358.0,293.1 358.5,293.1 359.0,293.1 359.5,293.1 360.0,293.1 360.5,293.1 361.0,293.1 361.5,293.1 362.0,293.1 362.5,293.1 363.0,293.1 363.5,293.1 364.0,293.1 364.5,293.1 365.0,293.1 365.5,293.1 366.0,293.1 366.5,293.1 367.0,293.1 367.5,293.1 368.0,293.1 368.5,293.1 369.0,293.1 369.5,293.1 370.0,293.1 370.5,293.1 371.0,293.1 371.5,293.1 372.0,293.1 372.5,293.1 373.0,293.0 373.5,293.1 374.0,293.1 374.5,293.1 375.0,293.1 375.5,293.0 376.0,293.1 376.5,293.1 377.0,293.0 377.5,293.1 378.0,293.1 378.5,293.1 379.0,293.0 379.5,293.1 380.0,293.0 380.5,293.1 381.0,293.0 381.5,293.0 382.0,293.0 382.5,293.0 383.0,293.0 383.5,293.0 384.0,293.0 384.5,293.1 385.0,293.0 385.5,292.5 386.0,291.9 386.5,291.8 387.0,291.6 387.5,290.4 388.0,290.8 388.5,289.5 389.0,290.1 389.5,289.6 390.0,288.6 390.5,289.1 391.0,288.7 391.5,288.2 392.0,286.0 392.5,289.5 393.0,289.6 393.5,289.0 394.0,289.4 394.5,287.8 395.0,289.0 395.5,289.0 396.0,287.9 396.5,287.4 397.0,287.1 397.5,288.8 398.0,288.4 398.5,289.1 399.0,288.6 399.5,286.7 400.0,289.6 400.5,290.0 401.0,288.5 401.5,289.7 402.0,289.0 402.5,288.0 403.0,289.6 403.5,290.2 404.0,289.8 404.5,289.5 405.0,288.9 405.5,286.9 406.0,283.8 406.5,286.6 407.0,286.8 407.5,285.5 408.0,281.9 408.5,282.7 409.0,284.0 409.5,279.3 410.0,276.3 410.5,278.1 411.0,284.3 411.5,283.4 412.0,282.1 412.5,283.7 413.0,276.7 413.5,280.5 414.0,272.9 414.5,278.0 415.0,283.0 415.5,282.2 416.0,272.8 416.5,274.5 417.0,280.7 417.5,272.7 418.0,282.3 418.5,275.4 419.0,272.8 419.5,276.2 420.0,275.8 420.5,282.4 421.0,278.6 421.5,280.4 422.0,284.0 422.5,285.4 423.0,284.2 423.5,284.6 424.0,286.7 424.5,286.7 425.0,287.7 425.5,284.1 426.0,288.6 426.5,287.0 427.0,287.3 427.5,289.4 428.0,288.3 428.5,289.9 429.0,288.6 429.5,289.0 430.0,288.7 430.5,289.4 431.0,290.5 431.5,289.8 432.0,289.1 432.5,288.9 433.0,290.9 433.5,290.0 434.0,290.2 434.5,289.3 435.0,290.0 435.5,290.8 436.0,291.0 436.5,289.5 437.0,290.7 437.5,290.4 438.0,290.5 438.5,290.5 439.0,289.2 439.5,290.9 440.0,290.5 440.5,291.1 441.0,289.9 441.5,289.6 442.0,290.6 442.5,290.8 443.0,290.4 443.5,290.0 444.0,289.3 444.5,290.8 445.0,290.9 445.5,289.8 446.0,290.5 446.5,289.0 447.0,289.5 447.5,289.8 448.0,290.2 448.5,289.0 449.0,290.2 449.5,290.6 450.0,289.2 450.5,290.0 451.0,290.5 451.5,288.7 452.0,286.0 452.5,288.1 453.0,281.3 453.5,287.0 454.0,288.0 454.5,285.0 455.0,285.2 455.5,289.0 456.0,289.5 456.5,288.5 457.0,288.8 457.5,289.2 458.0,289.0 458.5,290.1 459.0,291.0 459.5,290.7 460.0,291.2 460.5,290.5 461.0,291.2 461.5,291.4 462.0,290.0 462.5,290.7 463.0,290.8 463.5,289.7 464.0,289.8 464.5,291.0 465.0,291.0 465.5,289.8 466.0,291.6 466.5,290.1 467.0,290.5 467.5,289.5 468.0,290.0 468.5,290.3 469.0,291.4 469.5,291.2 470.0,291.4 470.5,291.5 471.0,290.9 471.5,291.7 472.0,291.2 472.5,291.3 473.0,290.4 473.5,291.4 474.0,291.4 474.5,291.5 475.0,291.0 475.5,290.9 476.0,290.1 476.5,290.3 477.0,291.5 477.5,290.7 478.0,291.0 478.5,291.8 479.0,291.1 479.5,291.2 480.0,290.5 480.5,291.3 481.0,290.9 481.5,291.2 482.0,290.7 482.5,291.0 483.0,291.9 483.5,291.0 484.0,291.6 484.5,291.4 485.0,292.0 485.5,290.9 486.0,291.8 486.5,291.0 487.0,291.2 487.5,291.1 488.0,291.8 488.5,291.6 489.0,292.1 489.5,291.5 490.0,291.7 490.5,292.0 491.0,291.7 491.5,290.9 492.0,291.9 492.5,290.7 493.0,291.0 493.5,291.0 494.0,291.2 494.5,291.3"/>
<polyline fill="none" stroke="#000" stroke-width="1" stroke-linejoin="round" points="354.4,322.5 354.9,322.5 355.4,322.5 355.9,322.5 356.4,322.5 356.9,322.5 357.4,322.5 357.9,322.5 358.4,322.5 358.9,322.5 359.4,322.5 359.9,322.5 360.4,322.5 360.9,322.5 361.4,322.5 361.9,322.5 362.4,322.5 362.9,322.5 363.4,322.5 363.9,322.5 364.4,322.5 364.9,322.5 365.4,322.5 365.9,322.5 366.4,322.5 366.9,322.5 367.4,322.5 367.9,322.5 368.4,322.5 368.9,322.4 369.4,322.5 369.9,322.5 370.4,322.4 370.9,322.4 371.4,322.5 371.9,322.4 372.4,322.5 372.9,322.5 373.4,322.5 373.9,322.4 374.4,322.4 374.9,322.4 375.4,322.5 375.9,322.5 376.4,322.4 376.9,322.5 377.4,322.5 377.9,322.5 378.4,322.5 378.9,322.4 379.4,322.4 379.9,322.5 380.4,322.2 380.9,321.5 381.4,321.9 381.9,320.8 382.4,320.2 382.9,321.3 383.4,318.9 383.9,320.5 384.4,319.8 384.9,316.9 385.4,317.3 385.9,320.6 386.4,313.8 386.9,317.0 387.4,310.6 387.9,319.6 388.4,295.5 388.9,311.2 389.4,312.5 389.9,319.8 390.4,316.8 390.9,316.4 391.4,298.5 391.9,313.2 392.4,309.3 392.9,308.2 393.4,319.7 393.9,316.9 394.4,315.0 394.9,294.5 395.4,317.0 395.9,313.0 396.4,317.4 396.9,312.5 397.4,319.9 397.9,309.5 398.4,300.5 398.9,313.9 399.4,308.9 399.9,319.3 400.4,310.9 400.9,314.4 401.4,294.5 401.9,319.8 402.4,319.2 402.9,312.0 403.4,315.1 403.9,312.6 404.4,318.4 404.9,315.1 405.4,314.4 405.9,318.5 406.4,307.7 406.9,302.1 407.4,304.9 407.9,313.1 408.4,311.3 408.9,315.2 409.4,293.6 409.9,313.6 410.4,310.2 410.9,283.3 411.4,294.7 411.9,307.6 412.4,274.6 412.9,298.8 413.4,272.7 413.9,290.5 414.4,295.0 414.9,295.3 415.4,297.0 415.9,267.0 416.4,305.0 416.9,312.8 417.4,268.0 417.9,281.9 418.4,286.0 418.9,312.6 419.4,294.6 419.9,298.6 420.4,298.2 420.9,278.9 421.4,266.7 421.9,294.8 422.4,290.5 422.9,307.7 423.4,280.4 423.9,286.5 424.4,286.5 424.9,277.8 425.4,310.2 425.9,279.4 426.4,281.6 426.9,309.0 427.4,283.7 427.9,296.7 428.4,314.0 428.9,290.3 429.4,301.1 429.9,312.4 430.4,305.3 430.9,312.9 431.4,314.4 431.9,306.8 432.4,316.7 432.9,307.1 433.4,313.3 433.9,319.6 434.4,314.1 434.9,314.6 435.4,314.0 435.9,319.0 436.4,318.9 436.9,319.6 437.4,313.0 437.9,319.7 438.4,314.9 438.9,316.4 439.4,314.1 439.9,315.0 440.4,314.4 440.9,314.7 441.4,318.6 441.9,317.0 442.4,316.6 442.9,318.4 443.4,313.0 443.9,320.4 444.4,313.3 444.9,316.2 445.4,320.2 445.9,318.3 446.4,316.8 446.9,318.5 447.4,315.2 447.9,320.1 448.4,315.5 448.9,320.4 449.4,313.8 449.9,314.3 450.4,318.3 450.9,317.3 451.4,318.2 451.9,316.8 452.4,319.2 452.9,316.2 453.4,314.2 453.9,315.5 454.4,318.7 454.9,316.4 455.4,314.8 455.9,319.6 456.4,316.4 456.9,320.9 457.4,320.1 457.9,319.8 458.4,315.4 458.9,316.0 459.4,317.8 459.9,314.1 460.4,312.1 460.9,318.3 461.4,307.0 461.9,316.8 462.4,319.2 462.9,316.6 463.4,316.0 463.9,319.5 464.4,314.8 464.9,311.4 465.4,318.8 465.9,319.3 466.4,315.0 466.9,317.4 467.4,318.0 467.9,316.9 468.4,320.5 468.9,316.9 469.4,317.5 469.9,316.9 470.4,319.7 470.9,319.7 471.4,320.4 471.9,320.6 472.4,320.7 472.9,320.0 473.4,317.3 473.9,319.3 474.4,321.0 474.9,318.1 475.4,320.5 475.9,316.1 476.4,320.1 476.9,318.1 477.4,318.7 477.9,318.2 478.4,316.7 478.9,321.3 479.4,320.4 479.9,319.8 480.4,319.0 480.9,321.4 481.4,320.0 481.9,319.5 482.4,319.5 482.9,317.2 483.4,320.0 483.9,317.9 484.4,319.1 484.9,321.0 485.4,321.1 485.9,321.5 486.4,319.3 486.9,318.4 487.4,321.2 487.9,318.3 488.4,321.0 488.9,319.0 489.4,318.0 489.9,318.5 490.4,317.5 490.9,318.3 491.4,319.6 491.9,317.7 492.4,318.5 492.9,321.5 493.4,318.2 493.9,320.0 494.4,320.3"/>
<polyline fill="none" stroke="#000" stroke-width="1" stroke-linejoin="round" points="351.5,326.3 352.0,326.3 352.5,326.3 353.0,326.3 353.5,326.3 354.0,326.3 354.5,326.3 355.0,326.3 355.5,326.3 356.0,326.3 356.5,326.3 357.0,326.3 357.5,326.3 358.0,326.3 358.5,326.3 359.0,326.3 359.5,326.3 360.0,326.3 360.5,326.3 361.0,326.3 361.5,326.3 362.0,326.3 362.5,326.3 363.0,326.3 363.5,326.3 364.0,326.3 364.5,326.3 365.0,326.3 365.5,326.3 366.0,326.3 366.5,326.3 367.0,326.2 367.5,326.3 368.0,326.3 368.5,326.2 369.0,326.2 369.5,326.2 370.0,326.3 370.5,326.3 371.0,326.3 371.5,326.3 372.0,326.3 372.5,326.3 373.0,326.2 373.5,326.2 374.0,326.3 374.5,326.2 375.0,326.2 375.5,326.2 376.0,326.2 376.5,326.2 377.0,326.2 377.5,326.2 378.0,326.2 378.5,326.2 379.0,326.2 379.5,326.2 380.0,326.2 380.5,326.0 381.0,325.8 381.5,325.6 382.0,324.9 382.5,324.9 383.0,325.4 383.5,325.2 384.0,324.8 384.5,324.1 385.0,323.7 385.5,324.0 386.0,323.9 386.5,324.5 387.0,323.3 387.5,324.1 388.0,323.8 388.5,323.2 389.0,323.6 389.5,323.9 390.0,322.5 390.5,323.4 391.0,323.6 391.5,323.8 392.0,323.0 392.5,323.2 393.0,322.0 393.5,323.6 394.0,322.3 394.5,322.1 395.0,323.4 395.5,323.4 396.0,323.6 396.5,321.4 397.0,322.8 397.5,322.8 398.0,322.7 398.5,323.2 399.0,322.1 399.5,323.0 400.0,321.6 400.5,323.2 401.0,322.8 401.5,322.5 402.0,322.7 402.5,321.2 403.0,322.5 403.5,321.6 404.0,320.2 404.5,321.3 405.0,319.1 405.5,321.8 406.0,319.3 406.5,320.2 407.0,319.4 407.5,320.5 408.0,319.1 408.5,321.1 409.0,320.6 409.5,318.6 410.0,321.3 410.5,317.3 411.0,316.7 411.5,317.4 412.0,320.7 412.5,318.7 413.0,317.3 413.5,320.7 414.0,320.9 414.5,321.1 415.0,320.5 415.5,317.9 416.0,319.7 416.5,320.3 417.0,320.1 417.5,320.2 418.0,318.2 418.5,320.7 419.0,320.2 419.5,319.5 420.0,318.9 420.5,318.2 421.0,320.4 421.5,320.2 422.0,320.0 422.5,321.3 423.0,321.3 423.5,318.8 424.0,318.7 424.5,318.7 425.0,319.4 425.5,320.8 426.0,319.2 426.5,320.4 427.0,320.0 427.5,321.4 428.0,322.3 428.5,321.9 429.0,322.8 429.5,322.5 430.0,322.7 430.5,321.5 431.0,322.2 431.5,322.5 432.0,322.5 432.5,322.9 433.0,321.6 433.5,322.9 434.0,321.1 434.5,323.6 435.0,321.9 435.5,321.7 436.0,322.3 436.5,321.7 437.0,323.8 437.5,323.6 438.0,321.5 438.5,322.0 439.0,322.4 439.5,322.0 440.0,322.2 440.5,323.7 441.0,323.5 441.5,322.8 442.0,323.4 442.5,323.9 443.0,323.9 443.5,323.4 444.0,323.7 444.5,323.2 445.0,323.8 445.5,323.5 446.0,323.5 446.5,322.8 447.0,323.0 447.5,323.7 448.0,323.0 448.5,322.1 449.0,322.7 449.5,321.9 450.0,323.2 450.5,323.3 451.0,321.9 451.5,323.3 452.0,322.7 452.5,323.6 453.0,323.6 453.5,323.5 454.0,323.6 454.5,323.2 455.0,323.0 455.5,324.2 456.0,323.8 456.5,322.2 457.0,323.6 457.5,323.7 458.0,322.9 458.5,323.7 459.0,323.5 459.5,322.2 460.0,323.6 460.5,323.6 461.0,323.4 461.5,322.5 462.0,322.9 462.5,320.6 463.0,321.8 463.5,320.3 464.0,319.5 464.5,322.4 465.0,323.1 465.5,322.9 466.0,323.2 466.5,323.9 467.0,323.5 467.5,323.7 468.0,323.0 468.5,322.3 469.0,323.9 469.5,323.4 470.0,323.6 470.5,323.3 471.0,322.4 471.5,322.9 472.0,323.5 472.5,323.6 473.0,323.3 473.5,323.2 474.0,324.2 474.5,323.8 475.0,323.5 475.5,324.1 476.0,324.3 476.5,322.6 477.0,323.3 477.5,323.0 478.0,323.8 478.5,323.6 479.0,324.5 479.5,323.9 480.0,324.6 480.5,324.2 481.0,324.2 481.5,323.6 482.0,323.9 482.5,323.9 483.0,324.5 483.5,323.9 484.0,324.5 484.5,324.4 485.0,324.1 485.5,323.8 486.0,323.7 486.5,324.4 487.0,324.5 487.5,324.5 488.0,324.4 488.5,323.8 489.0,324.2 489.5,324.2 490.0,323.9 490.5,324.7 491.0,324.3 491.5,323.8 492.0,324.2 492.5,324.7 493.0,324.4 493.5,324.1 494.0,324.7 494.5,324.1"/>
<polyline fill="none" stroke="#000" stroke-width="1" stroke-linejoin="round" points="347.0,236.2 347.5,236.2 348.0,236.2 348.5,236.2 349.0,236.2 349.5,236.2 350.0,236.2 350.5,236.2 351.0,236.2 351.5,236.2 352.0,236.2 352.5,236.2 353.0,236.2 353.5,236.2 354.0,236.2 354.5,236.2 355.0,236.2 355.5,236.2 356.0,236.2 356.5,236.2 357.0,236.2 357.5,236.2 358.0,236.2 358.5,236.2 359.0,236.2 359.5,236.2 360.0,236.2 360.5,236.2 361.0,236.2 361.5,236.2 362.0,236.2 362.5,236.1 363.0,236.2 363.5,236.2 364.0,236.2 364.5,236.2 365.0,236.2 365.5,236.2 366.0,236.1 366.5,236.2 367.0,236.1 367.5,236.2 368.0,236.1 368.5,236.1 369.0,236.1 369.5,236.1 370.0,236.2 370.5,236.1 371.0,236.2 371.5,236.2 372.0,236.1 372.5,236.2 373.0,236.1 373.5,236.1 374.0,236.2 374.5,236.2 375.0,236.2 375.5,235.8 376.0,235.8 376.5,235.5 377.0,234.2 377.5,234.8 378.0,234.2 378.5,233.5 379.0,233.0 379.5,234.2 380.0,229.0 380.5,230.7 381.0,233.8 381.5,227.0 382.0,231.0 382.5,222.2 383.0,223.5 383.5,221.9 384.0,227.0 384.5,228.2 385.0,230.4 385.5,231.7 386.0,222.3 386.5,227.0 387.0,232.2 387.5,229.6 388.0,231.1 388.5,228.3 389.0,216.8 389.5,226.3 390.0,216.7 390.5,221.0 391.0,229.0 391.5,217.5 392.0,221.4 392.5,221.0 393.0,226.4 393.5,226.5 394.0,230.1 394.5,208.1 395.0,217.3 395.5,208.4 396.0,224.8 396.5,201.6 397.0,226.8 397.5,227.2 398.0,217.3 398.5,200.9 399.0,225.6 399.5,220.3 400.0,223.3 400.5,224.0 401.0,205.6 401.5,226.5 402.0,197.5 402.5,201.4 403.0,214.4 403.5,201.7 404.0,203.6 404.5,204.0 405.0,226.1 405.5,218.5 406.0,219.1 406.5,209.0 407.0,224.5 407.5,210.5 408.0,189.0 408.5,201.8 409.0,208.2 409.5,195.5 410.0,216.1 410.5,186.7 411.0,225.0 411.5,195.8 412.0,212.5 412.5,225.7 413.0,213.0 413.5,215.2 414.0,221.2 414.5,213.8 415.0,201.9 415.5,201.3 416.0,220.8 416.5,212.1 417.0,192.0 417.5,213.5 418.0,204.3 418.5,202.6 419.0,204.2 419.5,200.8 420.0,208.9 420.5,201.1 421.0,213.2 421.5,202.1 422.0,229.4 422.5,224.5 423.0,228.2 423.5,229.7 424.0,211.3 424.5,224.3 425.0,213.8 425.5,229.6 426.0,222.9 426.5,229.4 427.0,229.7 427.5,223.1 428.0,226.6 428.5,228.1 429.0,230.3 429.5,230.2 430.0,229.2 430.5,233.1 431.0,232.9 431.5,227.8 432.0,229.1 432.5,230.8 433.0,232.3 433.5,231.3 434.0,234.0 434.5,232.4 435.0,233.5 435.5,230.4 436.0,234.1 436.5,230.0 437.0,234.3 437.5,231.7 438.0,232.4 438.5,222.7 439.0,225.9 439.5,229.4 440.0,225.7 440.5,227.9 441.0,233.3 441.5,229.5 442.0,230.7 442.5,232.2 443.0,232.2 443.5,229.7 444.0,234.1 444.5,231.1 445.0,233.6 445.5,234.3 446.0,231.4 446.5,230.7 447.0,233.6 447.5,231.6 448.0,230.3 448.5,232.1 449.0,229.9 449.5,234.4 450.0,231.9 450.5,233.8 451.0,232.6 451.5,230.0 452.0,229.9 452.5,233.7 453.0,230.2 453.5,229.9 454.0,232.9 454.5,230.0 455.0,234.7 455.5,232.1 456.0,231.4 456.5,234.0 457.0,232.5 457.5,233.9 458.0,232.6 458.5,231.6 459.0,234.0 459.5,233.8 460.0,232.8 460.5,234.1 461.0,234.9 461.5,233.3 462.0,232.8 462.5,234.4 463.0,233.0 463.5,233.6 464.0,234.4 464.5,232.7 465.0,232.4 465.5,234.4 466.0,234.0 466.5,234.4 467.0,234.1 467.5,232.3 468.0,232.4 468.5,232.5 469.0,234.2 469.5,234.9 470.0,233.5 470.5,232.2 471.0,234.5 471.5,232.8 472.0,235.1 472.5,232.9 473.0,234.2 473.5,233.6 474.0,233.2 474.5,233.4 475.0,234.6 475.5,232.9 476.0,234.6 476.5,233.2 477.0,234.6 477.5,234.8 478.0,234.7 478.5,234.9 479.0,234.9 479.5,233.8 480.0,233.9 480.5,234.0 481.0,235.2 481.5,235.1 482.0,234.8 482.5,233.2 483.0,235.1 483.5,234.2 484.0,234.1 484.5,234.6 485.0,234.2 485.5,234.6 486.0,234.1 486.5,234.6 487.0,234.1 487.5,234.2 488.0,235.0 488.5,234.6 489.0,234.8 489.5,234.0 490.0,235.1 490.5,235.5 491.0,235.1 491.5,234.0 492.0,235.2 492.5,235.3 493.0,234.3 493.5,234.2 494.0,235.5 494.5,234.8"/>
<polyline fill="none" stroke="#000" stroke-width="1" stroke-linejoin="round" points="346.5,265.8 347.0,265.8 347.5,265.8 348.0,265.8 348.5,265.8 349.0,265.8 349.5,265.8 350.0,265.8 350.5,265.8 351.0,265.8 351.5,265.8 352.0,265.8 352.5,265.8 353.0,265.8 353.5,265.8 354.0,265.8 354.5,265.8 355.0,265.8 355.5,265.8 356.0,265.8 356.5,265.8 357.0,265.8 357.5,265.8 358.0,265.8 358.5,265.8 359.0,265.8 359.5,265.8 360.0,265.8 360.5,265.8 361.0,265.8 361.5,265.8 362.0,265.7 362.5,265.8 363.0,265.7 363.5,265.7 364.0,265.8 364.5,265.8 365.0,265.7 365.5,265.8 366.0,265.8 366.5,265.8 367.0,265.8 367.5,265.8 368.0,265.7 368.5,265.8 369.0,265.8 369.5,265.8 370.0,265.7 370.5,265.7 371.0,265.8 371.5,265.8 372.0,265.7 372.5,265.6 373.0,265.3 373.5,265.0 374.0,265.0 374.5,264.9 375.0,264.4 375.5,263.5 376.0,264.4 376.5,261.9 377.0,262.5 377.5,263.1 378.0,263.6 378.5,260.4 379.0,259.2 379.5,258.2 380.0,259.9 380.5,253.6 381.0,253.7 381.5,257.4 382.0,249.4 382.5,256.9 383.0,254.0 383.5,250.5 384.0,253.0 384.5,261.4 385.0,243.8 385.5,259.8 386.0,256.4 386.5,260.9 387.0,257.8 387.5,259.6 388.0,248.5 388.5,258.7 389.0,255.4 389.5,256.9 390.0,245.0 390.5,260.8 391.0,246.4 391.5,258.6 392.0,255.2 392.5,247.3 393.0,256.9 393.5,256.2 394.0,245.8 394.5,237.5 395.0,258.3 395.5,244.9 396.0,247.7 396.5,236.2 397.0,238.6 397.5,227.9 398.0,239.6 398.5,245.4 399.0,222.1 399.5,242.6 400.0,249.9 400.5,215.8 401.0,242.4 401.5,235.6 402.0,245.9 402.5,216.7 403.0,224.2 403.5,207.4 404.0,238.7 404.5,219.3 405.0,225.2 405.5,249.0 406.0,239.6 406.5,231.9 407.0,248.8 407.5,211.0 408.0,231.0 408.5,252.0 409.0,221.4 409.5,213.0 410.0,251.4 410.5,231.4 411.0,206.4 411.5,224.4 412.0,240.0 412.5,203.7 413.0,206.7 413.5,223.4 414.0,243.4 414.5,251.2 415.0,243.0 415.5,242.2 416.0,235.9 416.5,248.1 417.0,237.7 417.5,215.4 418.0,231.1 418.5,208.2 419.0,252.9 419.5,236.2 420.0,252.1 420.5,246.7 421.0,254.4 421.5,226.7 422.0,242.3 422.5,243.8 423.0,250.6 423.5,233.6 424.0,250.3 424.5,259.4 425.0,246.1 425.5,256.4 426.0,261.4 426.5,260.1 427.0,250.9 427.5,256.5 428.0,255.2 428.5,251.1 429.0,260.5 429.5,256.1 430.0,260.9 430.5,259.1 431.0,260.2 431.5,258.9 432.0,261.6 432.5,257.4 433.0,259.8 433.5,259.6 434.0,262.3 434.5,261.5 435.0,261.3 435.5,260.4 436.0,261.9 436.5,259.6 437.0,260.5 437.5,259.4 438.0,259.9 438.5,263.2 439.0,262.0 439.5,263.1 440.0,261.5 440.5,263.0 441.0,261.4 441.5,263.6 442.0,261.6 442.5,263.6 443.0,262.8 443.5,261.5 444.0,260.9 444.5,262.9 445.0,264.0 445.5,263.4 446.0,260.7 446.5,259.8 447.0,260.6 447.5,261.7 448.0,260.4 448.5,260.2 449.0,252.8 449.5,252.1 450.0,252.8 450.5,258.4 451.0,253.1 451.5,259.8 452.0,262.7 452.5,256.0 453.0,261.6 453.5,257.6 454.0,261.9 454.5,263.2 455.0,261.9 455.5,261.6 456.0,264.1 456.5,262.6 457.0,259.1 457.5,262.5 458.0,259.9 458.5,263.7 459.0,263.4 459.5,262.6 460.0,259.1 460.5,258.8 461.0,263.7 461.5,259.8 462.0,259.4 462.5,264.3 463.0,262.7 463.5,260.2 464.0,263.1 464.5,263.5 465.0,262.9 465.5,261.5 466.0,260.0 466.5,262.5 467.0,263.2 467.5,264.1 468.0,263.4 468.5,262.9 469.0,263.7 469.5,263.4 470.0,260.4 470.5,264.0 471.0,263.3 471.5,260.4 472.0,264.3 472.5,262.4 473.0,262.8 473.5,264.2 474.0,261.6 474.5,262.8 475.0,262.9 475.5,262.8 476.0,263.8 476.5,264.4 477.0,262.8 477.5,262.6 478.0,264.1 478.5,262.3 479.0,262.0 479.5,262.9 480.0,263.5 480.5,263.7 481.0,263.1 481.5,264.6 482.0,262.8 482.5,263.6 483.0,262.2 483.5,263.7 484.0,261.3 484.5,263.9 485.0,263.9 485.5,263.7 486.0,261.2 486.5,264.3 487.0,261.0 487.5,263.3 488.0,262.0 488.5,262.9 489.0,262.3 489.5,263.8 490.0,263.5 490.5,263.3 491.0,262.5 491.5,263.8 492.0,263.2 492.5,261.4 493.0,263.0 493.5,262.9 494.0,263.0 494.5,263.8"/>
<polyline fill="none" stroke="#000" stroke-width="1" stroke-linejoin="round" points="342.0,283.6 342.5,283.6 343.0,283.6 343.5,283.6 344.0,283.6 344.5,283.6 345.0,283.6 345.5,283.6 346.0,283.6 346.5,283.6 347.0,283.6 347.5,283.6 348.0,283.6 348.5,283.6 349.0,283.6 349.5,283.6 350.0,283.6 350.5,283.6 351.0,283.6 351.5,283.6 352.0,283.6 352.5,283.6 353.0,283.6 353.5,283.6 354.0,283.6 354.5,283.6 355.0,283.6 355.5,283.6 356.0,283.6 356.5,283.6 357.0,283.6 357.5,283.6 358.0,283.6 358.5,283.6 359.0,283.6 359.5,283.6 360.0,283.6 360.5,283.6 361.0,283.6 361.5,283.6 362.0,283.5 362.5,283.6 363.0,283.6 363.5,283.6 364.0,283.6 364.5,283.6 365.0,283.5 365.5,283.5 366.0,283.6 366.5,283.6 367.0,283.6 367.5,283.5 368.0,283.2 368.5,283.4 369.0,282.8 369.5,282.8 370.0,282.6 370.5,282.1 371.0,282.4 371.5,282.8 372.0,282.5 372.5,280.9 373.0,280.2 373.5,280.8 374.0,280.2 374.5,278.9 375.0,282.1 375.5,280.8 376.0,277.5 376.5,281.7 377.0,279.9 377.5,279.2 378.0,280.9 378.5,276.3 379.0,279.8 379.5,276.0 380.0,277.2 380.5,276.6 381.0,277.2 381.5,279.7 382.0,275.2 382.5,277.0 383.0,280.5 383.5,278.8 384.0,273.5 384.5,272.2 385.0,276.4 385.5,279.4 386.0,277.4 386.5,275.1 387.0,278.1 387.5,279.9 388.0,279.6 388.5,280.0 389.0,278.1 389.5,274.9 390.0,275.0 390.5,276.5 391.0,278.7 391.5,280.1 392.0,272.3 392.5,273.0 393.0,275.2 393.5,278.2 394.0,277.8 394.5,277.6 395.0,276.2 395.5,275.5 396.0,278.2 396.5,279.3 397.0,276.4 397.5,272.2 398.0,271.9 398.5,268.4 399.0,259.6 399.5,258.3 400.0,252.2 400.5,276.0 401.0,271.4 401.5,273.5 402.0,274.2 402.5,265.9 403.0,268.7 403.5,244.5 404.0,271.2 404.5,244.0 405.0,274.2 405.5,271.7 406.0,261.2 406.5,256.9 407.0,245.8 407.5,255.8 408.0,271.6 408.5,243.1 409.0,261.6 409.5,253.6 410.0,242.7 410.5,264.0 411.0,248.0 411.5,265.7 412.0,236.7 412.5,271.6 413.0,247.1 413.5,273.5 414.0,249.7 414.5,258.2 415.0,263.3 415.5,266.3 416.0,245.7 416.5,263.5 417.0,266.9 417.5,263.3 418.0,249.0 418.5,243.7 419.0,258.4 419.5,259.2 420.0,245.9 420.5,266.7 421.0,253.4 421.5,269.2 422.0,276.6 422.5,253.2 423.0,262.8 423.5,274.3 424.0,268.2 424.5,269.2 425.0,271.4 425.5,278.7 426.0,278.2 426.5,276.7 427.0,270.9 427.5,275.3 428.0,277.5 428.5,279.2 429.0,277.6 429.5,275.0 430.0,273.6 430.5,275.3 431.0,274.7 431.5,276.4 432.0,277.4 432.5,274.7 433.0,280.9 433.5,281.6 434.0,276.7 434.5,275.7 435.0,279.4 435.5,278.7 436.0,278.5 436.5,281.1 437.0,278.4 437.5,277.7 438.0,281.4 438.5,278.8 439.0,276.7 439.5,277.4 440.0,279.1 440.5,277.6 441.0,281.2 441.5,280.4 442.0,279.3 442.5,279.9 443.0,281.8 443.5,278.5 444.0,277.8 444.5,277.6 445.0,281.7 445.5,278.9 446.0,279.2 446.5,279.4 447.0,279.4 447.5,278.6 448.0,277.1 448.5,280.6 449.0,276.8 449.5,275.4 450.0,281.2 450.5,279.5 451.0,276.9 451.5,271.6 452.0,279.3 452.5,273.0 453.0,280.3 453.5,280.3 454.0,277.3 454.5,276.3 455.0,281.1 455.5,278.4 456.0,280.4 456.5,277.3 457.0,278.5 457.5,278.4 458.0,281.8 458.5,280.0 459.0,280.5 459.5,280.6 460.0,281.4 460.5,278.1 461.0,278.2 461.5,279.7 462.0,279.1 462.5,279.6 463.0,278.2 463.5,278.8 464.0,281.4 464.5,280.3 465.0,280.1 465.5,280.0 466.0,281.1 466.5,280.6 467.0,281.8 467.5,282.5 468.0,282.0 468.5,281.2 469.0,279.1 469.5,280.2 470.0,282.1 470.5,280.9 471.0,279.3 471.5,279.9 472.0,282.2 472.5,280.7 473.0,279.3 473.5,280.3 474.0,279.7 474.5,280.4 475.0,280.7 475.5,281.2 476.0,280.5 476.5,281.9 477.0,280.8 477.5,282.8 478.0,282.5 478.5,280.4 479.0,282.3 479.5,281.9 480.0,280.9 480.5,280.8 481.0,280.4 481.5,280.3 482.0,282.2 482.5,280.7 483.0,280.8 483.5,280.7 484.0,281.6 484.5,281.6 485.0,280.3 485.5,282.1 486.0,280.6 486.5,282.8 487.0,280.7 487.5,282.2 488.0,281.4 488.5,281.2 489.0,282.0 489.5,281.6 490.0,281.4 490.5,282.6 491.0,282.8 491.5,280.5 492.0,282.3 492.5,282.7 493.0,281.8 493.5,282.8 494.0,282.8 494.5,281.4"/>
<g font-family="'Liberation Sans',sans-serif" font-size="4.8" fill="#161616">
<text x="498.5" y="105.2">OIT009</text>
<text x="498.5" y="130.5">OITH11</text>
<text x="498.5" y="138.3">OIT006</text>
<text x="498.5" y="149.0">OITH05</text>
<text x="498.5" y="167.3">OIT005</text>
<text x="498.5" y="172.2">OIT003</text>
<text x="498.5" y="175.2">OITH01</text>
<text x="498.5" y="222.2">OIT017</text>
<text x="498.5" y="237.4">OIT008</text>
<text x="498.5" y="238.1">OIT010</text>
<text x="498.5" y="267.4">FKO005</text>
<text x="498.5" y="268.2">FKO003</text>
<text x="498.5" y="284.2">FKOH03</text>
<text x="498.5" y="294.4">FKO002</text>
<text x="498.5" y="323.2">FKOH09</text>
<text x="498.5" y="327.6">FKO001</text>
</g>
<g fill="#ee1150">
<circle cx="408.6" cy="103.8" r="1.25"/>
<circle cx="414.0" cy="129.1" r="1.25"/>
<circle cx="415.8" cy="136.9" r="1.25"/>
<circle cx="418.4" cy="147.6" r="1.25"/>
<circle cx="423.6" cy="166.6" r="1.25"/>
<circle cx="424.5" cy="172.2" r="1.25"/>
<circle cx="425.6" cy="175.3" r="1.25"/>
<circle cx="437.4" cy="221.0" r="1.25"/>
<circle cx="441.5" cy="237.0" r="1.25"/>
<circle cx="449.3" cy="267.2" r="1.25"/>
<circle cx="452.4" cy="283.0" r="1.25"/>
<circle cx="455.3" cy="293.3" r="1.25"/>
<circle cx="463.4" cy="324.8" r="1.25"/>
</g>
<text x="386.3" y="339.2" font-family="'Liberation Serif',serif" font-weight="bold" font-style="italic" font-size="12.8" fill="#111" textLength="106" lengthAdjust="spacingAndGlyphs">Envelope waveforms</text>
<rect x="575.5" y="26.8" width="188.2" height="240.2" fill="#fff" stroke="#333" stroke-width="0.5"/>
<rect x="580.2" y="31.4" width="180.1" height="231.8" fill="#b8b8b8" stroke="#333" stroke-width="0.5"/>
<rect x="625.0" y="26.8" width="44.6" height="4.6" fill="#000"/>
<rect x="625.0" y="263.2" width="44.6" height="3.8" fill="#000"/>
<rect x="713.6" y="26.8" width="46.7" height="4.6" fill="#000"/>
<rect x="713.6" y="263.2" width="46.7" height="3.8" fill="#000"/>
<rect x="575.5" y="49.4" width="4.7" height="53.6" fill="#000"/>
<rect x="760.3" y="49.4" width="3.4" height="53.6" fill="#000"/>
<rect x="575.5" y="156.5" width="4.7" height="53.5" fill="#000"/>
<rect x="760.3" y="156.5" width="3.4" height="53.5" fill="#000"/>
<rect x="592.2" y="55.8" width="145.6" height="173.4" fill="#0828fc"/>
<rect x="670.60" y="55.80" width="11.30" height="13.44" fill="#0418c8"/>
<rect x="681.80" y="55.80" width="11.30" height="13.44" fill="#00089a"/>
<rect x="693.00" y="55.80" width="11.30" height="13.44" fill="#1464ff"/>
<rect x="704.20" y="55.80" width="11.30" height="13.44" fill="#0838f0"/>
<rect x="659.40" y="69.14" width="11.30" height="13.44" fill="#0620cc"/>
<rect x="670.60" y="69.14" width="11.30" height="13.44" fill="#40f0c0"/>
<rect x="681.80" y="69.14" width="11.30" height="13.44" fill="#0418c0"/>
<rect x="693.00" y="69.14" width="11.30" height="13.44" fill="#0848f0"/>
<rect x="726.60" y="69.14" width="11.30" height="13.44" fill="#0210a0"/>
<rect x="648.20" y="82.48" width="11.30" height="13.44" fill="#20a0ff"/>
<rect x="659.40" y="82.48" width="11.30" height="13.44" fill="#28b0ff"/>
<rect x="670.60" y="82.48" width="11.30" height="13.44" fill="#20a8ff"/>
<rect x="681.80" y="82.48" width="11.30" height="13.44" fill="#1070ff"/>
<rect x="693.00" y="82.48" width="11.30" height="13.44" fill="#0848ff"/>
<rect x="704.20" y="82.48" width="11.30" height="13.44" fill="#0628e0"/>
<rect x="715.40" y="82.48" width="11.30" height="13.44" fill="#1068ff"/>
<rect x="637.00" y="95.82" width="11.30" height="13.44" fill="#0420c0"/>
<rect x="648.20" y="95.82" width="11.30" height="13.44" fill="#0850ff"/>
<rect x="659.40" y="95.82" width="11.30" height="13.44" fill="#1070ff"/>
<rect x="670.60" y="95.82" width="11.30" height="13.44" fill="#0838e0"/>
<rect x="681.80" y="95.82" width="11.30" height="13.44" fill="#1078ff"/>
<rect x="693.00" y="95.82" width="11.30" height="13.44" fill="#0210a0"/>
<rect x="704.20" y="95.82" width="11.30" height="13.44" fill="#1060ff"/>
<rect x="726.60" y="95.82" width="11.30" height="13.44" fill="#0818a0"/>
<rect x="637.00" y="109.16" width="11.30" height="13.44" fill="#30c8f8"/>
<rect x="648.20" y="109.16" width="11.30" height="13.44" fill="#38d8f0"/>
<rect x="659.40" y="109.16" width="11.30" height="13.44" fill="#20a0ff"/>
<rect x="670.60" y="109.16" width="11.30" height="13.44" fill="#30c0ff"/>
<rect x="681.80" y="109.16" width="11.30" height="13.44" fill="#40d0f0"/>
<rect x="693.00" y="109.16" width="11.30" height="13.44" fill="#1068ff"/>
<rect x="603.40" y="122.50" width="11.30" height="13.44" fill="#0818a8"/>
<rect x="614.60" y="122.50" width="11.30" height="13.44" fill="#0838f0"/>
<rect x="625.80" y="122.50" width="11.30" height="13.44" fill="#1888ff"/>
<rect x="637.00" y="122.50" width="11.30" height="13.44" fill="#1060ff"/>
<rect x="648.20" y="122.50" width="11.30" height="13.44" fill="#28a8ff"/>
<rect x="659.40" y="122.50" width="11.30" height="13.44" fill="#50e8d0"/>
<rect x="670.60" y="122.50" width="11.30" height="13.44" fill="#f0a860"/>
<rect x="681.80" y="122.50" width="11.30" height="13.44" fill="#40e0e0"/>
<rect x="693.00" y="122.50" width="11.30" height="13.44" fill="#0818b0"/>
<rect x="603.40" y="135.84" width="11.30" height="13.44" fill="#0840ff"/>
<rect x="614.60" y="135.84" width="11.30" height="13.44" fill="#1058ff"/>
<rect x="625.80" y="135.84" width="11.30" height="13.44" fill="#28a8ff"/>
<rect x="637.00" y="135.84" width="11.30" height="13.44" fill="#2090ff"/>
<rect x="648.20" y="135.84" width="11.30" height="13.44" fill="#50e8d0"/>
<rect x="659.40" y="135.84" width="11.30" height="13.44" fill="#38c0f0"/>
<rect x="670.60" y="135.84" width="11.30" height="13.44" fill="#1050ff"/>
<rect x="592.20" y="149.18" width="11.30" height="13.44" fill="#0828c8"/>
<rect x="603.40" y="149.18" width="11.30" height="13.44" fill="#0818a0"/>
<rect x="614.60" y="149.18" width="11.30" height="13.44" fill="#30c8f0"/>
<rect x="625.80" y="149.18" width="11.30" height="13.44" fill="#2098ff"/>
<rect x="637.00" y="149.18" width="11.30" height="13.44" fill="#28a8ff"/>
<rect x="648.20" y="149.18" width="11.30" height="13.44" fill="#60f0c8"/>
<rect x="659.40" y="149.18" width="11.30" height="13.44" fill="#90f0a0"/>
<rect x="670.60" y="149.18" width="11.30" height="13.44" fill="#0828d0"/>
<rect x="681.80" y="149.18" width="11.30" height="13.44" fill="#0820b8"/>
<rect x="592.20" y="162.52" width="11.30" height="13.44" fill="#0838e8"/>
<rect x="603.40" y="162.52" width="11.30" height="13.44" fill="#0824c8"/>
<rect x="614.60" y="162.52" width="11.30" height="13.44" fill="#40d8e8"/>
<rect x="625.80" y="162.52" width="11.30" height="13.44" fill="#0414a4"/>
<rect x="637.00" y="162.52" width="11.30" height="13.44" fill="#58f0d0"/>
<rect x="648.20" y="162.52" width="11.30" height="13.44" fill="#d0f890"/>
<rect x="659.40" y="162.52" width="11.30" height="13.44" fill="#0828d0"/>
<rect x="592.20" y="175.86" width="11.30" height="13.44" fill="#1048f0"/>
<rect x="603.40" y="175.86" width="11.30" height="13.44" fill="#28a8ff"/>
<rect x="614.60" y="175.86" width="11.30" height="13.44" fill="#28a0ff"/>
<rect x="625.80" y="175.86" width="11.30" height="13.44" fill="#2090ff"/>
<rect x="637.00" y="175.86" width="11.30" height="13.44" fill="#50e8d8"/>
<rect x="648.20" y="175.86" width="11.30" height="13.44" fill="#1040e0"/>
<rect x="592.20" y="189.20" width="11.30" height="13.44" fill="#1060ff"/>
<rect x="603.40" y="189.20" width="11.30" height="13.44" fill="#0840f0"/>
<rect x="614.60" y="189.20" width="11.30" height="13.44" fill="#0848f8"/>
<rect x="625.80" y="189.20" width="11.30" height="13.44" fill="#1878ff"/>
<rect x="637.00" y="189.20" width="11.30" height="13.44" fill="#2090ff"/>
<rect x="592.20" y="202.54" width="11.30" height="13.44" fill="#0818a8"/>
<rect x="603.40" y="202.54" width="11.30" height="13.44" fill="#2088ff"/>
<rect x="614.60" y="202.54" width="11.30" height="13.44" fill="#20a0ff"/>
<rect x="625.80" y="202.54" width="11.30" height="13.44" fill="#1068ff"/>
<rect x="592.20" y="215.88" width="11.30" height="13.44" fill="#0838f0"/>
<rect x="603.40" y="215.88" width="11.30" height="13.44" fill="#1060ff"/>
<rect x="614.60" y="215.88" width="11.30" height="13.44" fill="#0818a0"/>
<rect x="625.80" y="215.88" width="11.30" height="13.44" fill="#0010a0"/>
<path d="M660.2 40.2V37.3H708.4V40.2" fill="none" stroke="#444" stroke-width="0.6"/>
<text x="684.3" y="54.6" font-family="'Liberation Sans',sans-serif" font-size="11" fill="#111" text-anchor="middle">5 km</text>
<circle cx="676.6" cy="129.8" r="11" fill="none" stroke="#d01064" stroke-width="1.7"/>
<polygon points="663.5,141.3 656.8,153 670.2,153" fill="#fff"/>
<text x="639.2" y="114" font-family="'Liberation Sans',sans-serif" font-style="italic" font-size="12.4" fill="#fff" textLength="76" lengthAdjust="spacingAndGlyphs">Optimal result</text>
<text x="621.9" y="166.1" font-family="'Liberation Sans',sans-serif" font-style="italic" font-weight="bold" font-size="13.2" fill="#f0683c" textLength="89" lengthAdjust="spacingAndGlyphs">K-NET OIT009</text>
<text x="592.9" y="244.3" font-family="'Liberation Sans',sans-serif" font-size="11.2" fill="#111" textLength="82.4" lengthAdjust="spacingAndGlyphs">Depth = 5.00 km</text>
<text x="592.9" y="257.8" font-family="'Liberation Sans',sans-serif" font-size="11.2" fill="#111" textLength="67.6" lengthAdjust="spacingAndGlyphs">Time = 33.5 s</text>
<g font-family="'Liberation Sans',sans-serif" font-size="11" fill="#111">
<text x="541.2" y="107" textLength="28.6" lengthAdjust="spacingAndGlyphs">33˚18'</text>
<text x="541.2" y="214" textLength="28.6" lengthAdjust="spacingAndGlyphs">33˚12'</text>
<text x="625.2" y="280.5" text-anchor="middle">131˚18'</text>
<text x="714" y="280.5" text-anchor="middle">131˚24'</text>
</g>
<text x="548.5" y="299.3" font-family="'Liberation Sans',sans-serif" font-size="11.2" fill="#111" textLength="233.5" lengthAdjust="spacingAndGlyphs">Stacked amplitude at an elapsed time of 33.5 s</text>
<text x="572.5" y="312.3" font-family="'Liberation Sans',sans-serif" font-size="11.2" fill="#111" textLength="185.7" lengthAdjust="spacingAndGlyphs">from the origin time of the mainshock</text>
</svg></body></html>
